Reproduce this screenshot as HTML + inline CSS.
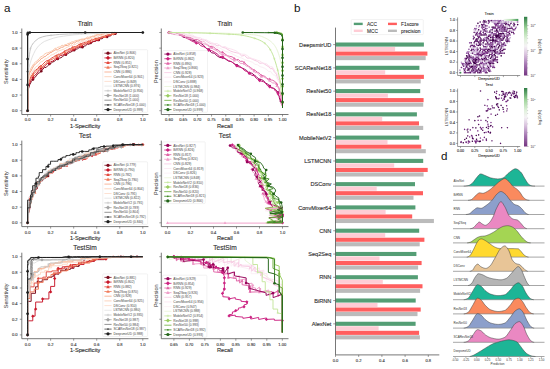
<!DOCTYPE html>
<html><head><meta charset="utf-8"><style>
html,body{margin:0;padding:0;background:#fff;width:550px;height:369px;overflow:hidden}
svg{display:block}
text{font-family:"Liberation Sans",sans-serif}
</style></head><body>
<svg width="550" height="369" viewBox="0 0 550 369">
<rect width="550" height="369" fill="#fff"/>
<defs>
<linearGradient id="cbar" x1="0" y1="1" x2="0" y2="0">
<stop offset="0" stop-color="#743581"/><stop offset="0.18" stop-color="#a273b0"/><stop offset="0.36" stop-color="#d9c3de"/>
<stop offset="0.5" stop-color="#f5f2f5"/><stop offset="0.62" stop-color="#e0f1db"/><stop offset="0.8" stop-color="#9fd49b"/>
<stop offset="1" stop-color="#2f7d45"/></linearGradient>
<linearGradient id="gstrip" x1="0" y1="0" x2="1" y2="0">
<stop offset="0" stop-color="#eef5ec"/><stop offset="0.5" stop-color="#b6dfb0"/><stop offset="1" stop-color="#3e9655"/></linearGradient>
</defs>
<line x1="21.8" y1="28.5" x2="21.8" y2="114.5" stroke="#555555" stroke-width="0.8" />
<line x1="21.8" y1="114.5" x2="148.4" y2="114.5" stroke="#555555" stroke-width="0.8" />
<line x1="19.8" y1="32.5" x2="21.8" y2="32.5" stroke="#555555" stroke-width="0.6" />
<text x="17.6" y="33.95" font-size="4.1" text-anchor="end" fill="#333333" stroke="#333333" stroke-width="0.1" >1.0</text>
<line x1="19.8" y1="48.14" x2="21.8" y2="48.14" stroke="#555555" stroke-width="0.6" />
<text x="17.6" y="49.59" font-size="4.1" text-anchor="end" fill="#333333" stroke="#333333" stroke-width="0.1" >0.8</text>
<line x1="19.8" y1="63.78" x2="21.8" y2="63.78" stroke="#555555" stroke-width="0.6" />
<text x="17.6" y="65.23" font-size="4.1" text-anchor="end" fill="#333333" stroke="#333333" stroke-width="0.1" >0.6</text>
<line x1="19.8" y1="79.42" x2="21.8" y2="79.42" stroke="#555555" stroke-width="0.6" />
<text x="17.6" y="80.87" font-size="4.1" text-anchor="end" fill="#333333" stroke="#333333" stroke-width="0.1" >0.4</text>
<line x1="19.8" y1="95.06" x2="21.8" y2="95.06" stroke="#555555" stroke-width="0.6" />
<text x="17.6" y="96.51" font-size="4.1" text-anchor="end" fill="#333333" stroke="#333333" stroke-width="0.1" >0.2</text>
<line x1="19.8" y1="110.7" x2="21.8" y2="110.7" stroke="#555555" stroke-width="0.6" />
<text x="17.6" y="112.15" font-size="4.1" text-anchor="end" fill="#333333" stroke="#333333" stroke-width="0.1" >0.0</text>
<line x1="27.6" y1="114.5" x2="27.6" y2="116.5" stroke="#555555" stroke-width="0.6" />
<text x="27.6" y="121.4" font-size="4.1" text-anchor="middle" fill="#333333" stroke="#333333" stroke-width="0.1" >0.0</text>
<line x1="50.64" y1="114.5" x2="50.64" y2="116.5" stroke="#555555" stroke-width="0.6" />
<text x="50.64" y="121.4" font-size="4.1" text-anchor="middle" fill="#333333" stroke="#333333" stroke-width="0.1" >0.2</text>
<line x1="73.68" y1="114.5" x2="73.68" y2="116.5" stroke="#555555" stroke-width="0.6" />
<text x="73.68" y="121.4" font-size="4.1" text-anchor="middle" fill="#333333" stroke="#333333" stroke-width="0.1" >0.4</text>
<line x1="96.72" y1="114.5" x2="96.72" y2="116.5" stroke="#555555" stroke-width="0.6" />
<text x="96.72" y="121.4" font-size="4.1" text-anchor="middle" fill="#333333" stroke="#333333" stroke-width="0.1" >0.6</text>
<line x1="119.76" y1="114.5" x2="119.76" y2="116.5" stroke="#555555" stroke-width="0.6" />
<text x="119.76" y="121.4" font-size="4.1" text-anchor="middle" fill="#333333" stroke="#333333" stroke-width="0.1" >0.8</text>
<line x1="142.8" y1="114.5" x2="142.8" y2="116.5" stroke="#555555" stroke-width="0.6" />
<text x="142.8" y="121.4" font-size="4.1" text-anchor="middle" fill="#333333" stroke="#333333" stroke-width="0.1" >1.0</text>
<text x="85.1" y="128" font-size="5.65" text-anchor="middle" fill="#333333" stroke="#333333" stroke-width="0.14" >1-Specificity</text>
<text x="85.1" y="25.9" font-size="6.6" text-anchor="middle" fill="#333" stroke="#333" stroke-width="0.14" >Train</text>
<text x="7.8" y="71.6" font-size="5.5" text-anchor="middle" fill="#333333" transform="rotate(-90 7.8 71.6)">Sensitivity</text>
<line x1="161.3" y1="28.5" x2="161.3" y2="114.5" stroke="#555555" stroke-width="0.8" />
<line x1="161.3" y1="114.5" x2="288.5" y2="114.5" stroke="#555555" stroke-width="0.8" />
<line x1="159.3" y1="32.5" x2="161.3" y2="32.5" stroke="#555555" stroke-width="0.6" />
<line x1="159.3" y1="48.14" x2="161.3" y2="48.14" stroke="#555555" stroke-width="0.6" />
<line x1="159.3" y1="63.78" x2="161.3" y2="63.78" stroke="#555555" stroke-width="0.6" />
<line x1="159.3" y1="79.42" x2="161.3" y2="79.42" stroke="#555555" stroke-width="0.6" />
<line x1="159.3" y1="95.06" x2="161.3" y2="95.06" stroke="#555555" stroke-width="0.6" />
<line x1="159.3" y1="110.7" x2="161.3" y2="110.7" stroke="#555555" stroke-width="0.6" />
<line x1="169" y1="114.5" x2="169" y2="116.5" stroke="#555555" stroke-width="0.6" />
<text x="169" y="121.4" font-size="4.1" text-anchor="middle" fill="#333333" stroke="#333333" stroke-width="0.1" >0.60</text>
<line x1="183.19" y1="114.5" x2="183.19" y2="116.5" stroke="#555555" stroke-width="0.6" />
<text x="183.19" y="121.4" font-size="4.1" text-anchor="middle" fill="#333333" stroke="#333333" stroke-width="0.1" >0.65</text>
<line x1="197.38" y1="114.5" x2="197.38" y2="116.5" stroke="#555555" stroke-width="0.6" />
<text x="197.38" y="121.4" font-size="4.1" text-anchor="middle" fill="#333333" stroke="#333333" stroke-width="0.1" >0.70</text>
<line x1="211.56" y1="114.5" x2="211.56" y2="116.5" stroke="#555555" stroke-width="0.6" />
<text x="211.56" y="121.4" font-size="4.1" text-anchor="middle" fill="#333333" stroke="#333333" stroke-width="0.1" >0.75</text>
<line x1="225.75" y1="114.5" x2="225.75" y2="116.5" stroke="#555555" stroke-width="0.6" />
<text x="225.75" y="121.4" font-size="4.1" text-anchor="middle" fill="#333333" stroke="#333333" stroke-width="0.1" >0.80</text>
<line x1="239.94" y1="114.5" x2="239.94" y2="116.5" stroke="#555555" stroke-width="0.6" />
<text x="239.94" y="121.4" font-size="4.1" text-anchor="middle" fill="#333333" stroke="#333333" stroke-width="0.1" >0.85</text>
<line x1="254.12" y1="114.5" x2="254.12" y2="116.5" stroke="#555555" stroke-width="0.6" />
<text x="254.12" y="121.4" font-size="4.1" text-anchor="middle" fill="#333333" stroke="#333333" stroke-width="0.1" >0.90</text>
<line x1="268.31" y1="114.5" x2="268.31" y2="116.5" stroke="#555555" stroke-width="0.6" />
<text x="268.31" y="121.4" font-size="4.1" text-anchor="middle" fill="#333333" stroke="#333333" stroke-width="0.1" >0.95</text>
<line x1="282.5" y1="114.5" x2="282.5" y2="116.5" stroke="#555555" stroke-width="0.6" />
<text x="282.5" y="121.4" font-size="4.1" text-anchor="middle" fill="#333333" stroke="#333333" stroke-width="0.1" >1.00</text>
<text x="224.9" y="128" font-size="5.65" text-anchor="middle" fill="#333333" stroke="#333333" stroke-width="0.14" >Recall</text>
<text x="224.9" y="25.9" font-size="6.6" text-anchor="middle" fill="#333" stroke="#333" stroke-width="0.14" >Train</text>
<text x="158.4" y="71.6" font-size="5.5" text-anchor="middle" fill="#333333" transform="rotate(-90 158.4 71.6)">Precision</text>
<line x1="21.8" y1="140.6" x2="21.8" y2="226.6" stroke="#555555" stroke-width="0.8" />
<line x1="21.8" y1="226.6" x2="148.4" y2="226.6" stroke="#555555" stroke-width="0.8" />
<line x1="19.8" y1="144.6" x2="21.8" y2="144.6" stroke="#555555" stroke-width="0.6" />
<text x="17.6" y="146.05" font-size="4.1" text-anchor="end" fill="#333333" stroke="#333333" stroke-width="0.1" >1.0</text>
<line x1="19.8" y1="160.24" x2="21.8" y2="160.24" stroke="#555555" stroke-width="0.6" />
<text x="17.6" y="161.69" font-size="4.1" text-anchor="end" fill="#333333" stroke="#333333" stroke-width="0.1" >0.8</text>
<line x1="19.8" y1="175.88" x2="21.8" y2="175.88" stroke="#555555" stroke-width="0.6" />
<text x="17.6" y="177.33" font-size="4.1" text-anchor="end" fill="#333333" stroke="#333333" stroke-width="0.1" >0.6</text>
<line x1="19.8" y1="191.52" x2="21.8" y2="191.52" stroke="#555555" stroke-width="0.6" />
<text x="17.6" y="192.97" font-size="4.1" text-anchor="end" fill="#333333" stroke="#333333" stroke-width="0.1" >0.4</text>
<line x1="19.8" y1="207.16" x2="21.8" y2="207.16" stroke="#555555" stroke-width="0.6" />
<text x="17.6" y="208.61" font-size="4.1" text-anchor="end" fill="#333333" stroke="#333333" stroke-width="0.1" >0.2</text>
<line x1="19.8" y1="222.8" x2="21.8" y2="222.8" stroke="#555555" stroke-width="0.6" />
<text x="17.6" y="224.25" font-size="4.1" text-anchor="end" fill="#333333" stroke="#333333" stroke-width="0.1" >0.0</text>
<line x1="27.6" y1="226.6" x2="27.6" y2="228.6" stroke="#555555" stroke-width="0.6" />
<text x="27.6" y="233.5" font-size="4.1" text-anchor="middle" fill="#333333" stroke="#333333" stroke-width="0.1" >0.0</text>
<line x1="50.64" y1="226.6" x2="50.64" y2="228.6" stroke="#555555" stroke-width="0.6" />
<text x="50.64" y="233.5" font-size="4.1" text-anchor="middle" fill="#333333" stroke="#333333" stroke-width="0.1" >0.2</text>
<line x1="73.68" y1="226.6" x2="73.68" y2="228.6" stroke="#555555" stroke-width="0.6" />
<text x="73.68" y="233.5" font-size="4.1" text-anchor="middle" fill="#333333" stroke="#333333" stroke-width="0.1" >0.4</text>
<line x1="96.72" y1="226.6" x2="96.72" y2="228.6" stroke="#555555" stroke-width="0.6" />
<text x="96.72" y="233.5" font-size="4.1" text-anchor="middle" fill="#333333" stroke="#333333" stroke-width="0.1" >0.6</text>
<line x1="119.76" y1="226.6" x2="119.76" y2="228.6" stroke="#555555" stroke-width="0.6" />
<text x="119.76" y="233.5" font-size="4.1" text-anchor="middle" fill="#333333" stroke="#333333" stroke-width="0.1" >0.8</text>
<line x1="142.8" y1="226.6" x2="142.8" y2="228.6" stroke="#555555" stroke-width="0.6" />
<text x="142.8" y="233.5" font-size="4.1" text-anchor="middle" fill="#333333" stroke="#333333" stroke-width="0.1" >1.0</text>
<text x="85.1" y="240.1" font-size="5.65" text-anchor="middle" fill="#333333" stroke="#333333" stroke-width="0.14" >1-Specificity</text>
<text x="85.1" y="138" font-size="6.6" text-anchor="middle" fill="#333" stroke="#333" stroke-width="0.14" >Test</text>
<text x="7.8" y="183.7" font-size="5.5" text-anchor="middle" fill="#333333" transform="rotate(-90 7.8 183.7)">Sensitivity</text>
<line x1="161.3" y1="140.6" x2="161.3" y2="226.6" stroke="#555555" stroke-width="0.8" />
<line x1="161.3" y1="226.6" x2="288.5" y2="226.6" stroke="#555555" stroke-width="0.8" />
<line x1="159.3" y1="144.6" x2="161.3" y2="144.6" stroke="#555555" stroke-width="0.6" />
<line x1="159.3" y1="160.24" x2="161.3" y2="160.24" stroke="#555555" stroke-width="0.6" />
<line x1="159.3" y1="175.88" x2="161.3" y2="175.88" stroke="#555555" stroke-width="0.6" />
<line x1="159.3" y1="191.52" x2="161.3" y2="191.52" stroke="#555555" stroke-width="0.6" />
<line x1="159.3" y1="207.16" x2="161.3" y2="207.16" stroke="#555555" stroke-width="0.6" />
<line x1="159.3" y1="222.8" x2="161.3" y2="222.8" stroke="#555555" stroke-width="0.6" />
<line x1="167.5" y1="226.6" x2="167.5" y2="228.6" stroke="#555555" stroke-width="0.6" />
<text x="167.5" y="233.5" font-size="4.1" text-anchor="middle" fill="#333333" stroke="#333333" stroke-width="0.1" >0.0</text>
<line x1="190.5" y1="226.6" x2="190.5" y2="228.6" stroke="#555555" stroke-width="0.6" />
<text x="190.5" y="233.5" font-size="4.1" text-anchor="middle" fill="#333333" stroke="#333333" stroke-width="0.1" >0.2</text>
<line x1="213.5" y1="226.6" x2="213.5" y2="228.6" stroke="#555555" stroke-width="0.6" />
<text x="213.5" y="233.5" font-size="4.1" text-anchor="middle" fill="#333333" stroke="#333333" stroke-width="0.1" >0.4</text>
<line x1="236.5" y1="226.6" x2="236.5" y2="228.6" stroke="#555555" stroke-width="0.6" />
<text x="236.5" y="233.5" font-size="4.1" text-anchor="middle" fill="#333333" stroke="#333333" stroke-width="0.1" >0.6</text>
<line x1="259.5" y1="226.6" x2="259.5" y2="228.6" stroke="#555555" stroke-width="0.6" />
<text x="259.5" y="233.5" font-size="4.1" text-anchor="middle" fill="#333333" stroke="#333333" stroke-width="0.1" >0.8</text>
<line x1="282.5" y1="226.6" x2="282.5" y2="228.6" stroke="#555555" stroke-width="0.6" />
<text x="282.5" y="233.5" font-size="4.1" text-anchor="middle" fill="#333333" stroke="#333333" stroke-width="0.1" >1.0</text>
<text x="224.9" y="240.1" font-size="5.65" text-anchor="middle" fill="#333333" stroke="#333333" stroke-width="0.14" >Recall</text>
<text x="224.9" y="138" font-size="6.6" text-anchor="middle" fill="#333" stroke="#333" stroke-width="0.14" >Test</text>
<text x="158.4" y="183.7" font-size="5.5" text-anchor="middle" fill="#333333" transform="rotate(-90 158.4 183.7)">Precision</text>
<line x1="21.8" y1="252.7" x2="21.8" y2="338.7" stroke="#555555" stroke-width="0.8" />
<line x1="21.8" y1="338.7" x2="148.4" y2="338.7" stroke="#555555" stroke-width="0.8" />
<line x1="19.8" y1="256.7" x2="21.8" y2="256.7" stroke="#555555" stroke-width="0.6" />
<text x="17.6" y="258.15" font-size="4.1" text-anchor="end" fill="#333333" stroke="#333333" stroke-width="0.1" >1.0</text>
<line x1="19.8" y1="272.34" x2="21.8" y2="272.34" stroke="#555555" stroke-width="0.6" />
<text x="17.6" y="273.79" font-size="4.1" text-anchor="end" fill="#333333" stroke="#333333" stroke-width="0.1" >0.8</text>
<line x1="19.8" y1="287.98" x2="21.8" y2="287.98" stroke="#555555" stroke-width="0.6" />
<text x="17.6" y="289.43" font-size="4.1" text-anchor="end" fill="#333333" stroke="#333333" stroke-width="0.1" >0.6</text>
<line x1="19.8" y1="303.62" x2="21.8" y2="303.62" stroke="#555555" stroke-width="0.6" />
<text x="17.6" y="305.07" font-size="4.1" text-anchor="end" fill="#333333" stroke="#333333" stroke-width="0.1" >0.4</text>
<line x1="19.8" y1="319.26" x2="21.8" y2="319.26" stroke="#555555" stroke-width="0.6" />
<text x="17.6" y="320.71" font-size="4.1" text-anchor="end" fill="#333333" stroke="#333333" stroke-width="0.1" >0.2</text>
<line x1="19.8" y1="334.9" x2="21.8" y2="334.9" stroke="#555555" stroke-width="0.6" />
<text x="17.6" y="336.35" font-size="4.1" text-anchor="end" fill="#333333" stroke="#333333" stroke-width="0.1" >0.0</text>
<line x1="27.6" y1="338.7" x2="27.6" y2="340.7" stroke="#555555" stroke-width="0.6" />
<text x="27.6" y="345.6" font-size="4.1" text-anchor="middle" fill="#333333" stroke="#333333" stroke-width="0.1" >0.0</text>
<line x1="50.64" y1="338.7" x2="50.64" y2="340.7" stroke="#555555" stroke-width="0.6" />
<text x="50.64" y="345.6" font-size="4.1" text-anchor="middle" fill="#333333" stroke="#333333" stroke-width="0.1" >0.2</text>
<line x1="73.68" y1="338.7" x2="73.68" y2="340.7" stroke="#555555" stroke-width="0.6" />
<text x="73.68" y="345.6" font-size="4.1" text-anchor="middle" fill="#333333" stroke="#333333" stroke-width="0.1" >0.4</text>
<line x1="96.72" y1="338.7" x2="96.72" y2="340.7" stroke="#555555" stroke-width="0.6" />
<text x="96.72" y="345.6" font-size="4.1" text-anchor="middle" fill="#333333" stroke="#333333" stroke-width="0.1" >0.6</text>
<line x1="119.76" y1="338.7" x2="119.76" y2="340.7" stroke="#555555" stroke-width="0.6" />
<text x="119.76" y="345.6" font-size="4.1" text-anchor="middle" fill="#333333" stroke="#333333" stroke-width="0.1" >0.8</text>
<line x1="142.8" y1="338.7" x2="142.8" y2="340.7" stroke="#555555" stroke-width="0.6" />
<text x="142.8" y="345.6" font-size="4.1" text-anchor="middle" fill="#333333" stroke="#333333" stroke-width="0.1" >1.0</text>
<text x="85.1" y="352.2" font-size="5.65" text-anchor="middle" fill="#333333" stroke="#333333" stroke-width="0.14" >1-Specificity</text>
<text x="85.1" y="250.1" font-size="6.6" text-anchor="middle" fill="#333" stroke="#333" stroke-width="0.14" >TestSim</text>
<text x="7.8" y="295.8" font-size="5.5" text-anchor="middle" fill="#333333" transform="rotate(-90 7.8 295.8)">Sensitivity</text>
<line x1="161.3" y1="252.7" x2="161.3" y2="338.7" stroke="#555555" stroke-width="0.8" />
<line x1="161.3" y1="338.7" x2="288.5" y2="338.7" stroke="#555555" stroke-width="0.8" />
<line x1="159.3" y1="256.7" x2="161.3" y2="256.7" stroke="#555555" stroke-width="0.6" />
<line x1="159.3" y1="272.34" x2="161.3" y2="272.34" stroke="#555555" stroke-width="0.6" />
<line x1="159.3" y1="287.98" x2="161.3" y2="287.98" stroke="#555555" stroke-width="0.6" />
<line x1="159.3" y1="303.62" x2="161.3" y2="303.62" stroke="#555555" stroke-width="0.6" />
<line x1="159.3" y1="319.26" x2="161.3" y2="319.26" stroke="#555555" stroke-width="0.6" />
<line x1="159.3" y1="334.9" x2="161.3" y2="334.9" stroke="#555555" stroke-width="0.6" />
<line x1="173.9" y1="338.7" x2="173.9" y2="340.7" stroke="#555555" stroke-width="0.6" />
<text x="173.9" y="345.6" font-size="4.1" text-anchor="middle" fill="#333333" stroke="#333333" stroke-width="0.1" >0.65</text>
<line x1="189.38" y1="338.7" x2="189.38" y2="340.7" stroke="#555555" stroke-width="0.6" />
<text x="189.38" y="345.6" font-size="4.1" text-anchor="middle" fill="#333333" stroke="#333333" stroke-width="0.1" >0.70</text>
<line x1="204.87" y1="338.7" x2="204.87" y2="340.7" stroke="#555555" stroke-width="0.6" />
<text x="204.87" y="345.6" font-size="4.1" text-anchor="middle" fill="#333333" stroke="#333333" stroke-width="0.1" >0.75</text>
<line x1="220.36" y1="338.7" x2="220.36" y2="340.7" stroke="#555555" stroke-width="0.6" />
<text x="220.36" y="345.6" font-size="4.1" text-anchor="middle" fill="#333333" stroke="#333333" stroke-width="0.1" >0.80</text>
<line x1="235.84" y1="338.7" x2="235.84" y2="340.7" stroke="#555555" stroke-width="0.6" />
<text x="235.84" y="345.6" font-size="4.1" text-anchor="middle" fill="#333333" stroke="#333333" stroke-width="0.1" >0.85</text>
<line x1="251.32" y1="338.7" x2="251.32" y2="340.7" stroke="#555555" stroke-width="0.6" />
<text x="251.32" y="345.6" font-size="4.1" text-anchor="middle" fill="#333333" stroke="#333333" stroke-width="0.1" >0.90</text>
<line x1="266.81" y1="338.7" x2="266.81" y2="340.7" stroke="#555555" stroke-width="0.6" />
<text x="266.81" y="345.6" font-size="4.1" text-anchor="middle" fill="#333333" stroke="#333333" stroke-width="0.1" >0.95</text>
<line x1="282.3" y1="338.7" x2="282.3" y2="340.7" stroke="#555555" stroke-width="0.6" />
<text x="282.3" y="345.6" font-size="4.1" text-anchor="middle" fill="#333333" stroke="#333333" stroke-width="0.1" >1.00</text>
<text x="224.9" y="352.2" font-size="5.65" text-anchor="middle" fill="#333333" stroke="#333333" stroke-width="0.14" >Recall</text>
<text x="224.9" y="250.1" font-size="6.6" text-anchor="middle" fill="#333" stroke="#333" stroke-width="0.14" >TestSim</text>
<text x="158.4" y="295.8" font-size="5.5" text-anchor="middle" fill="#333333" transform="rotate(-90 158.4 295.8)">Precision</text>
<text x="4" y="11.7" font-size="11.6" text-anchor="start" fill="#111" >a</text>
<text x="294" y="11.6" font-size="11.6" text-anchor="start" fill="#111" >b</text>
<text x="441" y="11.6" font-size="11.6" text-anchor="start" fill="#111" >c</text>
<text x="441" y="160.4" font-size="11.6" text-anchor="start" fill="#111" >d</text>
<polyline points="118.61,32.5 142.8,32.5" fill="none" stroke="#7a0a1c" stroke-width="1.0" stroke-linejoin="round" />
<polyline points="27.6,110.7 27.6,110.36 28.06,90.19 29.71,84.72 31.35,81.56 33,79.46 34.65,77.71 36.29,75.89 37.94,73.49 39.58,72.65 41.23,71.28 42.88,69.15 44.52,67.5 46.17,67.43 47.82,65.58 49.46,64.05 51.11,63.18 52.76,61.96 54.4,61.45 56.05,59.65 57.69,58.92 59.34,58.17 60.99,57.73 62.63,56.53 64.28,55.25 65.93,54.66 67.57,53.81 69.22,52.74 70.86,52.04 72.51,51.06 74.16,50.32 75.8,49.28 77.45,48.87 79.1,47.62 80.74,47.61 82.39,47.16 84.04,46.17 85.68,45.69 87.33,44.09 88.97,44.37 90.62,42.95 92.27,42.37 93.91,41.36 95.56,41.47 97.21,39.99 98.85,39.97 100.5,38.83 102.14,38.77 103.79,37.4 105.44,37.48 107.08,37.07 108.73,36.17 110.38,35.94 112.02,34.43 113.67,34.68 115.32,33.8 116.96,32.52 118.61,32.5" fill="none" stroke="#7a0a1c" stroke-width="1.0" stroke-linejoin="round" />
<circle cx="27.6" cy="110.7" r="1.3" fill="#7a0a1c"/>
<circle cx="33" cy="79.46" r="1.3" fill="#7a0a1c"/>
<circle cx="41.23" cy="71.28" r="1.3" fill="#7a0a1c"/>
<circle cx="49.46" cy="64.05" r="1.3" fill="#7a0a1c"/>
<circle cx="57.69" cy="58.92" r="1.3" fill="#7a0a1c"/>
<circle cx="65.93" cy="54.66" r="1.3" fill="#7a0a1c"/>
<circle cx="74.16" cy="50.32" r="1.3" fill="#7a0a1c"/>
<circle cx="82.39" cy="47.16" r="1.3" fill="#7a0a1c"/>
<circle cx="90.62" cy="42.95" r="1.3" fill="#7a0a1c"/>
<circle cx="98.85" cy="39.97" r="1.3" fill="#7a0a1c"/>
<circle cx="107.08" cy="37.07" r="1.3" fill="#7a0a1c"/>
<circle cx="115.32" cy="33.8" r="1.3" fill="#7a0a1c"/>
<polyline points="117.46,32.5 142.8,32.5" fill="none" stroke="#c8172a" stroke-width="1.0" stroke-linejoin="round" />
<polyline points="27.6,110.7 27.6,111.1 28.06,88.28 29.69,82.92 31.31,79.57 32.94,77.55 34.56,75.41 36.19,74.17 37.81,71.91 39.44,69.81 41.06,68.49 42.69,67.29 44.31,66.79 45.94,64.59 47.57,63.47 49.19,63.22 50.82,61.56 52.44,61.28 54.07,60.16 55.69,58.93 57.32,58.18 58.94,56.51 60.57,55.53 62.19,55.25 63.82,54.43 65.44,53.85 67.07,53.06 68.69,51.47 70.32,50.83 71.95,50.74 73.57,49.45 75.2,48.8 76.82,47.51 78.45,46.95 80.07,46.39 81.7,45.75 83.32,44.57 84.95,43.84 86.57,43.99 88.2,43.45 89.82,42.1 91.45,42.38 93.08,41.37 94.7,41.11 96.33,40.18 97.95,39.88 99.58,39 101.2,37.78 102.83,37.05 104.45,36.6 106.08,36.31 107.7,35.67 109.33,35.42 110.95,35.1 112.58,34.21 114.21,33.29 115.83,33.59 117.46,32.5" fill="none" stroke="#c8172a" stroke-width="1.0" stroke-linejoin="round" />
<path d="M27.6,109.05L29.25,110.7L27.6,112.35L25.95,110.7Z" fill="#c8172a"/>
<path d="M32.94,75.9L34.59,77.55L32.94,79.2L31.29,77.55Z" fill="#c8172a"/>
<path d="M41.06,66.84L42.71,68.49L41.06,70.14L39.41,68.49Z" fill="#c8172a"/>
<path d="M49.19,61.57L50.84,63.22L49.19,64.87L47.54,63.22Z" fill="#c8172a"/>
<path d="M57.32,56.53L58.97,58.18L57.32,59.83L55.67,58.18Z" fill="#c8172a"/>
<path d="M65.44,52.2L67.09,53.85L65.44,55.5L63.79,53.85Z" fill="#c8172a"/>
<path d="M73.57,47.8L75.22,49.45L73.57,51.1L71.92,49.45Z" fill="#c8172a"/>
<path d="M81.7,44.1L83.35,45.75L81.7,47.4L80.05,45.75Z" fill="#c8172a"/>
<path d="M89.82,40.45L91.47,42.1L89.82,43.75L88.17,42.1Z" fill="#c8172a"/>
<path d="M97.95,38.23L99.6,39.88L97.95,41.53L96.3,39.88Z" fill="#c8172a"/>
<path d="M106.08,34.66L107.73,36.31L106.08,37.96L104.43,36.31Z" fill="#c8172a"/>
<path d="M114.21,31.64L115.86,33.29L114.21,34.94L112.56,33.29Z" fill="#c8172a"/>
<polyline points="115.15,32.5 142.8,32.5" fill="none" stroke="#e2483c" stroke-width="1.0" stroke-linejoin="round" />
<polyline points="27.6,110.7 27.6,111.13 28.06,83.72 29.64,79.47 31.23,76.15 32.81,74.46 34.39,71.34 35.98,69.61 37.56,69.12 39.15,66.51 40.73,66.18 42.31,64.73 43.9,63.12 45.48,61.56 47.06,60.59 48.65,60.62 50.23,58.97 51.81,57.97 53.4,57.12 54.98,55.86 56.56,55.75 58.15,54.15 59.73,54.25 61.31,53.31 62.9,52.55 64.48,51.54 66.06,50.34 67.65,49.86 69.23,48.71 70.81,48.66 72.4,47.42 73.98,46.78 75.57,46.59 77.15,45.92 78.73,44.48 80.32,44.29 81.9,43.26 83.48,42.88 85.07,42.2 86.65,42.13 88.23,41.49 89.82,40.98 91.4,39.66 92.98,40.12 94.57,38.59 96.15,38.72 97.73,38.17 99.32,37.59 100.9,37.17 102.48,36.53 104.07,36.55 105.65,35.98 107.23,34.66 108.82,34.28 110.4,34.55 111.99,33.72 113.57,33.33 115.15,32.5" fill="none" stroke="#e2483c" stroke-width="1.0" stroke-linejoin="round" />
<path d="M27.6,109.25L29.05,111.79L26.15,111.79Z" fill="#e2483c"/>
<path d="M32.81,73.01L34.26,75.55L31.36,75.55Z" fill="#e2483c"/>
<path d="M40.73,64.73L42.18,67.27L39.28,67.27Z" fill="#e2483c"/>
<path d="M48.65,59.17L50.1,61.7L47.2,61.7Z" fill="#e2483c"/>
<path d="M56.56,54.3L58.01,56.84L55.11,56.84Z" fill="#e2483c"/>
<path d="M64.48,50.09L65.93,52.63L63.03,52.63Z" fill="#e2483c"/>
<path d="M72.4,45.97L73.85,48.51L70.95,48.51Z" fill="#e2483c"/>
<path d="M80.32,42.84L81.77,45.38L78.87,45.38Z" fill="#e2483c"/>
<path d="M88.23,40.04L89.68,42.58L86.78,42.58Z" fill="#e2483c"/>
<path d="M96.15,37.27L97.6,39.8L94.7,39.8Z" fill="#e2483c"/>
<path d="M104.07,35.1L105.52,37.64L102.62,37.64Z" fill="#e2483c"/>
<path d="M111.99,32.27L113.44,34.8L110.54,34.8Z" fill="#e2483c"/>
<polyline points="116.3,32.5 142.8,32.5" fill="none" stroke="#f07a5a" stroke-width="1.0" stroke-linejoin="round" />
<polyline points="27.6,110.7 27.6,110.35 28.06,86.06 29.67,80.44 31.27,77.24 32.87,74.85 34.48,73.47 36.08,71.48 37.69,69.64 39.29,68.31 40.9,66.82 42.5,66.37 44.11,64.8 45.71,63.93 47.31,61.81 48.92,61.34 50.52,59.92 52.13,59.45 53.73,58.37 55.34,57.86 56.94,56.52 58.54,54.9 60.15,54.96 61.75,53.99 63.36,52.43 64.96,52.74 66.57,51.92 68.17,50.45 69.78,49.4 71.38,49.75 72.98,48.11 74.59,47.32 76.19,47.55 77.8,46.14 79.4,45.66 81.01,45.03 82.61,43.79 84.22,44.35 85.82,43.41 87.42,42.2 89.03,42.08 90.63,41.53 92.24,40.41 93.84,39.54 95.45,39.81 97.05,38.97 98.66,38.65 100.26,37.94 101.86,37.1 103.47,36.34 105.07,36.68 106.68,35.37 108.28,35.01 109.89,35 111.49,34.53 113.1,33.83 114.7,33.44 116.3,32.5" fill="none" stroke="#f07a5a" stroke-width="1.0" stroke-linejoin="round" />
<path d="M27.6,109.25L29.05,111.79L26.15,111.79Z" fill="#f07a5a"/>
<path d="M32.87,73.4L34.32,75.93L31.42,75.93Z" fill="#f07a5a"/>
<path d="M40.9,65.37L42.35,67.91L39.45,67.91Z" fill="#f07a5a"/>
<path d="M48.92,59.89L50.37,62.43L47.47,62.43Z" fill="#f07a5a"/>
<path d="M56.94,55.07L58.39,57.61L55.49,57.61Z" fill="#f07a5a"/>
<path d="M64.96,51.29L66.41,53.83L63.51,53.83Z" fill="#f07a5a"/>
<path d="M72.98,46.66L74.43,49.2L71.53,49.2Z" fill="#f07a5a"/>
<path d="M81.01,43.58L82.46,46.12L79.56,46.12Z" fill="#f07a5a"/>
<path d="M89.03,40.63L90.48,43.16L87.58,43.16Z" fill="#f07a5a"/>
<path d="M97.05,37.52L98.5,40.05L95.6,40.05Z" fill="#f07a5a"/>
<path d="M105.07,35.23L106.52,37.77L103.62,37.77Z" fill="#f07a5a"/>
<path d="M113.1,32.38L114.55,34.92L111.65,34.92Z" fill="#f07a5a"/>
<polyline points="108.24,32.5 142.8,32.5" fill="none" stroke="#f7a583" stroke-width="1.0" stroke-linejoin="round" />
<polyline points="27.6,110.7 27.6,110.68 28.06,78.8 29.52,73.05 30.98,70.94 32.43,68.15 33.89,65.36 35.35,64.21 36.81,62.94 38.27,61.29 39.72,60.44 41.18,58.54 42.64,58.03 44.1,56.76 45.55,56.46 47.01,54.7 48.47,54.41 49.93,52.66 51.39,52.55 52.84,51.31 54.3,50.54 55.76,49.69 57.22,49.94 58.67,49.02 60.13,48.15 61.59,47.26 63.05,47.16 64.51,46 65.96,45.46 67.42,45.48 68.88,44.74 70.34,43.48 71.79,43.94 73.25,42.58 74.71,42.92 76.17,41.57 77.63,41.06 79.08,40.99 80.54,39.78 82,39.98 83.46,39.84 84.92,39.18 86.37,38.28 87.83,38.28 89.29,38.23 90.75,37.47 92.2,36.19 93.66,36.66 95.12,36.03 96.58,35.28 98.04,34.62 99.49,35.18 100.95,34.75 102.41,34.46 103.87,33.98 105.32,32.62 106.78,33.19 108.24,32.5" fill="none" stroke="#f7a583" stroke-width="1.0" stroke-linejoin="round" />
<polyline points="105.94,32.5 142.8,32.5" fill="none" stroke="#fbc9ad" stroke-width="1.0" stroke-linejoin="round" />
<polyline points="27.6,110.7 27.6,110.26 28.06,77.27 29.48,71.83 30.89,68.31 32.31,66.08 33.72,63.85 35.14,62.48 36.56,61.03 37.97,59.96 39.39,58.58 40.8,56.64 42.22,56.42 43.64,54.88 45.05,53.78 46.47,52.98 47.88,52.9 49.3,52.16 50.72,51.55 52.13,50.83 53.55,49.93 54.96,48.25 56.38,48.38 57.79,47.26 59.21,47 60.63,46.36 62.04,45.23 63.46,45.71 64.87,44.72 66.29,44.58 67.71,43.56 69.12,43.35 70.54,42.54 71.95,41.89 73.37,41.79 74.79,40.99 76.2,40.5 77.62,40.33 79.03,39.9 80.45,39.48 81.87,39.03 83.28,39.01 84.7,38.63 86.11,38.19 87.53,37.01 88.95,37.45 90.36,36.47 91.78,36.54 93.19,36.29 94.61,35.15 96.02,35.03 97.44,34 98.86,34.45 100.27,34.26 101.69,33.3 103.1,33.37 104.52,32.5 105.94,32.5" fill="none" stroke="#fbc9ad" stroke-width="1.0" stroke-linejoin="round" />
<polyline points="111.7,32.5 142.8,32.5" fill="none" stroke="#fcd9c6" stroke-width="1.0" stroke-linejoin="round" />
<polyline points="27.6,110.7 27.6,111.05 28.06,82.44 29.58,76.78 31.1,74.15 32.62,71.27 34.14,69.38 35.66,67 37.18,66.06 38.71,64.72 40.23,62.3 41.75,61.52 43.27,60.97 44.79,59.06 46.31,58.72 47.83,57.61 49.35,56.61 50.87,55.19 52.39,54.61 53.91,54.08 55.43,52.97 56.95,52.59 58.47,50.83 59.99,50.53 61.51,49.92 63.04,49.42 64.56,49.07 66.08,47.52 67.6,47.13 69.12,46.21 70.64,45.55 72.16,45.84 73.68,44.51 75.2,44.68 76.72,43.32 78.24,43.05 79.76,42.47 81.28,41.68 82.8,41.11 84.32,41.11 85.85,40.91 87.37,39.45 88.89,38.89 90.41,39.24 91.93,38.2 93.45,38.02 94.97,37.68 96.49,37.25 98.01,36.7 99.53,35.36 101.05,35.86 102.57,35.24 104.09,35.23 105.61,34.04 107.13,34.1 108.65,33.03 110.18,32.81 111.7,32.5" fill="none" stroke="#fcd9c6" stroke-width="1.0" stroke-linejoin="round" />
<polyline points="27.6,110.7 27.6,107.11 27.6,103.51 27.6,99.92 27.6,96.33 27.6,92.73 27.6,89.14 27.6,85.55 27.6,81.95 27.6,78.36 27.75,74.77 28.44,71.21 29.14,67.65 29.84,64.08 30.99,60.58 32.18,57.08 33.71,53.64 35.4,50.23 37.66,46.99 40.56,44.04 44.3,41.49 48.88,39.74 53.62,38.14 58.54,36.9 63.73,36.2 68.92,35.49 74.12,34.82 79.39,34.46 84.66,34.1 89.92,33.74 95.19,33.39 100.47,33.15 105.76,32.98 111.05,32.8 116.34,32.62 121.62,32.5 126.92,32.5 132.21,32.5 137.51,32.5 142.8,32.5" fill="none" stroke="#e2e2e2" stroke-width="1.0" stroke-linejoin="round" />
<polyline points="27.6,110.7 27.6,107.73 27.6,104.76 27.6,101.78 27.6,98.81 27.6,95.84 27.6,92.87 27.6,89.9 27.6,86.93 27.6,83.95 27.6,80.98 27.6,78.01 27.6,75.04 27.6,72.07 27.85,69.1 28.14,66.14 28.43,63.17 28.72,60.2 29.11,57.25 29.52,54.29 29.92,51.33 30.47,48.39 31.67,45.53 33.44,42.84 35.96,40.42 38.8,38.19 42.67,36.81 46.74,35.81 51.06,35.32 55.38,34.83 59.71,34.41 64.07,34.19 68.44,33.98 72.81,33.77 77.17,33.56 81.54,33.35 85.91,33.19 90.28,33.05 94.66,32.92 99.03,32.78 103.4,32.65 107.78,32.51 112.15,32.5 116.53,32.5 120.91,32.5 125.29,32.5 129.67,32.5 134.04,32.5 138.42,32.5 142.8,32.5" fill="none" stroke="#c4c4c4" stroke-width="1.0" stroke-linejoin="round" />
<path d="M26.5,110.7H28.7M27.6,109.6V111.8" stroke="#c4c4c4" stroke-width="0.5"/>
<path d="M26.5,89.9H28.7M27.6,88.8V91" stroke="#c4c4c4" stroke-width="0.5"/>
<path d="M26.75,69.1H28.95M27.85,68V70.2" stroke="#c4c4c4" stroke-width="0.5"/>
<path d="M29.37,48.39H31.57M30.47,47.29V49.49" stroke="#c4c4c4" stroke-width="0.5"/>
<path d="M49.96,35.32H52.16M51.06,34.22V36.42" stroke="#c4c4c4" stroke-width="0.5"/>
<path d="M80.44,33.35H82.64M81.54,32.25V34.45" stroke="#c4c4c4" stroke-width="0.5"/>
<path d="M111.05,32.5H113.25M112.15,31.4V33.6" stroke="#c4c4c4" stroke-width="0.5"/>
<path d="M141.7,32.5H143.9M142.8,31.4V33.6" stroke="#c4c4c4" stroke-width="0.5"/>
<polyline points="27.6,110.7 27.6,71.6 27.6,32.89 27.95,32.5 142.8,32.5" fill="none" stroke="#a4a4a4" stroke-width="1.0" stroke-linejoin="round" />
<path d="M27.6,109.05L29.25,110.7L27.6,112.35L25.95,110.7Z" fill="#a4a4a4"/>
<path d="M27.6,69.95L29.25,71.6L27.6,73.25L25.95,71.6Z" fill="#a4a4a4"/>
<path d="M27.6,31.24L29.25,32.89L27.6,34.54L25.95,32.89Z" fill="#a4a4a4"/>
<path d="M27.95,30.85L29.6,32.5L27.95,34.15L26.3,32.5Z" fill="#a4a4a4"/>
<path d="M142.8,30.85L144.45,32.5L142.8,34.15L141.15,32.5Z" fill="#a4a4a4"/>
<polyline points="27.6,110.7 27.6,71.6 27.6,32.89 27.95,32.5 142.8,32.5" fill="none" stroke="#7a7a7a" stroke-width="1.0" stroke-linejoin="round" />
<polyline points="27.6,110.7 27.6,71.6 27.6,32.89 27.95,32.5 142.8,32.5" fill="none" stroke="#464646" stroke-width="1.0" stroke-linejoin="round" />
<circle cx="27.6" cy="110.7" r="0.7" fill="#464646"/>
<circle cx="27.6" cy="71.6" r="0.7" fill="#464646"/>
<circle cx="27.6" cy="32.89" r="0.7" fill="#464646"/>
<circle cx="27.95" cy="32.5" r="0.7" fill="#464646"/>
<circle cx="142.8" cy="32.5" r="0.7" fill="#464646"/>
<polyline points="27.6,110.7 27.6,84.89 27.6,59.09 27.6,34.45 28.06,33.28 29.9,32.5 85.2,32.5 142.8,32.5" fill="none" stroke="#1e1e1e" stroke-width="1.0" stroke-linejoin="round" />
<circle cx="27.6" cy="110.7" r="1.3" fill="#1e1e1e"/>
<circle cx="27.6" cy="84.89" r="1.3" fill="#1e1e1e"/>
<circle cx="27.6" cy="59.09" r="1.3" fill="#1e1e1e"/>
<circle cx="27.6" cy="34.45" r="1.3" fill="#1e1e1e"/>
<circle cx="28.06" cy="33.28" r="1.3" fill="#1e1e1e"/>
<circle cx="29.9" cy="32.5" r="1.3" fill="#1e1e1e"/>
<circle cx="85.2" cy="32.5" r="1.3" fill="#1e1e1e"/>
<circle cx="142.8" cy="32.5" r="1.3" fill="#1e1e1e"/>
<polyline points="27.6,222.8 27.6,210.93 29.42,210.93 29.42,207.32 30.26,207.32 30.26,196.74 33.13,196.74 33.13,192.24 34.62,192.24 34.62,187.91 36.56,187.91 36.56,185.96 38.09,185.96 38.09,182.64 40.23,182.64 40.23,180.79 42.65,180.79 42.65,178 45.49,178 45.49,175.98 48.08,175.98 48.08,171.61 51.48,171.61 51.48,169.99 53.83,169.99 53.83,169.99 56.77,169.99 56.77,167 59.42,167 59.42,167 60.19,167 60.19,166.54 63.38,166.54 63.38,166.31 65.32,166.31 65.32,166.05 66.34,166.05 66.34,163.95 69.34,163.95 69.34,163.02 70.59,163.02 70.59,162.57 71.76,162.57 71.76,162.57 73.7,162.57 73.7,161.02 76.24,161.02 76.24,159.01 79.58,159.01 79.58,159.01 82.57,159.01 82.57,156.64 84.67,156.64 84.67,156.64 87.1,156.64 87.1,154.69 90.1,154.69 90.1,154.69 92.03,154.69 92.03,154.14 94.83,154.14 94.83,151.87 97.28,151.87 97.28,151.87 98.97,151.87 98.97,150.96 99.7,150.96 99.7,150.96 101.89,150.96 101.89,150.96 103.47,150.96 103.47,150.96 104.56,150.96 104.56,150.96 106.77,150.96 106.77,150.17 107.98,150.17 107.98,149.1 109.77,149.1 109.77,148.56 111.12,148.56 111.12,148.56 111.92,148.56 111.92,147.55 114.18,147.55 114.18,146.05 117.42,146.05 117.42,146.05 118.61,146.05 118.61,146.05 121.24,146.05 121.24,145.94 123.93,145.94 123.93,145.05 124.7,145.05 124.7,145.05 127.01,145.05 127.01,145.05 129.63,145.05 129.63,144.6 132.83,144.6 132.83,144.6 136.2,144.6 136.2,144.6 139.2,144.6 139.2,144.6 142.52,144.6 142.52,144.6 142.8,144.6" fill="none" stroke="#7a0a1c" stroke-width="0.9" stroke-linejoin="round" />
<circle cx="27.6" cy="222.8" r="1.3" fill="#7a0a1c"/>
<circle cx="36.56" cy="187.91" r="1.3" fill="#7a0a1c"/>
<circle cx="48.08" cy="175.98" r="1.3" fill="#7a0a1c"/>
<circle cx="60.19" cy="167" r="1.3" fill="#7a0a1c"/>
<circle cx="70.59" cy="163.02" r="1.3" fill="#7a0a1c"/>
<circle cx="82.57" cy="159.01" r="1.3" fill="#7a0a1c"/>
<circle cx="94.83" cy="154.14" r="1.3" fill="#7a0a1c"/>
<circle cx="103.47" cy="150.96" r="1.3" fill="#7a0a1c"/>
<circle cx="111.12" cy="148.56" r="1.3" fill="#7a0a1c"/>
<circle cx="121.24" cy="146.05" r="1.3" fill="#7a0a1c"/>
<circle cx="132.83" cy="144.6" r="1.3" fill="#7a0a1c"/>
<polyline points="27.6,222.8 27.6,211.44 28.98,211.44 28.98,209.42 29.8,209.42 29.8,196.89 32.37,196.89 32.37,196.01 33.18,196.01 33.18,192.26 34.19,192.26 34.19,189.3 36.55,189.3 36.55,184.74 37.77,184.74 37.77,181.52 40.31,181.52 40.31,178.87 43.54,178.87 43.54,177.2 45.39,177.2 45.39,176.4 47,176.4 47,174.17 48.47,174.17 48.47,172.04 49.68,172.04 49.68,171.91 51.24,171.91 51.24,170.83 53.27,170.83 53.27,169.25 54.15,169.25 54.15,168.56 56.79,168.56 56.79,168.56 58.35,168.56 58.35,168.24 61.1,168.24 61.1,165.45 62.89,165.45 62.89,164.42 65.27,164.42 65.27,164.42 67.97,164.42 67.97,163.09 69.83,163.09 69.83,162.62 71.61,162.62 71.61,161.46 72.94,161.46 72.94,160.37 74.86,160.37 74.86,160.37 76.58,160.37 76.58,159.37 78.88,159.37 78.88,159.37 79.85,159.37 79.85,159.02 82.59,159.02 82.59,156.38 83.51,156.38 83.51,156.38 84.55,156.38 84.55,155.55 86.14,155.55 86.14,155.55 88.61,155.55 88.61,155.55 92.06,155.55 92.06,155.03 93.53,155.03 93.53,153.58 95.83,153.58 95.83,152.1 98.93,152.1 98.93,151.29 101.81,151.29 101.81,150.61 103.1,150.61 103.1,149.57 104.75,149.57 104.75,148.46 107.44,148.46 107.44,148.46 109.11,148.46 109.11,148.46 111.07,148.46 111.07,148.46 112.44,148.46 112.44,148.46 113.91,148.46 113.91,146.55 116.89,146.55 116.89,146.52 120,146.52 120,146.52 121.08,146.52 121.08,145.59 122.55,145.59 122.55,145.59 124.69,145.59 124.69,144.6 127.87,144.6 127.87,144.6 130.23,144.6 130.23,144.6 132.83,144.6 132.83,144.6 134.31,144.6 134.31,144.6 135.76,144.6 135.76,144.6 136.88,144.6 136.88,144.6 139.41,144.6 139.41,144.6 142.71,144.6 142.71,144.6 142.8,144.6" fill="none" stroke="#c8172a" stroke-width="0.9" stroke-linejoin="round" />
<path d="M27.6,221.15L29.25,222.8L27.6,224.45L25.95,222.8Z" fill="#c8172a"/>
<path d="M34.19,190.61L35.84,192.26L34.19,193.91L32.54,192.26Z" fill="#c8172a"/>
<path d="M45.39,175.55L47.04,177.2L45.39,178.85L43.74,177.2Z" fill="#c8172a"/>
<path d="M53.27,169.18L54.92,170.83L53.27,172.48L51.62,170.83Z" fill="#c8172a"/>
<path d="M62.89,163.8L64.54,165.45L62.89,167.1L61.24,165.45Z" fill="#c8172a"/>
<path d="M72.94,159.81L74.59,161.46L72.94,163.11L71.29,161.46Z" fill="#c8172a"/>
<path d="M82.59,157.37L84.24,159.02L82.59,160.67L80.94,159.02Z" fill="#c8172a"/>
<path d="M92.06,153.9L93.71,155.55L92.06,157.2L90.41,155.55Z" fill="#c8172a"/>
<path d="M103.1,148.96L104.75,150.61L103.1,152.26L101.45,150.61Z" fill="#c8172a"/>
<path d="M112.44,146.81L114.09,148.46L112.44,150.11L110.79,148.46Z" fill="#c8172a"/>
<path d="M122.55,143.94L124.2,145.59L122.55,147.24L120.9,145.59Z" fill="#c8172a"/>
<path d="M134.31,142.95L135.96,144.6L134.31,146.25L132.66,144.6Z" fill="#c8172a"/>
<path d="M142.8,142.95L144.45,144.6L142.8,146.25L141.15,144.6Z" fill="#c8172a"/>
<polyline points="27.6,222.8 27.6,212.13 29.33,212.13 29.33,197.49 32.65,197.49 32.65,190.06 35.36,190.06 35.36,186.64 37.71,186.64 37.71,184.26 38.83,184.26 38.83,183.47 39.95,183.47 39.95,181.43 40.8,181.43 40.8,179.34 43.89,179.34 43.89,177.38 46.24,177.38 46.24,173.2 48.89,173.2 48.89,173.2 49.64,173.2 49.64,173.06 53.01,173.06 53.01,168.91 56.01,168.91 56.01,168.91 57.28,168.91 57.28,168.52 58.48,168.52 58.48,168.52 59.68,168.52 59.68,168.52 61.21,168.52 61.21,165.6 63.35,165.6 63.35,165.6 65.24,165.6 65.24,165.6 66.73,165.6 66.73,163.35 69.12,163.35 69.12,162.86 70.19,162.86 70.19,162.06 71.69,162.06 71.69,162.06 73.4,162.06 73.4,160.61 75.35,160.61 75.35,160.61 78.21,160.61 78.21,160.61 79.45,160.61 79.45,159.33 81.57,159.33 81.57,159.01 83.9,159.01 83.9,158.96 84.72,158.96 84.72,158.86 87.09,158.86 87.09,157.15 88.25,157.15 88.25,155.58 89.12,155.58 89.12,155.58 92.43,155.58 92.43,154.36 95.8,154.36 95.8,154.05 98.72,154.05 98.72,153.51 100.25,153.51 100.25,150.95 101.22,150.95 101.22,150.95 103.8,150.95 103.8,150.95 105.71,150.95 105.71,149.96 106.74,149.96 106.74,149.96 108.8,149.96 108.8,149.96 109.58,149.96 109.58,149.48 112.79,149.48 112.79,148.43 114.19,148.43 114.19,148.06 116.72,148.06 116.72,148.03 118.27,148.03 118.27,145.85 120.4,145.85 120.4,145.7 122.6,145.7 122.6,145.07 123.8,145.07 123.8,145.07 127.18,145.07 127.18,145.07 130.01,145.07 130.01,144.6 133.3,144.6 133.3,144.6 136.46,144.6 136.46,144.6 138.81,144.6 138.81,144.6 142.05,144.6 142.05,144.6 142.8,144.6" fill="none" stroke="#e2483c" stroke-width="0.9" stroke-linejoin="round" />
<path d="M27.6,221.35L29.05,223.89L26.15,223.89Z" fill="#e2483c"/>
<path d="M38.83,182.81L40.28,185.35L37.38,185.35Z" fill="#e2483c"/>
<path d="M48.89,171.75L50.34,174.29L47.44,174.29Z" fill="#e2483c"/>
<path d="M58.48,167.07L59.93,169.61L57.03,169.61Z" fill="#e2483c"/>
<path d="M66.73,164.15L68.18,166.69L65.28,166.69Z" fill="#e2483c"/>
<path d="M75.35,159.16L76.8,161.7L73.9,161.7Z" fill="#e2483c"/>
<path d="M84.72,157.51L86.17,160.05L83.27,160.05Z" fill="#e2483c"/>
<path d="M95.8,152.91L97.25,155.45L94.35,155.45Z" fill="#e2483c"/>
<path d="M105.71,149.5L107.16,152.03L104.26,152.03Z" fill="#e2483c"/>
<path d="M114.19,146.98L115.64,149.52L112.74,149.52Z" fill="#e2483c"/>
<path d="M123.8,143.62L125.25,146.16L122.35,146.16Z" fill="#e2483c"/>
<path d="M138.81,143.15L140.26,145.69L137.36,145.69Z" fill="#e2483c"/>
<polyline points="27.6,222.8 27.6,214.45 28.61,214.45 28.61,203.3 30.98,203.3 30.98,200 32.04,200 32.04,195.4 33.4,195.4 33.4,192.61 35,192.61 35,185.47 38.06,185.47 38.06,182.12 40.6,182.12 40.6,178.84 42.78,178.84 42.78,178.17 43.55,178.17 43.55,176.77 46.27,176.77 46.27,175.64 48.06,175.64 48.06,172.15 50.97,172.15 50.97,170.43 52.36,170.43 52.36,170.27 53.21,170.27 53.21,168.26 56.3,168.26 56.3,168.26 57.6,168.26 57.6,167.55 59.41,167.55 59.41,167.55 60.98,167.55 60.98,165.48 61.88,165.48 61.88,164.96 64.9,164.96 64.9,162.58 67.94,162.58 67.94,161.26 71.32,161.26 71.32,161.18 73.07,161.18 73.07,159.31 76.4,159.31 76.4,159.31 78.33,159.31 78.33,157.83 80.87,157.83 80.87,157.83 81.79,157.83 81.79,155.95 84.96,155.95 84.96,155.95 86.48,155.95 86.48,155.38 87.89,155.38 87.89,154.49 88.6,154.49 88.6,154.49 90.79,154.49 90.79,154.49 92.8,154.49 92.8,153.36 95.25,153.36 95.25,152.64 98.64,152.64 98.64,150.95 101.85,150.95 101.85,150.84 105.05,150.84 105.05,150.45 107.2,150.45 107.2,148.9 108.18,148.9 108.18,148.9 109.37,148.9 109.37,148.41 112.69,148.41 112.69,147.53 114.52,147.53 114.52,147.53 117.61,147.53 117.61,146.65 120.16,146.65 120.16,146.65 122.59,146.65 122.59,145.48 124.04,145.48 124.04,144.6 127.21,144.6 127.21,144.6 128.47,144.6 128.47,144.6 130.28,144.6 130.28,144.6 133.72,144.6 133.72,144.6 136.45,144.6 136.45,144.6 138.37,144.6 138.37,144.6 140.61,144.6 140.61,144.6 142.44,144.6 142.44,144.6 142.8,144.6" fill="none" stroke="#f07a5a" stroke-width="0.9" stroke-linejoin="round" />
<path d="M27.6,221.35L29.05,223.89L26.15,223.89Z" fill="#f07a5a"/>
<path d="M35,191.16L36.45,193.7L33.55,193.7Z" fill="#f07a5a"/>
<path d="M46.27,175.32L47.72,177.86L44.82,177.86Z" fill="#f07a5a"/>
<path d="M56.3,166.81L57.75,169.34L54.85,169.34Z" fill="#f07a5a"/>
<path d="M64.9,163.51L66.35,166.05L63.45,166.05Z" fill="#f07a5a"/>
<path d="M78.33,157.86L79.78,160.4L76.88,160.4Z" fill="#f07a5a"/>
<path d="M87.89,153.93L89.34,156.47L86.44,156.47Z" fill="#f07a5a"/>
<path d="M98.64,151.19L100.09,153.73L97.19,153.73Z" fill="#f07a5a"/>
<path d="M109.37,147.45L110.82,149.98L107.92,149.98Z" fill="#f07a5a"/>
<path d="M122.59,145.2L124.04,147.73L121.14,147.73Z" fill="#f07a5a"/>
<path d="M133.72,143.15L135.17,145.69L132.27,145.69Z" fill="#f07a5a"/>
<path d="M142.8,143.15L144.25,145.69L141.35,145.69Z" fill="#f07a5a"/>
<polyline points="27.6,222.8 27.6,205.07 30.6,205.07 30.6,199.94 31.58,199.94 31.58,192.81 34.33,192.81 34.33,189.13 36.02,189.13 36.02,185.93 37.7,185.93 37.7,182.49 40.08,182.49 40.08,179.94 41.86,179.94 41.86,178.41 43.68,178.41 43.68,175.92 45.78,175.92 45.78,173.99 48.44,173.99 48.44,170.34 51.78,170.34 51.78,169.84 53.74,169.84 53.74,168.79 55.61,168.79 55.61,168.79 56.62,168.79 56.62,168.79 57.91,168.79 57.91,167 61.25,167 61.25,165.98 64.55,165.98 64.55,162.84 67.68,162.84 67.68,162.84 70.15,162.84 70.15,161.84 71.44,161.84 71.44,160.27 73.89,160.27 73.89,160.27 74.96,160.27 74.96,160.27 76.92,160.27 76.92,158.57 80.03,158.57 80.03,158.48 81.44,158.48 81.44,156.99 83.97,156.99 83.97,154.58 87.04,154.58 87.04,154.58 88.15,154.58 88.15,154.11 90.39,154.11 90.39,154.11 91.52,154.11 91.52,154.11 92.69,154.11 92.69,154.11 93.67,154.11 93.67,151.66 94.92,151.66 94.92,151.57 96.87,151.57 96.87,151.36 99.76,151.36 99.76,151.36 103.19,151.36 103.19,149.86 106.11,149.86 106.11,149.58 107.84,149.58 107.84,148.75 109.96,148.75 109.96,148.63 110.82,148.63 110.82,147.49 113.47,147.49 113.47,147.26 114.36,147.26 114.36,146.37 117.5,146.37 117.5,146.37 120.19,146.37 120.19,146.37 123.19,146.37 123.19,146.06 125.84,146.06 125.84,144.6 128.46,144.6 128.46,144.6 131.73,144.6 131.73,144.6 134.86,144.6 134.86,144.6 135.81,144.6 135.81,144.6 137.76,144.6 137.76,144.6 139.82,144.6 139.82,144.6 140.81,144.6 140.81,144.6 141.93,144.6 141.93,144.6 142.8,144.6" fill="none" stroke="#f7a583" stroke-width="0.9" stroke-linejoin="round" />
<polyline points="27.6,222.8 27.6,203.4 31.03,203.4 31.03,196.85 33.24,196.85 33.24,192.52 34.71,192.52 34.71,190.61 35.61,190.61 35.61,186.29 37.53,186.29 37.53,183.39 39.53,183.39 39.53,180.52 40.35,180.52 40.35,178.48 41.5,178.48 41.5,178.3 42.51,178.3 42.51,176.9 44.93,176.9 44.93,174.17 47.99,174.17 47.99,171.16 50.48,171.16 50.48,170.07 53.91,170.07 53.91,167.82 55.9,167.82 55.9,166.77 58.3,166.77 58.3,165.44 59.78,165.44 59.78,163.55 63.17,163.55 63.17,163.55 65.72,163.55 65.72,163.26 67.63,163.26 67.63,160.24 69.12,160.24 69.12,160.24 71.22,160.24 71.22,160.24 72.22,160.24 72.22,158.76 73.54,158.76 73.54,158.76 75.56,158.76 75.56,158.39 76.92,158.39 76.92,158.39 78.68,158.39 78.68,156.34 81.64,156.34 81.64,156.24 82.53,156.24 82.53,155.82 85.78,155.82 85.78,153.09 87.09,153.09 87.09,153.06 89.74,153.06 89.74,152.8 90.73,152.8 90.73,152.21 93.08,152.21 93.08,152.21 94.9,152.21 94.9,151.79 97.91,151.79 97.91,150.63 99.29,150.63 99.29,150.63 101.24,150.63 101.24,149.05 103.48,149.05 103.48,148.04 104.86,148.04 104.86,148.04 105.86,148.04 105.86,146.9 108.56,146.9 108.56,146.9 110.11,146.9 110.11,146.9 113.08,146.9 113.08,146.9 115.02,146.9 115.02,146.81 115.98,146.81 115.98,146.81 119.12,146.81 119.12,144.6 121.86,144.6 121.86,144.6 122.89,144.6 122.89,144.6 125.95,144.6 125.95,144.6 126.82,144.6 126.82,144.6 128.02,144.6 128.02,144.6 129.19,144.6 129.19,144.6 132.43,144.6 132.43,144.6 134.97,144.6 134.97,144.6 136.36,144.6 136.36,144.6 137.75,144.6 137.75,144.6 141.16,144.6 141.16,144.6 142.8,144.6" fill="none" stroke="#fbc9ad" stroke-width="0.9" stroke-linejoin="round" />
<polyline points="27.6,222.8 27.6,206.44 30.46,206.44 30.46,197.69 32.9,197.69 32.9,193.73 34.28,193.73 34.28,186.54 37.07,186.54 37.07,185.43 38.63,185.43 38.63,180.4 41.91,180.4 41.91,178.28 42.72,178.28 42.72,177.23 44.63,177.23 44.63,174.62 47.85,174.62 47.85,173.1 49.79,173.1 49.79,172.59 51.89,172.59 51.89,170.05 52.82,170.05 52.82,170.05 54.69,170.05 54.69,170.03 57.44,170.03 57.44,166.7 60.53,166.7 60.53,165.28 62.11,165.28 62.11,165.28 63.09,165.28 63.09,164.58 66,164.58 66,163.44 67.78,163.44 67.78,162.44 70.21,162.44 70.21,162.44 71,162.44 71,162.44 72.52,162.44 72.52,162.44 73.35,162.44 73.35,159.86 75.07,159.86 75.07,159.86 76.48,159.86 76.48,159.42 79.91,159.42 79.91,159.42 81.7,159.42 81.7,158.9 83.24,158.9 83.24,158.46 84.54,158.46 84.54,157.7 86.6,157.7 86.6,157.57 87.45,157.57 87.45,154.91 88.94,154.91 88.94,154.91 90.28,154.91 90.28,154.03 93.64,154.03 93.64,151.8 96.03,151.8 96.03,151.8 99.11,151.8 99.11,151.8 100.05,151.8 100.05,151.8 101.15,151.8 101.15,151.15 103.7,151.15 103.7,150.61 107.1,150.61 107.1,150.59 107.85,150.59 107.85,148.96 111.05,148.96 111.05,147.25 111.91,147.25 111.91,147.25 114.69,147.25 114.69,146.26 115.56,146.26 115.56,146.26 116.95,146.26 116.95,146.26 118.11,146.26 118.11,146.26 119.34,146.26 119.34,145.06 120.33,145.06 120.33,145.06 122.46,145.06 122.46,145.06 123.17,145.06 123.17,144.6 126.05,144.6 126.05,144.6 127.12,144.6 127.12,144.6 128.11,144.6 128.11,144.6 129.99,144.6 129.99,144.6 131.28,144.6 131.28,144.6 134.29,144.6 134.29,144.6 134.99,144.6 134.99,144.6 136.1,144.6 136.1,144.6 138.72,144.6 138.72,144.6 139.82,144.6 139.82,144.6 142.8,144.6" fill="none" stroke="#fcd9c6" stroke-width="0.9" stroke-linejoin="round" />
<polyline points="27.6,222.8 27.6,214.41 28.6,214.41 28.6,197.43 31.99,197.43 31.99,191.17 34.7,191.17 34.7,188.02 36.36,188.02 36.36,184.14 39.01,184.14 39.01,178.7 41.91,178.7 41.91,176.88 44.38,176.88 44.38,173.15 46.22,173.15 46.22,171.29 48.87,171.29 48.87,171.29 50.24,171.29 50.24,168.57 51.64,168.57 51.64,168.57 52.4,168.57 52.4,168.57 53.36,168.57 53.36,168.19 54.88,168.19 54.88,167.19 57.34,167.19 57.34,165.86 58.93,165.86 58.93,165.47 60.13,165.47 60.13,164.48 63.36,164.48 63.36,162.66 64.8,162.66 64.8,161.95 66.25,161.95 66.25,161.4 69.58,161.4 69.58,158.34 70.62,158.34 70.62,158.34 73.38,158.34 73.38,158.13 74.08,158.13 74.08,157.76 77.14,157.76 77.14,156.52 79.76,156.52 79.76,154.98 81.98,154.98 81.98,153.36 85.25,153.36 85.25,151.94 87.36,151.94 87.36,151.94 88.54,151.94 88.54,151.94 90.72,151.94 90.72,151.94 92.22,151.94 92.22,150.44 92.94,150.44 92.94,150.44 96.08,150.44 96.08,149.34 98.58,149.34 98.58,147.32 101.88,147.32 101.88,147.32 104.63,147.32 104.63,147.19 106.06,147.19 106.06,146.86 107.75,146.86 107.75,146.86 109.9,146.86 109.9,145.41 112.1,145.41 112.1,145.41 113.51,145.41 113.51,145.41 114.68,145.41 114.68,145.41 116.37,145.41 116.37,145.41 117.45,145.41 117.45,145.41 119.22,145.41 119.22,145.41 121.21,145.41 121.21,144.6 124.58,144.6 124.58,144.6 125.68,144.6 125.68,144.6 127.79,144.6 127.79,144.6 129.94,144.6 129.94,144.6 131.47,144.6 131.47,144.6 132.61,144.6 132.61,144.6 134.95,144.6 134.95,144.6 135.93,144.6 135.93,144.6 138.19,144.6 138.19,144.6 139.95,144.6 139.95,144.6 140.87,144.6 140.87,144.6 142.8,144.6" fill="none" stroke="#e2e2e2" stroke-width="0.9" stroke-linejoin="round" />
<polyline points="27.6,222.8 27.6,217.47 28.34,217.47 28.34,201.9 31.5,201.9 31.5,196.26 32.97,196.26 32.97,193.94 34.49,193.94 34.49,186.25 37.37,186.25 37.37,184.61 38.96,184.61 38.96,178.72 42.04,178.72 42.04,178.72 43.97,178.72 43.97,175.52 46.18,175.52 46.18,173.44 47.86,173.44 47.86,172.84 48.86,172.84 48.86,172.04 49.94,172.04 49.94,170.11 51.86,170.11 51.86,170.01 54.58,170.01 54.58,169.13 56.54,169.13 56.54,166.73 58.87,166.73 58.87,166.44 60.49,166.44 60.49,166.01 62.44,166.01 62.44,166.01 63.65,166.01 63.65,165.82 65.47,165.82 65.47,165.78 66.53,165.78 66.53,164.87 67.32,164.87 67.32,163.62 68.24,163.62 68.24,162.59 69.52,162.59 69.52,162.59 71.72,162.59 71.72,162.4 74.22,162.4 74.22,158.99 76.54,158.99 76.54,158.7 78.82,158.7 78.82,158.7 80.44,158.7 80.44,158.7 82.18,158.7 82.18,156.79 83.98,156.79 83.98,156.48 86.55,156.48 86.55,155.29 87.65,155.29 87.65,154.48 90.52,154.48 90.52,154.48 91.32,154.48 91.32,153.87 93.7,153.87 93.7,153.01 94.82,153.01 94.82,151.92 97.64,151.92 97.64,151.92 99.06,151.92 99.06,149.66 101.88,149.66 101.88,149.66 103.37,149.66 103.37,149.66 105.86,149.66 105.86,149.66 109.18,149.66 109.18,148.85 112.41,148.85 112.41,148.85 113.56,148.85 113.56,146.68 115.19,146.68 115.19,146.68 116.13,146.68 116.13,146.68 118.73,146.68 118.73,145.62 121.3,145.62 121.3,144.6 124.51,144.6 124.51,144.6 126.05,144.6 126.05,144.6 127.24,144.6 127.24,144.6 128.03,144.6 128.03,144.6 129.74,144.6 129.74,144.6 133.1,144.6 133.1,144.6 135.39,144.6 135.39,144.6 138.54,144.6 138.54,144.6 140.66,144.6 140.66,144.6 142.8,144.6" fill="none" stroke="#c4c4c4" stroke-width="0.9" stroke-linejoin="round" />
<path d="M26.5,222.8H28.7M27.6,221.7V223.9" stroke="#c4c4c4" stroke-width="0.5"/>
<path d="M36.27,186.25H38.47M37.37,185.15V187.35" stroke="#c4c4c4" stroke-width="0.5"/>
<path d="M46.76,173.44H48.96M47.86,172.34V174.54" stroke="#c4c4c4" stroke-width="0.5"/>
<path d="M55.44,169.13H57.64M56.54,168.03V170.23" stroke="#c4c4c4" stroke-width="0.5"/>
<path d="M64.37,165.82H66.57M65.47,164.72V166.92" stroke="#c4c4c4" stroke-width="0.5"/>
<path d="M70.62,162.59H72.82M71.72,161.49V163.69" stroke="#c4c4c4" stroke-width="0.5"/>
<path d="M81.08,158.7H83.28M82.18,157.6V159.8" stroke="#c4c4c4" stroke-width="0.5"/>
<path d="M90.22,154.48H92.42M91.32,153.38V155.58" stroke="#c4c4c4" stroke-width="0.5"/>
<path d="M100.78,149.66H102.98M101.88,148.56V150.76" stroke="#c4c4c4" stroke-width="0.5"/>
<path d="M112.46,148.85H114.66M113.56,147.75V149.95" stroke="#c4c4c4" stroke-width="0.5"/>
<path d="M123.41,144.6H125.61M124.51,143.5V145.7" stroke="#c4c4c4" stroke-width="0.5"/>
<path d="M132,144.6H134.2M133.1,143.5V145.7" stroke="#c4c4c4" stroke-width="0.5"/>
<polyline points="27.6,222.8 27.6,212.3 29.12,212.3 29.12,204.45 30.5,204.45 30.5,195.12 33.75,195.12 33.75,186.6 36.91,186.6 36.91,183.16 39.49,183.16 39.49,180.69 41.75,180.69 41.75,179.27 43.95,179.27 43.95,178.33 45.22,178.33 45.22,174.24 48.04,174.24 48.04,171.51 51.21,171.51 51.21,170.07 53.9,170.07 53.9,168.92 55.97,168.92 55.97,168.92 57.88,168.92 57.88,167.91 60.79,167.91 60.79,165.33 63.82,165.33 63.82,165.33 65.14,165.33 65.14,164.04 68.49,164.04 68.49,164.04 69.35,164.04 69.35,163.42 70.84,163.42 70.84,162.46 72.39,162.46 72.39,161.24 75.03,161.24 75.03,160.89 77.67,160.89 77.67,159.66 80.97,159.66 80.97,157.61 83.34,157.61 83.34,157.61 85.01,157.61 85.01,156.32 86.87,156.32 86.87,155.82 90.07,155.82 90.07,155.43 91.45,155.43 91.45,155 92.98,155 92.98,154.16 93.88,154.16 93.88,152.3 95.27,152.3 95.27,152.3 98.48,152.3 98.48,150.95 101.5,150.95 101.5,150.95 103.96,150.95 103.96,150.95 107.38,150.95 107.38,148.46 110.67,148.46 110.67,148.46 113.73,148.46 113.73,147.46 116.97,147.46 116.97,147.11 119.5,147.11 119.5,147.11 121.28,147.11 121.28,146.04 123.58,146.04 123.58,144.76 125.31,144.76 125.31,144.76 127.33,144.76 127.33,144.76 129.02,144.76 129.02,144.76 130.18,144.76 130.18,144.76 133.34,144.76 133.34,144.76 135.53,144.76 135.53,144.76 138.5,144.76 138.5,144.76 140.76,144.76 140.76,144.76 141.47,144.76 141.47,144.6 142.8,144.6" fill="none" stroke="#a4a4a4" stroke-width="0.9" stroke-linejoin="round" />
<path d="M27.6,221.15L29.25,222.8L27.6,224.45L25.95,222.8Z" fill="#a4a4a4"/>
<path d="M39.49,181.51L41.14,183.16L39.49,184.81L37.84,183.16Z" fill="#a4a4a4"/>
<path d="M51.21,169.86L52.86,171.51L51.21,173.16L49.56,171.51Z" fill="#a4a4a4"/>
<path d="M63.82,163.68L65.47,165.33L63.82,166.98L62.17,165.33Z" fill="#a4a4a4"/>
<path d="M72.39,160.81L74.04,162.46L72.39,164.11L70.74,162.46Z" fill="#a4a4a4"/>
<path d="M85.01,155.96L86.66,157.61L85.01,159.26L83.36,157.61Z" fill="#a4a4a4"/>
<path d="M93.88,152.51L95.53,154.16L93.88,155.81L92.23,154.16Z" fill="#a4a4a4"/>
<path d="M107.38,149.3L109.03,150.95L107.38,152.6L105.73,150.95Z" fill="#a4a4a4"/>
<path d="M121.28,145.46L122.93,147.11L121.28,148.76L119.63,147.11Z" fill="#a4a4a4"/>
<path d="M130.18,143.11L131.83,144.76L130.18,146.41L128.53,144.76Z" fill="#a4a4a4"/>
<path d="M141.47,143.11L143.12,144.76L141.47,146.41L139.82,144.76Z" fill="#a4a4a4"/>
<polyline points="27.6,222.8 27.6,207.93 29.66,207.93 29.66,201.85 30.98,201.85 30.98,197.52 32.38,197.52 32.38,192.26 34.16,192.26 34.16,189.69 35.9,189.69 35.9,184 39.35,184 39.35,179.04 41.17,179.04 41.17,177.56 43.99,177.56 43.99,174.94 46.78,174.94 46.78,173.69 48.33,173.69 48.33,172.5 49.98,172.5 49.98,171.44 51.65,171.44 51.65,169.95 52.74,169.95 52.74,169 56.12,169 56.12,168.11 59.33,168.11 59.33,165.09 61.56,165.09 61.56,165.09 63.12,165.09 63.12,164.36 66.27,164.36 66.27,161.67 68.83,161.67 68.83,161.67 70.6,161.67 70.6,161.23 72.69,161.23 72.69,158.63 74.83,158.63 74.83,157.22 78.09,157.22 78.09,156.36 80.36,156.36 80.36,156.36 82.9,156.36 82.9,156.36 83.73,156.36 83.73,155.04 85.33,155.04 85.33,155.04 86.18,155.04 86.18,155.04 87.37,155.04 87.37,154.39 90.62,154.39 90.62,152.81 93.9,152.81 93.9,151.74 96.57,151.74 96.57,149.47 99.28,149.47 99.28,149.03 101.25,149.03 101.25,148.69 104.52,148.69 104.52,148.69 106.33,148.69 106.33,148.69 108.91,148.69 108.91,148.69 111.4,148.69 111.4,148.08 113.75,148.08 113.75,147.5 115.05,147.5 115.05,145.2 117.63,145.2 117.63,145.2 120.75,145.2 120.75,145.2 123.64,145.2 123.64,145.2 125.53,145.2 125.53,144.6 128.76,144.6 128.76,144.6 131.61,144.6 131.61,144.6 134.31,144.6 134.31,144.6 135.34,144.6 135.34,144.6 138.57,144.6 138.57,144.6 140.33,144.6 140.33,144.6 141.84,144.6 141.84,144.6 142.8,144.6" fill="none" stroke="#7a7a7a" stroke-width="0.9" stroke-linejoin="round" />
<polyline points="27.6,222.8 27.6,207.75 30.16,207.75 30.16,203.37 30.97,203.37 30.97,196.42 32.61,196.42 32.61,192.27 35.09,192.27 35.09,186.7 36.56,186.7 36.56,181.76 39.88,181.76 39.88,180.15 41.01,180.15 41.01,177.57 42.77,177.57 42.77,176.03 45.09,176.03 45.09,176.02 47.13,176.02 47.13,174.77 48.31,174.77 48.31,172.56 49.6,172.56 49.6,172.46 52.08,172.46 52.08,170.38 53.46,170.38 53.46,170.38 55.29,170.38 55.29,168.24 56.11,168.24 56.11,168.24 57.7,168.24 57.7,166.58 59.19,166.58 59.19,166.09 61.12,166.09 61.12,166.09 61.98,166.09 61.98,165.94 64.75,165.94 64.75,164.41 67.46,164.41 67.46,162.85 69.71,162.85 69.71,162.55 72.38,162.55 72.38,160.06 74.68,160.06 74.68,158.93 77.14,158.93 77.14,158.93 80.03,158.93 80.03,158.3 83.12,158.3 83.12,157.66 84.78,157.66 84.78,156.28 86.32,156.28 86.32,156.28 88.68,156.28 88.68,155.9 90.4,155.9 90.4,152.81 93.48,152.81 93.48,152.81 96.14,152.81 96.14,151.24 98,151.24 98,151.24 101.12,151.24 101.12,151.24 101.86,151.24 101.86,151.24 103.82,151.24 103.82,151.24 104.98,151.24 104.98,149.55 108,149.55 108,148.59 109.03,148.59 109.03,147.78 111.78,147.78 111.78,147.78 114.81,147.78 114.81,146.88 115.99,146.88 115.99,145.78 117.43,145.78 117.43,145.78 120.67,145.78 120.67,145.78 123.16,145.78 123.16,145.46 124.72,145.46 124.72,144.6 126.56,144.6 126.56,144.6 127.71,144.6 127.71,144.6 128.94,144.6 128.94,144.6 130.18,144.6 130.18,144.6 133.23,144.6 133.23,144.6 135.82,144.6 135.82,144.6 136.8,144.6 136.8,144.6 138.39,144.6 138.39,144.6 140.69,144.6 140.69,144.6 141.41,144.6 141.41,144.6 142.7,144.6 142.7,144.6 142.8,144.6" fill="none" stroke="#464646" stroke-width="0.9" stroke-linejoin="round" />
<circle cx="27.6" cy="222.8" r="0.7" fill="#464646"/>
<circle cx="36.56" cy="186.7" r="0.7" fill="#464646"/>
<circle cx="47.13" cy="176.02" r="0.7" fill="#464646"/>
<circle cx="55.29" cy="170.38" r="0.7" fill="#464646"/>
<circle cx="61.98" cy="166.09" r="0.7" fill="#464646"/>
<circle cx="74.68" cy="160.06" r="0.7" fill="#464646"/>
<circle cx="86.32" cy="156.28" r="0.7" fill="#464646"/>
<circle cx="98" cy="151.24" r="0.7" fill="#464646"/>
<circle cx="108" cy="149.55" r="0.7" fill="#464646"/>
<circle cx="117.43" cy="145.78" r="0.7" fill="#464646"/>
<circle cx="127.71" cy="144.6" r="0.7" fill="#464646"/>
<circle cx="136.8" cy="144.6" r="0.7" fill="#464646"/>
<circle cx="142.8" cy="144.6" r="0.7" fill="#464646"/>
<polyline points="27.6,222.8 27.6,200.05 30.57,200.05 30.57,194.97 31.33,194.97 31.33,190.55 32.6,190.55 32.6,185.72 35.01,185.72 35.01,183.47 35.97,183.47 35.97,178.2 38.37,178.2 38.37,176.27 39.21,176.27 39.21,172.59 42.56,172.59 42.56,169.67 45.96,169.67 45.96,166.43 48.1,166.43 48.1,164.3 50.55,164.3 50.55,161.23 53.35,161.23 53.35,161.23 56.16,161.23 56.16,161.19 58,161.19 58,159.53 60.82,159.53 60.82,158.11 62.68,158.11 62.68,157.07 65.93,157.07 65.93,155.58 68.51,155.58 68.51,155.43 70.22,155.43 70.22,154.38 73.29,154.38 73.29,154.38 75.03,154.38 75.03,154.38 75.98,154.38 75.98,152.67 77.57,152.67 77.57,152.67 79.41,152.67 79.41,151.43 82.16,151.43 82.16,151.43 84.67,151.43 84.67,151.43 85.91,151.43 85.91,151.43 88.84,151.43 88.84,149.89 91.71,149.89 91.71,148.77 93.49,148.77 93.49,148.07 95.59,148.07 95.59,148.07 98.48,148.07 98.48,147.43 100.41,147.43 100.41,146.5 103.15,146.5 103.15,146.5 104.06,146.5 104.06,146.5 106.1,146.5 106.1,146.12 107.99,146.12 107.99,146.12 109.36,146.12 109.36,146.12 112.44,146.12 112.44,145.84 113.18,145.84 113.18,145.14 115.12,145.14 115.12,145.14 115.94,145.14 115.94,145.14 118.01,145.14 118.01,145.14 121.08,145.14 121.08,144.64 122.69,144.64 122.69,144.6 125.88,144.6 125.88,144.6 126.91,144.6 126.91,144.6 128.03,144.6 128.03,144.6 130.9,144.6 130.9,144.6 133.43,144.6 133.43,144.6 136.12,144.6 136.12,144.6 138.3,144.6 138.3,144.6 140.29,144.6 140.29,144.6 142.8,144.6" fill="none" stroke="#1e1e1e" stroke-width="0.9" stroke-linejoin="round" />
<circle cx="27.6" cy="222.8" r="1.3" fill="#1e1e1e"/>
<circle cx="35.97" cy="183.47" r="1.3" fill="#1e1e1e"/>
<circle cx="48.1" cy="166.43" r="1.3" fill="#1e1e1e"/>
<circle cx="60.82" cy="159.53" r="1.3" fill="#1e1e1e"/>
<circle cx="73.29" cy="154.38" r="1.3" fill="#1e1e1e"/>
<circle cx="82.16" cy="151.43" r="1.3" fill="#1e1e1e"/>
<circle cx="93.49" cy="148.77" r="1.3" fill="#1e1e1e"/>
<circle cx="104.06" cy="146.5" r="1.3" fill="#1e1e1e"/>
<circle cx="113.18" cy="145.84" r="1.3" fill="#1e1e1e"/>
<circle cx="122.69" cy="144.64" r="1.3" fill="#1e1e1e"/>
<circle cx="133.43" cy="144.6" r="1.3" fill="#1e1e1e"/>
<polyline points="27.6,334.9 27.6,307.53 27.6,301.37 31.16,301.37 31.16,293.33 35.53,293.33 35.53,286.84 37.93,286.84 37.93,281.82 42.19,281.82 42.19,279.71 47.52,279.71 47.52,277.27 51.83,277.27 51.83,276.2 53.96,276.2 53.96,274.16 56.57,274.16 56.57,274.16 58.96,274.16 58.96,272.53 60.67,272.53 60.67,270.36 66.41,270.36 66.41,269.62 67.93,269.62 67.93,269.4 70.4,269.4 70.4,268.27 74.02,268.27 74.02,266.41 79.06,266.41 79.06,264.45 81.14,264.45 81.14,261.77 86.03,261.77 86.03,261.77 88.9,261.77 88.9,260.62 93.79,260.62 93.79,260.15 94.99,260.15 94.99,259.65 99.22,259.65 99.22,259.65 101.71,259.65 101.71,259.65 104.35,259.65 104.35,257.47 107.43,257.47 107.43,256.94 110.82,256.94 110.82,256.94 116.32,256.94 116.32,256.7 120.85,256.7 120.85,256.7 126.49,256.7 126.49,256.7 130.31,256.7 130.31,256.7 133.84,256.7 133.84,256.7 137.04,256.7 137.04,256.7 142.18,256.7 142.18,256.7 142.8,256.7" fill="none" stroke="#7a0a1c" stroke-width="0.95" stroke-linejoin="round" />
<circle cx="27.6" cy="334.9" r="1.3" fill="#7a0a1c"/>
<circle cx="37.93" cy="281.82" r="1.3" fill="#7a0a1c"/>
<circle cx="53.96" cy="274.16" r="1.3" fill="#7a0a1c"/>
<circle cx="66.41" cy="269.62" r="1.3" fill="#7a0a1c"/>
<circle cx="79.06" cy="264.45" r="1.3" fill="#7a0a1c"/>
<circle cx="93.79" cy="260.15" r="1.3" fill="#7a0a1c"/>
<circle cx="104.35" cy="257.47" r="1.3" fill="#7a0a1c"/>
<circle cx="120.85" cy="256.7" r="1.3" fill="#7a0a1c"/>
<circle cx="137.04" cy="256.7" r="1.3" fill="#7a0a1c"/>
<polyline points="27.6,334.9 27.6,320.82 32.78,320.82 32.78,316.13 35.09,316.13 35.09,309.09 35.66,309.09 35.66,302.06 42.58,302.06 42.58,298.93 48.91,298.93 48.91,291.89 50.64,291.89 50.64,286.42 54.67,286.42 54.67,278.6 54.67,273.12 58.13,273.12 58.13,268.43 62.16,268.43 62.16,266.87 72.53,266.87 72.53,264.52 84.05,264.52 84.05,261.39 94.42,261.39 94.42,259.05 105.94,259.05 105.94,256.7 142.8,256.7" fill="none" stroke="#c8172a" stroke-width="0.95" stroke-linejoin="round" />
<path d="M27.6,333.25L29.25,334.9L27.6,336.55L25.95,334.9Z" fill="#c8172a"/>
<path d="M32.78,314.48L34.43,316.13L32.78,317.78L31.13,316.13Z" fill="#c8172a"/>
<path d="M35.66,307.44L37.31,309.09L35.66,310.74L34.01,309.09Z" fill="#c8172a"/>
<path d="M42.58,297.28L44.23,298.93L42.58,300.58L40.93,298.93Z" fill="#c8172a"/>
<path d="M50.64,290.24L52.29,291.89L50.64,293.54L48.99,291.89Z" fill="#c8172a"/>
<path d="M54.67,276.95L56.32,278.6L54.67,280.25L53.02,278.6Z" fill="#c8172a"/>
<path d="M58.13,266.78L59.78,268.43L58.13,270.08L56.48,268.43Z" fill="#c8172a"/>
<path d="M72.53,265.22L74.18,266.87L72.53,268.52L70.88,266.87Z" fill="#c8172a"/>
<path d="M84.05,259.74L85.7,261.39L84.05,263.04L82.4,261.39Z" fill="#c8172a"/>
<path d="M105.94,257.4L107.59,259.05L105.94,260.7L104.29,259.05Z" fill="#c8172a"/>
<polyline points="27.6,334.9 27.6,299.71 27.6,293.03 30.02,293.03 30.02,286.83 34.12,286.83 34.12,283.02 38.14,283.02 38.14,278.25 42.88,278.25 42.88,277.17 46.24,277.17 46.24,271.84 51.81,271.84 51.81,270.92 57.56,270.92 57.56,269.15 62.55,269.15 62.55,268.72 64.64,268.72 64.64,266.69 66.41,266.69 66.41,266.3 70.39,266.3 70.39,264.86 74.28,264.86 74.28,264.86 78.4,264.86 78.4,262.2 84.11,262.2 84.11,262.2 86.8,262.2 86.8,261.86 91.68,261.86 91.68,260.35 95.93,260.35 95.93,258.38 99.56,258.38 99.56,257.93 101.03,257.93 101.03,257.93 102.59,257.93 102.59,256.94 107.76,256.94 107.76,256.7 111.62,256.7 111.62,256.7 113.13,256.7 113.13,256.7 115.87,256.7 115.87,256.7 118.71,256.7 118.71,256.7 119.91,256.7 119.91,256.7 123.1,256.7 123.1,256.7 124.5,256.7 124.5,256.7 128.75,256.7 128.75,256.7 130.05,256.7 130.05,256.7 132.98,256.7 132.98,256.7 137.93,256.7 137.93,256.7 142.8,256.7" fill="none" stroke="#e2483c" stroke-width="0.95" stroke-linejoin="round" />
<path d="M27.6,333.45L29.05,335.99L26.15,335.99Z" fill="#e2483c"/>
<path d="M38.14,276.8L39.59,279.34L36.69,279.34Z" fill="#e2483c"/>
<path d="M57.56,267.7L59.01,270.24L56.11,270.24Z" fill="#e2483c"/>
<path d="M70.39,263.41L71.84,265.94L68.94,265.94Z" fill="#e2483c"/>
<path d="M86.8,260.41L88.25,262.94L85.35,262.94Z" fill="#e2483c"/>
<path d="M101.03,256.48L102.48,259.02L99.58,259.02Z" fill="#e2483c"/>
<path d="M113.13,255.25L114.58,257.79L111.68,257.79Z" fill="#e2483c"/>
<path d="M123.1,255.25L124.55,257.79L121.65,257.79Z" fill="#e2483c"/>
<path d="M132.98,255.25L134.43,257.79L131.53,257.79Z" fill="#e2483c"/>
<polyline points="27.6,334.9 27.6,303.62 27.6,298.53 29.94,298.53 29.94,291.9 34.24,291.9 34.24,289.19 38.45,289.19 38.45,282.4 43.18,282.4 43.18,278.68 48.15,278.68 48.15,276.92 50.94,276.92 50.94,274.53 53.88,274.53 53.88,273.23 58.45,273.23 58.45,272.79 60.91,272.79 60.91,271 63.42,271 63.42,270.88 67.21,270.88 67.21,269.7 68.58,269.7 68.58,267.03 71.52,267.03 71.52,266.14 76.51,266.14 76.51,264.43 80.07,264.43 80.07,263.27 81.81,263.27 81.81,263.27 84.87,263.27 84.87,263.06 89.81,263.06 89.81,260.58 92.55,260.58 92.55,259.35 97.92,259.35 97.92,258.24 99.93,258.24 99.93,258.24 101.21,258.24 101.21,258.24 103.46,258.24 103.46,258.24 107.93,258.24 107.93,257.04 110.32,257.04 110.32,256.7 114.08,256.7 114.08,256.7 118.13,256.7 118.13,256.7 120.27,256.7 120.27,256.7 124.82,256.7 124.82,256.7 127.57,256.7 127.57,256.7 130.22,256.7 130.22,256.7 132.83,256.7 132.83,256.7 138.46,256.7 138.46,256.7 140.14,256.7 140.14,256.7 142.8,256.7" fill="none" stroke="#f07a5a" stroke-width="0.95" stroke-linejoin="round" />
<path d="M27.6,333.45L29.05,335.99L26.15,335.99Z" fill="#f07a5a"/>
<path d="M38.45,280.95L39.9,283.49L37,283.49Z" fill="#f07a5a"/>
<path d="M53.88,271.78L55.33,274.32L52.43,274.32Z" fill="#f07a5a"/>
<path d="M67.21,268.25L68.66,270.78L65.76,270.78Z" fill="#f07a5a"/>
<path d="M80.07,261.82L81.52,264.36L78.62,264.36Z" fill="#f07a5a"/>
<path d="M92.55,257.9L94,260.44L91.1,260.44Z" fill="#f07a5a"/>
<path d="M103.46,256.79L104.91,259.32L102.01,259.32Z" fill="#f07a5a"/>
<path d="M118.13,255.25L119.58,257.79L116.68,257.79Z" fill="#f07a5a"/>
<path d="M130.22,255.25L131.67,257.79L128.77,257.79Z" fill="#f07a5a"/>
<polyline points="27.6,334.9 27.6,291.89 27.6,287.19 28.96,287.19 28.96,280.14 31.82,280.14 31.82,276.19 34.09,276.19 34.09,271.81 38.14,271.81 38.14,268.4 43.85,268.4 43.85,267.79 45.61,267.79 45.61,266.88 47.56,266.88 47.56,266.88 49.9,266.88 49.9,263.96 52.98,263.96 52.98,263.96 54.74,263.96 54.74,262.95 57.23,262.95 57.23,262.95 60.66,262.95 60.66,261.88 66.27,261.88 66.27,261.88 68.79,261.88 68.79,261.88 72.95,261.88 72.95,260.15 76.57,260.15 76.57,260.15 81.81,260.15 81.81,258.11 86.94,258.11 86.94,258.11 92.43,258.11 92.43,258.11 94.07,258.11 94.07,257.55 98.05,257.55 98.05,257.55 100.02,257.55 100.02,257.55 101.52,257.55 101.52,257.15 107.26,257.15 107.26,257.15 110.05,257.15 110.05,257.15 115.07,257.15 115.07,257.15 119.16,257.15 119.16,256.7 121.28,256.7 121.28,256.7 126.94,256.7 126.94,256.7 128.73,256.7 128.73,256.7 132.43,256.7 132.43,256.7 134.81,256.7 134.81,256.7 137.4,256.7 137.4,256.7 140.08,256.7 140.08,256.7 141.9,256.7 141.9,256.7 142.8,256.7" fill="none" stroke="#f7a583" stroke-width="0.95" stroke-linejoin="round" />
<polyline points="27.6,334.9 27.6,295.8 27.6,283.23 31.61,283.23 31.61,277.65 35.11,277.65 35.11,272.14 37.63,272.14 37.63,269.84 41.8,269.84 41.8,268.78 44.21,268.78 44.21,266.29 47.77,266.29 47.77,265.77 50.65,265.77 50.65,265.56 53.5,265.56 53.5,263.42 58.04,263.42 58.04,261.99 62.18,261.99 62.18,261.99 67.6,261.99 67.6,260.66 69.79,260.66 69.79,260.66 72.82,260.66 72.82,260.66 78.04,260.66 78.04,260.66 80.15,260.66 80.15,258.75 82.29,258.75 82.29,258.75 84.75,258.75 84.75,258.75 87.99,258.75 87.99,258.05 90.7,258.05 90.7,258.05 91.9,258.05 91.9,258.05 94.88,258.05 94.88,257.99 99.21,257.99 99.21,257.99 104.21,257.99 104.21,257.99 106.82,257.99 106.82,257.89 111.29,257.89 111.29,256.7 114.76,256.7 114.76,256.7 117.61,256.7 117.61,256.7 119.6,256.7 119.6,256.7 123.23,256.7 123.23,256.7 124.53,256.7 124.53,256.7 128.44,256.7 128.44,256.7 133.17,256.7 133.17,256.7 135.35,256.7 135.35,256.7 139.39,256.7 139.39,256.7 142.44,256.7 142.44,256.7 142.8,256.7" fill="none" stroke="#fbc9ad" stroke-width="0.95" stroke-linejoin="round" />
<polyline points="27.6,334.9 27.6,299.71 27.6,293.52 29.69,293.52 29.69,285.5 31.79,285.5 31.79,282.77 33.65,282.77 33.65,275.92 38.28,275.92 38.28,274.4 40.48,274.4 40.48,272.16 44.69,272.16 44.69,270.55 48.56,270.55 48.56,267.82 51.65,267.82 51.65,265.78 56.75,265.78 56.75,265.78 60.14,265.78 60.14,265.26 62.45,265.26 62.45,264.23 67.48,264.23 67.48,262.45 72.32,262.45 72.32,262.33 77.03,262.33 77.03,261.66 81.96,261.66 81.96,261.66 83.38,261.66 83.38,261.66 85.94,261.66 85.94,260.56 87.92,260.56 87.92,259.06 90.9,259.06 90.9,258.01 96.15,258.01 96.15,258.01 98.63,258.01 98.63,256.96 102.91,256.96 102.91,256.96 108.01,256.96 108.01,256.89 110.44,256.89 110.44,256.7 113.98,256.7 113.98,256.7 117.8,256.7 117.8,256.7 119.69,256.7 119.69,256.7 124.24,256.7 124.24,256.7 128.17,256.7 128.17,256.7 129.55,256.7 129.55,256.7 132.3,256.7 132.3,256.7 136.54,256.7 136.54,256.7 138.63,256.7 138.63,256.7 140.42,256.7 140.42,256.7 142.8,256.7" fill="none" stroke="#fcd9c6" stroke-width="0.95" stroke-linejoin="round" />
<polyline points="27.6,334.9 27.6,332.25 27.6,329.6 27.6,326.95 27.6,324.3 27.6,321.65 27.6,318.99 27.6,316.34 27.6,313.69 27.6,311.04 27.6,308.39 27.6,305.74 27.6,303.09 27.6,300.44 27.6,297.79 27.6,295.14 27.6,292.49 27.6,289.84 28.75,287.97 28.75,285.32 28.75,282.67 28.75,280.01 28.75,277.36 28.75,274.71 28.75,272.06 28.75,269.41 31.06,268.32 31.06,265.67 31.06,263.02 34.86,262.96 36.82,261.63 39.22,260.61 43.12,260.61 47.03,260.61 50.64,260.41 52.53,259.05 56.44,259.05 60.34,259.05 64.25,259.05 68.15,259.05 72.06,259.05 73.68,257.5 77.57,257.48 81.47,257.48 85.38,257.48 89.28,257.48 93.19,257.48 96.72,257.23 99.84,256.7 103.75,256.7 107.65,256.7 111.56,256.7 115.46,256.7 119.37,256.7 123.27,256.7 127.18,256.7 131.08,256.7 134.99,256.7 138.89,256.7 142.8,256.7" fill="none" stroke="#e2e2e2" stroke-width="0.95" stroke-linejoin="round" />
<polyline points="27.6,334.9 27.6,332.25 27.6,329.6 27.6,326.95 27.6,324.3 27.6,321.65 27.6,318.99 27.6,316.34 27.6,313.69 27.6,311.04 27.6,308.39 27.6,305.74 27.6,303.09 27.6,300.44 27.6,297.79 27.6,295.14 27.6,292.49 29.9,291.4 29.9,288.75 29.9,286.1 29.9,283.45 29.9,280.8 32.87,280.16 33.36,277.84 33.36,275.19 33.36,272.54 36.97,272.34 39.12,271.15 39.12,268.5 40.62,266.87 44.53,266.87 48.34,266.8 48.34,264.15 50.48,262.96 54.39,262.96 58.29,262.96 62.16,262.93 62.16,260.28 65.4,259.83 69.31,259.83 73.21,259.83 77.12,259.83 81.02,259.83 84.93,259.83 85.38,257.48 89.28,257.48 93.19,257.48 97.09,257.48 101,257.48 104.9,257.48 108.24,257.1 111.56,256.7 115.46,256.7 119.37,256.7 123.27,256.7 127.18,256.7 131.08,256.7 134.99,256.7 138.89,256.7 142.8,256.7" fill="none" stroke="#c4c4c4" stroke-width="0.95" stroke-linejoin="round" />
<path d="M26.5,334.9H28.7M27.6,333.8V336" stroke="#c4c4c4" stroke-width="0.5"/>
<path d="M26.5,313.69H28.7M27.6,312.59V314.79" stroke="#c4c4c4" stroke-width="0.5"/>
<path d="M26.5,292.49H28.7M27.6,291.39V293.59" stroke="#c4c4c4" stroke-width="0.5"/>
<path d="M32.26,275.19H34.46M33.36,274.09V276.29" stroke="#c4c4c4" stroke-width="0.5"/>
<path d="M47.24,264.15H49.44M48.34,263.05V265.25" stroke="#c4c4c4" stroke-width="0.5"/>
<path d="M72.11,259.83H74.31M73.21,258.73V260.93" stroke="#c4c4c4" stroke-width="0.5"/>
<path d="M99.9,257.48H102.1M101,256.38V258.58" stroke="#c4c4c4" stroke-width="0.5"/>
<path d="M129.98,256.7H132.18M131.08,255.6V257.8" stroke="#c4c4c4" stroke-width="0.5"/>
<polyline points="27.6,334.9 27.6,332.25 27.6,329.6 27.6,326.95 27.6,324.3 27.6,321.65 27.6,318.99 27.6,316.34 27.6,313.69 27.6,311.04 27.6,308.39 27.6,305.74 27.6,303.09 27.6,300.44 27.6,297.79 27.6,295.14 27.6,292.49 27.6,289.84 27.6,287.18 27.6,284.53 27.6,281.88 27.81,279.38 31.72,279.38 32.44,277.21 32.44,274.56 32.44,271.91 32.44,269.26 32.44,266.61 32.44,263.96 32.44,261.31 34.16,259.83 38.07,259.83 41.97,259.83 45.88,259.83 49.78,259.83 53.69,259.83 57.59,259.83 61.5,259.83 65.4,259.83 67.92,258.89 69.76,257.48 73.66,257.48 77.57,257.48 81.47,257.48 85.38,257.48 89.28,257.48 93.19,257.48 96.72,257.23 99.84,256.7 103.75,256.7 107.65,256.7 111.56,256.7 115.46,256.7 119.37,256.7 123.27,256.7 127.18,256.7 131.08,256.7 134.99,256.7 138.89,256.7 142.8,256.7" fill="none" stroke="#a4a4a4" stroke-width="0.95" stroke-linejoin="round" />
<path d="M27.6,333.25L29.25,334.9L27.6,336.55L25.95,334.9Z" fill="#a4a4a4"/>
<path d="M27.6,312.04L29.25,313.69L27.6,315.34L25.95,313.69Z" fill="#a4a4a4"/>
<path d="M27.6,290.84L29.25,292.49L27.6,294.14L25.95,292.49Z" fill="#a4a4a4"/>
<path d="M32.44,272.91L34.09,274.56L32.44,276.21L30.79,274.56Z" fill="#a4a4a4"/>
<path d="M41.97,258.18L43.62,259.83L41.97,261.48L40.32,259.83Z" fill="#a4a4a4"/>
<path d="M69.76,255.83L71.41,257.48L69.76,259.13L68.11,257.48Z" fill="#a4a4a4"/>
<path d="M99.84,255.05L101.49,256.7L99.84,258.35L98.19,256.7Z" fill="#a4a4a4"/>
<path d="M131.08,255.05L132.73,256.7L131.08,258.35L129.43,256.7Z" fill="#a4a4a4"/>
<polyline points="27.6,334.9 27.6,332.25 27.6,329.6 27.6,326.95 27.6,324.3 27.6,321.65 27.6,318.99 27.6,316.34 27.6,313.69 27.6,311.04 27.6,308.39 27.6,305.74 27.6,303.09 27.6,300.44 27.6,297.79 27.6,295.14 27.6,292.49 27.6,289.84 27.6,287.18 27.6,284.53 27.6,281.88 27.6,279.23 27.6,276.58 27.6,273.93 27.6,271.28 27.6,268.63 27.6,265.98 28.75,264.11 28.75,261.46 29.1,259.05 33.01,259.05 36.82,258.98 38.51,257.48 42.42,257.48 46.32,257.48 50.23,257.48 54.14,257.48 58.04,257.48 61.95,257.48 65.85,257.48 69.76,257.48 73.66,257.48 76.41,256.7 80.32,256.7 84.22,256.7 88.13,256.7 92.03,256.7 95.94,256.7 99.84,256.7 103.75,256.7 107.65,256.7 111.56,256.7 115.46,256.7 119.37,256.7 123.27,256.7 127.18,256.7 131.08,256.7 134.99,256.7 138.89,256.7 142.8,256.7" fill="none" stroke="#7a7a7a" stroke-width="0.95" stroke-linejoin="round" />
<polyline points="27.6,334.9 27.6,332.25 27.6,329.6 27.6,326.95 27.6,324.3 27.6,321.65 27.6,318.99 27.6,316.34 27.6,313.69 27.6,311.04 27.6,308.39 27.6,305.74 27.6,303.09 27.6,300.44 27.6,297.79 27.6,295.14 27.6,292.49 27.6,289.84 27.6,287.18 27.6,284.53 27.6,281.88 27.6,279.23 30.57,278.6 31.06,276.28 31.06,273.63 31.06,270.97 31.06,268.32 31.06,265.67 31.06,263.02 31.06,260.37 33.36,259.28 34.61,257.48 38.51,257.48 42.42,257.48 46.32,257.48 50.23,257.48 54.14,257.48 58.04,257.48 61.95,257.48 65.85,257.48 69.76,257.48 73.66,257.48 77.57,257.48 81.47,257.48 85.38,257.48 89.28,257.48 92.03,256.7 95.94,256.7 99.84,256.7 103.75,256.7 107.65,256.7 111.56,256.7 115.46,256.7 119.37,256.7 123.27,256.7 127.18,256.7 131.08,256.7 134.99,256.7 138.89,256.7 142.8,256.7" fill="none" stroke="#464646" stroke-width="0.95" stroke-linejoin="round" />
<circle cx="27.6" cy="334.9" r="0.7" fill="#464646"/>
<circle cx="27.6" cy="313.69" r="0.7" fill="#464646"/>
<circle cx="27.6" cy="292.49" r="0.7" fill="#464646"/>
<circle cx="31.06" cy="273.63" r="0.7" fill="#464646"/>
<circle cx="38.51" cy="257.48" r="0.7" fill="#464646"/>
<circle cx="69.76" cy="257.48" r="0.7" fill="#464646"/>
<circle cx="99.84" cy="256.7" r="0.7" fill="#464646"/>
<circle cx="131.08" cy="256.7" r="0.7" fill="#464646"/>
<polyline points="27.6,334.9 27.6,332.25 27.6,329.6 27.6,326.95 27.6,324.3 27.6,321.65 27.6,318.99 27.6,316.34 27.6,313.69 27.6,311.04 27.6,308.39 27.6,305.74 27.6,303.09 27.6,300.44 27.6,297.79 27.6,295.14 27.6,292.49 27.6,289.84 27.6,287.18 27.6,284.53 27.6,281.88 27.6,279.23 27.6,276.58 27.6,273.93 27.6,271.28 27.6,268.63 27.6,265.98 27.6,263.33 27.6,260.68 29.9,259.59 30.7,257.48 34.61,257.48 38.51,257.48 42.42,257.48 46.32,257.48 50.23,257.48 54.14,257.48 58.04,257.48 61.95,257.48 64.7,256.7 68.6,256.7 72.51,256.7 76.41,256.7 80.32,256.7 84.22,256.7 88.13,256.7 92.03,256.7 95.94,256.7 99.84,256.7 103.75,256.7 107.65,256.7 111.56,256.7 115.46,256.7 119.37,256.7 123.27,256.7 127.18,256.7 131.08,256.7 134.99,256.7 138.89,256.7 142.8,256.7" fill="none" stroke="#1e1e1e" stroke-width="0.95" stroke-linejoin="round" />
<circle cx="27.6" cy="334.9" r="1.3" fill="#1e1e1e"/>
<circle cx="27.6" cy="313.69" r="1.3" fill="#1e1e1e"/>
<circle cx="27.6" cy="292.49" r="1.3" fill="#1e1e1e"/>
<circle cx="27.6" cy="271.28" r="1.3" fill="#1e1e1e"/>
<circle cx="38.51" cy="257.48" r="1.3" fill="#1e1e1e"/>
<circle cx="68.6" cy="256.7" r="1.3" fill="#1e1e1e"/>
<circle cx="99.84" cy="256.7" r="1.3" fill="#1e1e1e"/>
<circle cx="131.08" cy="256.7" r="1.3" fill="#1e1e1e"/>
<polyline points="169,32.5 171.06,31.98 173.08,33.6 175.18,33.28 177.51,34.2 180.14,34.5 182.97,37.1 185.92,37.72 188.86,37.99 191.83,40.1 194.86,40.39 197.87,41.99 200.78,43.32 203.55,45.26 206.22,48.46 208.87,49.5 211.56,52.76 214.3,53.21 217.04,55.79 219.82,57.59 222.63,57.47 225.54,59.12 228.52,61.06 231.46,61.73 234.26,63.63 236.87,65.22 239.33,66.13 241.75,67.98 244.19,68.99 246.74,70.6 249.32,73.17 251.82,73.16 254.12,75.02 256.13,76.44 257.92,78.23 259.66,79.9 261.5,79.63 263.53,80.63 265.63,83.3 267.73,84.01 269.73,86.12 271.68,87.58 273.62,88.42 275.38,89.31 276.82,91.12 277.83,92.33 278.51,95.68 279.05,96.23 279.66,99.34 280.37,101.01 281.08,101.31 281.79,102.41 282.5,104.44" fill="none" stroke="#96045a" stroke-width="1.0" stroke-linejoin="round" />
<circle cx="169" cy="32.5" r="1.3" fill="#96045a"/>
<circle cx="180.14" cy="34.5" r="1.3" fill="#96045a"/>
<circle cx="194.86" cy="40.39" r="1.3" fill="#96045a"/>
<circle cx="208.87" cy="49.5" r="1.3" fill="#96045a"/>
<circle cx="222.63" cy="57.47" r="1.3" fill="#96045a"/>
<circle cx="236.87" cy="65.22" r="1.3" fill="#96045a"/>
<circle cx="249.32" cy="73.17" r="1.3" fill="#96045a"/>
<circle cx="259.66" cy="79.9" r="1.3" fill="#96045a"/>
<circle cx="269.73" cy="86.12" r="1.3" fill="#96045a"/>
<circle cx="277.83" cy="92.33" r="1.3" fill="#96045a"/>
<circle cx="281.08" cy="101.31" r="1.3" fill="#96045a"/>
<polyline points="169,32.5 171.84,33.74 174.68,33.01 177.51,33.83 180.35,34.26 183.24,35.61 186.17,38.11 189.02,39.37 191.7,40.98 194.09,42.02 196.28,43.11 198.44,43.39 200.78,45.67 203.35,46.57 206.05,47.67 208.81,50.42 211.56,50.55 214.3,52.14 217.04,53.75 219.82,56.38 222.63,56.99 225.54,58.71 228.52,60.66 231.46,61.58 234.26,63.96 236.87,65.96 239.33,67.16 241.75,67.54 244.19,70.34 246.74,71.63 249.32,73.19 251.82,75.31 254.12,75.71 256.13,78.13 257.92,79.47 259.66,80.55 261.5,81.27 263.53,81.76 265.63,83.33 267.73,85.94 269.73,86.85 271.65,88.1 273.53,88.04 275.28,90.92 276.82,91.06 278.16,93.73 279.31,96.28 280.28,98.46 281.08,101.66 281.64,103.19 281.97,103.12 282.21,105.71 282.5,106.01" fill="none" stroke="#cc2382" stroke-width="1.0" stroke-linejoin="round" />
<path d="M169,30.85L170.65,32.5L169,34.15L167.35,32.5Z" fill="#cc2382"/>
<path d="M183.24,33.96L184.89,35.61L183.24,37.26L181.59,35.61Z" fill="#cc2382"/>
<path d="M196.28,41.46L197.93,43.11L196.28,44.76L194.63,43.11Z" fill="#cc2382"/>
<path d="M208.81,48.77L210.46,50.42L208.81,52.07L207.16,50.42Z" fill="#cc2382"/>
<path d="M222.63,55.34L224.28,56.99L222.63,58.64L220.98,56.99Z" fill="#cc2382"/>
<path d="M236.87,64.31L238.52,65.96L236.87,67.61L235.22,65.96Z" fill="#cc2382"/>
<path d="M249.32,71.54L250.97,73.19L249.32,74.84L247.67,73.19Z" fill="#cc2382"/>
<path d="M259.66,78.9L261.31,80.55L259.66,82.2L258.01,80.55Z" fill="#cc2382"/>
<path d="M269.73,85.2L271.38,86.85L269.73,88.5L268.08,86.85Z" fill="#cc2382"/>
<path d="M278.16,92.08L279.81,93.73L278.16,95.38L276.51,93.73Z" fill="#cc2382"/>
<path d="M281.97,101.47L283.62,103.12L281.97,104.77L280.32,103.12Z" fill="#cc2382"/>
<polyline points="169,32.5 171.78,33.61 174.51,34.08 177.27,33.31 180.13,33.93 183.19,34.7 186.6,36.44 190.31,37.46 194.07,39.52 197.64,39.39 200.78,41.61 203.37,41.26 205.57,43.16 207.56,44.45 209.5,46.21 211.56,46.69 213.75,47.09 215.94,49.23 218.15,49.89 220.37,52.15 222.63,52.14 224.95,53.89 227.32,55.69 229.7,56.34 232.04,56.8 234.26,58.37 236.36,59.68 238.36,59.45 240.3,61.34 242.23,61.19 244.19,62.42 246.22,64.37 248.29,66.05 250.34,67.34 252.3,68.91 254.12,70.12 255.75,70.74 257.22,72.29 258.61,72.58 260.01,73.87 261.5,75.53 263.11,75.72 264.79,76.37 266.48,77.84 268.14,79.05 269.73,78.87 271.27,79.95 272.79,80.27 274.25,81.16 275.61,82.01 276.82,84.02 277.9,86.48 278.87,87.43 279.72,91.14 280.46,93.37 281.08,95.48 281.55,95.91 281.85,98.3 282.07,99.87 282.26,100.75 282.5,101.32" fill="none" stroke="#e064a6" stroke-width="1.0" stroke-linejoin="round" />
<path d="M169,31.05L170.45,33.59L167.55,33.59Z" fill="#e064a6"/>
<path d="M183.19,33.25L184.64,35.79L181.74,35.79Z" fill="#e064a6"/>
<path d="M200.78,40.16L202.23,42.69L199.33,42.69Z" fill="#e064a6"/>
<path d="M211.56,45.24L213.01,47.78L210.11,47.78Z" fill="#e064a6"/>
<path d="M222.63,50.69L224.08,53.22L221.18,53.22Z" fill="#e064a6"/>
<path d="M234.26,56.92L235.71,59.46L232.81,59.46Z" fill="#e064a6"/>
<path d="M244.19,60.97L245.64,63.51L242.74,63.51Z" fill="#e064a6"/>
<path d="M254.12,68.67L255.57,71.21L252.68,71.21Z" fill="#e064a6"/>
<path d="M261.5,74.08L262.95,76.61L260.05,76.61Z" fill="#e064a6"/>
<path d="M269.73,77.42L271.18,79.96L268.28,79.96Z" fill="#e064a6"/>
<path d="M276.82,82.57L278.27,85.1L275.38,85.1Z" fill="#e064a6"/>
<path d="M281.08,94.03L282.53,96.56L279.63,96.56Z" fill="#e064a6"/>
<path d="M282.5,99.87L283.95,102.4L281.05,102.4Z" fill="#e064a6"/>
<polyline points="169,32.5 171.78,32.59 174.51,34.54 177.27,34.77 180.13,35.24 183.19,35.53 186.6,38.07 190.31,38.6 194.07,39.34 197.64,41.9 200.78,42.15 203.37,43.54 205.57,44.33 207.56,45.22 209.5,47.26 211.56,47.96 213.75,49.34 215.94,50.39 218.15,51.62 220.37,54.1 222.63,54.35 224.95,55.19 227.32,55.9 229.7,57.84 232.04,59.3 234.26,60.53 236.36,59.95 238.36,61.01 240.3,63.4 242.23,63.44 244.19,63.73 246.22,66.06 248.29,66.39 250.34,68.84 252.3,69.7 254.12,71.22 255.75,72.78 257.22,72.36 258.61,74.29 260.01,76.08 261.5,76.59 263.11,76.53 264.79,77.49 266.48,78.4 268.14,80.18 269.73,80.61 271.27,81.99 272.79,83.09 274.25,82.93 275.61,83.43 276.82,85.97 277.9,87.38 278.87,89.29 279.72,92.89 280.46,93.96 281.08,96.53 281.55,98.3 281.85,100.26 282.07,99.72 282.26,101.92 282.5,102.88" fill="none" stroke="#ee9ec9" stroke-width="1.0" stroke-linejoin="round" />
<path d="M169,31.05L170.45,33.59L167.55,33.59Z" fill="#ee9ec9"/>
<path d="M183.19,34.08L184.64,36.62L181.74,36.62Z" fill="#ee9ec9"/>
<path d="M200.78,40.7L202.23,43.24L199.33,43.24Z" fill="#ee9ec9"/>
<path d="M211.56,46.51L213.01,49.05L210.11,49.05Z" fill="#ee9ec9"/>
<path d="M222.63,52.9L224.08,55.44L221.18,55.44Z" fill="#ee9ec9"/>
<path d="M234.26,59.08L235.71,61.62L232.81,61.62Z" fill="#ee9ec9"/>
<path d="M244.19,62.28L245.64,64.82L242.74,64.82Z" fill="#ee9ec9"/>
<path d="M254.12,69.77L255.57,72.3L252.68,72.3Z" fill="#ee9ec9"/>
<path d="M261.5,75.14L262.95,77.68L260.05,77.68Z" fill="#ee9ec9"/>
<path d="M269.73,79.16L271.18,81.7L268.28,81.7Z" fill="#ee9ec9"/>
<path d="M276.82,84.52L278.27,87.06L275.38,87.06Z" fill="#ee9ec9"/>
<path d="M281.08,95.08L282.53,97.62L279.63,97.62Z" fill="#ee9ec9"/>
<path d="M282.5,101.43L283.95,103.97L281.05,103.97Z" fill="#ee9ec9"/>
<polyline points="169,32.5 171.62,32.05 174.24,33.4 176.85,33.17 179.46,32.85 182.08,33.39 184.71,34.03 187.35,35.24 190,35.42 192.66,36.8 195.34,37.2 198.03,38.56 200.73,39.56 203.43,39.34 206.14,40.88 208.85,42.82 211.56,43.82 214.28,44 217.01,45.79 219.75,45.49 222.49,47.41 225.23,47.9 227.96,49.6 230.69,51.16 233.41,52.05 236.15,52.69 238.92,53.25 241.71,56.04 244.48,55.4 247.21,58.1 249.89,58.05 252.49,59.29 254.98,60.44 257.42,61.33 259.86,63.34 262.25,62.93 264.57,64.12 266.77,65.57 268.82,66.84 270.67,68.86 272.28,68.36 273.64,70.57 274.74,72.47 275.65,73.04 276.4,74.18 277.05,76.49 277.63,77.14 278.2,79.3 278.81,79.48 279.41,81.46 279.93,82.66 280.4,83.63 280.83,84.84 281.24,86.4 281.64,89.1 282.06,90.52 282.5,91.15" fill="none" stroke="#f7c8e2" stroke-width="1.0" stroke-linejoin="round" />
<polyline points="169,32.5 171.62,31.95 174.24,32.98 176.85,32.43 179.46,33.02 182.08,33.11 184.71,34.41 187.35,35.14 190,34.98 192.66,35.16 195.34,36.93 198.03,37.54 200.73,37.87 203.43,39.93 206.14,39.62 208.85,41.33 211.56,42.59 214.28,43.61 217.01,43.57 219.75,45.41 222.49,46.96 225.23,46.57 227.96,48.3 230.69,48.92 233.41,49.77 236.15,50.92 238.92,53.02 241.71,54.23 244.48,54.28 247.21,55.57 249.89,57.71 252.49,58.64 254.98,59.33 257.41,60.27 259.84,60.92 262.22,62.8 264.52,63.41 266.71,63.96 268.76,65.74 270.63,66.87 272.28,66.85 273.71,68.99 274.93,71.31 275.98,72.89 276.88,73.22 277.66,74.2 278.37,76.36 279.03,78.63 279.66,79.77 280.23,79.91 280.69,82 281.06,83.07 281.37,84.73 281.64,84.72 281.9,87.06 282.18,88.35 282.5,88.8" fill="none" stroke="#fbe3f0" stroke-width="1.0" stroke-linejoin="round" />
<polyline points="169,32.5 171.62,33.09 174.24,33.4 176.85,34.61 179.46,34.01 182.08,33.88 184.71,34.87 187.35,36.31 190,36.09 192.66,37.35 195.34,38.67 198.03,38.44 200.73,40.43 203.43,41.84 206.14,43.2 208.85,44.78 211.56,45.58 214.28,45.67 217.01,47.68 219.75,48.11 222.49,49.53 225.23,51.29 227.96,52.08 230.69,52.89 233.41,54.5 236.15,56.02 238.92,57.13 241.71,58 244.48,59.57 247.21,60.53 249.89,61.4 252.49,62.28 254.98,64.37 257.41,64.76 259.84,66.55 262.22,67.3 264.52,68.16 266.71,69.64 268.76,71.59 270.63,71.42 272.28,73.82 273.71,74.99 274.93,75 275.98,76.67 276.88,78.66 277.66,79.89 278.37,81.4 279.03,81.65 279.66,83 280.23,83.96 280.69,86.74 281.06,86.81 281.37,89.61 281.64,91.25 281.9,92.18 282.18,93.53 282.5,95.06" fill="none" stroke="#fbeef4" stroke-width="1.0" stroke-linejoin="round" />
<polyline points="169,32.5 173.31,32.54 177.69,32.57 182.13,32.59 186.57,32.62 190.99,32.65 195.35,32.68 199.63,32.72 203.78,32.76 207.77,32.82 211.56,32.89 215.2,32.97 218.73,33.06 222.15,33.15 225.46,33.25 228.66,33.36 231.73,33.47 234.69,33.6 237.51,33.74 240.21,33.9 242.78,34.06 245.18,34.22 247.41,34.35 249.49,34.47 251.44,34.6 253.27,34.75 255.02,34.94 256.69,35.18 258.32,35.5 259.92,35.9 261.5,36.41 263.07,37 264.58,37.65 266.04,38.35 267.45,39.12 268.79,39.95 270.08,40.87 271.3,41.86 272.45,42.95 273.54,44.13 274.56,45.4 275.49,46.82 276.36,48.39 277.15,50.09 277.88,51.88 278.55,53.74 279.15,55.63 279.7,57.53 280.21,59.42 280.66,61.25 281.08,63 281.43,64.69 281.69,66.36 281.88,68.01 282.02,69.65 282.11,71.28 282.18,72.91 282.24,74.53 282.3,76.15 282.38,77.78 282.5,79.42" fill="none" stroke="#e8f4d6" stroke-width="1.0" stroke-linejoin="round" />
<polyline points="169,32.5 173.05,32.55 177.11,32.59 181.16,32.63 185.21,32.67 189.27,32.72 193.32,32.79 197.38,32.89 201.52,33.01 205.77,33.16 210.06,33.32 214.28,33.49 218.37,33.68 222.22,33.87 225.75,34.06 228.92,34.23 231.78,34.37 234.41,34.5 236.89,34.66 239.3,34.88 241.71,35.2 244.19,35.63 246.8,36.18 249.47,36.82 252.14,37.54 254.74,38.33 257.21,39.2 259.49,40.12 261.5,41.1 263.24,42.13 264.74,43.19 266.05,44.32 267.21,45.52 268.28,46.81 269.3,48.2 270.3,49.7 271.26,51.32 272.12,53.05 272.91,54.87 273.64,56.78 274.33,58.78 275.01,60.85 275.69,63 276.38,65.27 277.06,67.7 277.73,70.22 278.36,72.79 278.95,75.34 279.48,77.83 279.95,80.2 280.32,82.45 280.62,84.62 280.85,86.73 281.05,88.82 281.24,90.88 281.43,92.96 281.65,95.06" fill="none" stroke="#c4e69c" stroke-width="1.0" stroke-linejoin="round" />
<path d="M167.9,32.5H170.1M169,31.4V33.6" stroke="#c4e69c" stroke-width="0.5"/>
<path d="M188.17,32.72H190.37M189.27,31.62V33.82" stroke="#c4e69c" stroke-width="0.5"/>
<path d="M208.96,33.32H211.16M210.06,32.22V34.42" stroke="#c4e69c" stroke-width="0.5"/>
<path d="M227.82,34.23H230.02M228.92,33.13V35.33" stroke="#c4e69c" stroke-width="0.5"/>
<path d="M240.61,35.2H242.81M241.71,34.1V36.3" stroke="#c4e69c" stroke-width="0.5"/>
<path d="M253.64,38.33H255.84M254.74,37.23V39.43" stroke="#c4e69c" stroke-width="0.5"/>
<path d="M263.64,43.19H265.84M264.74,42.09V44.29" stroke="#c4e69c" stroke-width="0.5"/>
<path d="M269.2,49.7H271.4M270.3,48.6V50.8" stroke="#c4e69c" stroke-width="0.5"/>
<path d="M273.23,58.78H275.43M274.33,57.68V59.88" stroke="#c4e69c" stroke-width="0.5"/>
<path d="M276.63,70.22H278.83M277.73,69.12V71.32" stroke="#c4e69c" stroke-width="0.5"/>
<path d="M279.22,82.45H281.42M280.32,81.35V83.55" stroke="#c4e69c" stroke-width="0.5"/>
<path d="M280.33,92.96H282.53M281.43,91.86V94.06" stroke="#c4e69c" stroke-width="0.5"/>
<polyline points="276.82,32.5 282.36,33.91 282.5,36.54 282.5,39.17 282.5,41.8 282.5,44.43 282.5,47.06 282.5,49.69 282.5,52.33 282.5,54.96 282.5,57.59 282.5,60.22 282.5,62.85 282.5,65.48 282.5,68.11 282.5,70.74 282.5,73.37 282.5,76 282.5,78.63 282.5,81.26 282.5,83.89 282.5,86.53 282.5,89.16 282.5,91.79 282.5,94.42 282.5,97.05 282.5,99.68 282.5,102.31 282.5,104.94 282.5,107.57" fill="none" stroke="#9acd61" stroke-width="1.0" stroke-linejoin="round" />
<path d="M276.82,30.85L278.47,32.5L276.82,34.15L275.18,32.5Z" fill="#9acd61"/>
<path d="M282.5,37.52L284.15,39.17L282.5,40.82L280.85,39.17Z" fill="#9acd61"/>
<path d="M282.5,45.41L284.15,47.06L282.5,48.71L280.85,47.06Z" fill="#9acd61"/>
<path d="M282.5,53.31L284.15,54.96L282.5,56.61L280.85,54.96Z" fill="#9acd61"/>
<path d="M282.5,61.2L284.15,62.85L282.5,64.5L280.85,62.85Z" fill="#9acd61"/>
<path d="M282.5,69.09L284.15,70.74L282.5,72.39L280.85,70.74Z" fill="#9acd61"/>
<path d="M282.5,76.98L284.15,78.63L282.5,80.28L280.85,78.63Z" fill="#9acd61"/>
<path d="M282.5,84.88L284.15,86.53L282.5,88.18L280.85,86.53Z" fill="#9acd61"/>
<path d="M282.5,92.77L284.15,94.42L282.5,96.07L280.85,94.42Z" fill="#9acd61"/>
<path d="M282.5,100.66L284.15,102.31L282.5,103.96L280.85,102.31Z" fill="#9acd61"/>
<polyline points="273.99,32.5 281.7,33.18 282.5,35.81 282.5,38.47 282.5,41.13 282.5,43.79 282.5,46.44 282.5,49.1 282.5,51.76 282.5,54.42 282.5,57.07 282.5,59.73 282.5,62.39 282.5,65.05 282.5,67.71 282.5,70.36 282.5,73.02 282.5,75.68 282.5,78.34 282.5,80.99 282.5,83.65 282.5,86.31 282.5,88.97 282.5,91.63 282.5,94.28 282.5,96.94 282.5,99.6 282.5,102.26 282.5,104.91 282.5,107.57" fill="none" stroke="#6aad38" stroke-width="1.0" stroke-linejoin="round" />
<polyline points="268.31,32.5 278.16,32.5 282.5,34.65 282.5,37.37 282.5,40.08 282.5,42.8 282.5,45.51 282.5,48.23 282.5,50.94 282.5,53.66 282.5,56.37 282.5,59.09 282.5,61.8 282.5,64.52 282.5,67.23 282.5,69.95 282.5,72.67 282.5,75.38 282.5,78.1 282.5,80.81 282.5,83.53 282.5,86.24 282.5,88.96 282.5,91.67 282.5,94.39 282.5,97.1 282.5,99.82 282.5,102.53 282.5,105.25 282.5,107.96" fill="none" stroke="#3f8a24" stroke-width="1.0" stroke-linejoin="round" />
<circle cx="268.31" cy="32.5" r="0.7" fill="#3f8a24"/>
<circle cx="282.5" cy="37.37" r="0.7" fill="#3f8a24"/>
<circle cx="282.5" cy="45.51" r="0.7" fill="#3f8a24"/>
<circle cx="282.5" cy="53.66" r="0.7" fill="#3f8a24"/>
<circle cx="282.5" cy="61.8" r="0.7" fill="#3f8a24"/>
<circle cx="282.5" cy="69.95" r="0.7" fill="#3f8a24"/>
<circle cx="282.5" cy="78.1" r="0.7" fill="#3f8a24"/>
<circle cx="282.5" cy="86.24" r="0.7" fill="#3f8a24"/>
<circle cx="282.5" cy="94.39" r="0.7" fill="#3f8a24"/>
<circle cx="282.5" cy="102.53" r="0.7" fill="#3f8a24"/>
<polyline points="242.78,32.5 253.46,32.58 264.15,32.68 274.83,32.82 281.08,34.46 282.5,37.24 282.5,40.19 282.5,43.13 282.5,46.08 282.5,49.03 282.5,51.97 282.5,54.92 282.5,57.87 282.5,60.81 282.5,63.76 282.5,66.71 282.5,69.66 282.5,72.6 282.5,75.55 282.5,78.5 282.5,81.44 282.5,84.39 282.5,87.34 282.5,90.28 282.5,93.23 282.5,96.18 282.5,99.12 282.5,102.07 282.5,105.02 282.5,107.96" fill="none" stroke="#226318" stroke-width="1.0" stroke-linejoin="round" />
<circle cx="242.78" cy="32.5" r="1.3" fill="#226318"/>
<circle cx="274.83" cy="32.82" r="1.3" fill="#226318"/>
<circle cx="282.5" cy="40.19" r="1.3" fill="#226318"/>
<circle cx="282.5" cy="49.03" r="1.3" fill="#226318"/>
<circle cx="282.5" cy="57.87" r="1.3" fill="#226318"/>
<circle cx="282.5" cy="66.71" r="1.3" fill="#226318"/>
<circle cx="282.5" cy="75.55" r="1.3" fill="#226318"/>
<circle cx="282.5" cy="84.39" r="1.3" fill="#226318"/>
<circle cx="282.5" cy="93.23" r="1.3" fill="#226318"/>
<circle cx="282.5" cy="102.07" r="1.3" fill="#226318"/>
<polyline points="167.5,223.1 282.5,223.1" fill="none" stroke="#f4b5d6" stroke-width="1.1" stroke-linejoin="round" />
<path d="M225,221.35L226.45,223.89L223.55,223.89Z" fill="#f0a6cc"/>
<path d="M167.5,221.35L168.95,223.89L166.05,223.89Z" fill="#f0a6cc"/>
<polyline points="234.52,144.81 234.28,146.92 237.56,148.02 239.13,150.32 241.24,152.81 245.02,155.9 247.64,157.91 249.09,158.96 248.24,160.31 249.59,163.17 254.88,166.09 253.08,167.96 258.01,168.97 257.74,171.12 258,173.9 258.26,175.49 260.86,177.71 260.38,178.73 263.02,181.34 264.16,183.33 263.62,185.39 261.76,187.26 267.2,190.5 267.91,191 264.95,193.09 267.57,195.55 266.62,197.76 268.87,199.45 270.17,202.2 271.19,204 282.5,208.36 271.52,209.92 282.5,213.03 274.39,214.6 281.04,219.5 269.18,221.06 275.18,221.24 269.24,222.8 282.5,222.8 282.5,222.02" fill="none" stroke="#fbe3f0" stroke-width="0.9" stroke-linejoin="round" />
<polyline points="235.01,145.38 234.55,146.38 238.56,148.19 238.43,150.3 243.03,152.36 243.16,155.02 246.54,156.54 246.05,159.66 248.18,161.8 249.24,164.12 251.4,165.33 256.18,167.18 258.84,170.15 259.01,170.59 258.84,173.24 258.32,175.28 259.1,177.07 257.42,179.49 258.26,181.46 264.04,184.5 262.43,186.34 261.65,187.69 262.1,189.75 267.07,191.36 267.99,193.69 268.97,196.57 270.63,198.19 267.17,200.54 268.21,201.31 268.44,204.39 272.79,209.25 265.25,210.81 282.5,213.71 268.86,215.27 282.5,215.27 282.5,222.02" fill="none" stroke="#fbeef4" stroke-width="0.9" stroke-linejoin="round" />
<polyline points="233.71,145.28 238.62,146.59 235.92,149.19 240.78,150.44 244.65,153.7 249.08,154.8 247.52,158.1 253.16,159.16 251.28,160.55 254.22,163.13 257.72,165.65 257.64,167.47 257.56,170.24 260.04,171.61 260.85,172.64 260.12,175.26 262.68,177.89 264.62,179.6 264.22,181.2 265.43,184 265.7,184.92 267.6,188.1 265.68,190.43 267.19,190.92 269.77,193.79 270.71,196.83 270.5,197.93 269.8,199.76 274.26,201.71 274.14,204.91 282.5,209.12 276.65,210.69 281.37,216.33 268.98,217.89 275.67,221.17 267.37,222.74 282.5,222.74 282.5,222.02" fill="none" stroke="#e8f4d6" stroke-width="0.9" stroke-linejoin="round" />
<polyline points="230.52,145.68 235.73,147.55 235.81,150.38 237.86,152.2 241.65,153.52 241.36,156.57 245.77,157.51 245.92,160.73 247.05,161.39 251.01,164.64 253.86,166.74 253.94,166.94 251.66,169.03 252.72,172.06 256.05,174.26 257.69,175.9 255.92,178.71 257.94,180.19 257.54,182.3 261.26,183.12 263.24,185.03 263.31,187.62 264.4,189.16 265.24,192.41 266.08,193.24 263,195.21 264.09,197.61 264.36,199.63 265.89,201.44 266.91,203.75 282.5,207.25 270.43,208.82 282.5,213.81 269.58,215.38 282.5,215.38 282.5,222.02" fill="none" stroke="#ee9ec9" stroke-width="0.9" stroke-linejoin="round" />
<path d="M230.52,144.23L231.97,146.77L229.07,146.77Z" fill="#ee9ec9"/>
<path d="M241.65,152.07L243.1,154.6L240.2,154.6Z" fill="#ee9ec9"/>
<path d="M247.05,159.94L248.5,162.48L245.6,162.48Z" fill="#ee9ec9"/>
<path d="M251.66,167.58L253.11,170.12L250.21,170.12Z" fill="#ee9ec9"/>
<path d="M255.92,177.26L257.37,179.8L254.47,179.8Z" fill="#ee9ec9"/>
<path d="M263.24,183.58L264.69,186.12L261.79,186.12Z" fill="#ee9ec9"/>
<path d="M266.08,191.79L267.53,194.32L264.63,194.32Z" fill="#ee9ec9"/>
<path d="M265.89,199.99L267.34,202.53L264.44,202.53Z" fill="#ee9ec9"/>
<path d="M282.5,212.36L283.95,214.9L281.05,214.9Z" fill="#ee9ec9"/>
<polyline points="234.5,145.89 236.2,147.67 237.31,149.54 237.45,152.29 240.67,153.77 241.74,155.18 248.36,158.16 246.04,160.09 250.36,162.08 249.75,163.74 253.02,164.91 256.87,168.12 255.96,170.22 257.36,172.35 256.22,174.31 259.47,175.05 257.53,178.18 261.93,180.63 258.56,182.02 261.3,183.54 259.72,186.24 261.23,187.3 262.15,189.39 265.09,192 262.82,193.43 265.18,195.86 267.04,198.91 267.83,199.59 268.13,202.6 268.59,204.15 282.5,207.88 273.92,209.45 279.02,214.31 274.13,215.87 279.07,220.25 273.94,221.81 276.56,221.24 266.15,222.8 282.5,222.8 282.5,222.02" fill="none" stroke="#e064a6" stroke-width="0.9" stroke-linejoin="round" />
<path d="M234.5,144.44L235.95,146.98L233.05,146.98Z" fill="#e064a6"/>
<path d="M240.67,152.32L242.12,154.86L239.22,154.86Z" fill="#e064a6"/>
<path d="M250.36,160.63L251.81,163.17L248.91,163.17Z" fill="#e064a6"/>
<path d="M255.96,168.77L257.41,171.3L254.51,171.3Z" fill="#e064a6"/>
<path d="M257.53,176.73L258.98,179.26L256.08,179.26Z" fill="#e064a6"/>
<path d="M259.72,184.79L261.17,187.33L258.27,187.33Z" fill="#e064a6"/>
<path d="M262.82,191.98L264.27,194.52L261.37,194.52Z" fill="#e064a6"/>
<path d="M268.13,201.15L269.58,203.69L266.68,203.69Z" fill="#e064a6"/>
<path d="M279.02,212.86L280.47,215.4L277.57,215.4Z" fill="#e064a6"/>
<path d="M276.56,219.79L278.01,222.32L275.11,222.32Z" fill="#e064a6"/>
<polyline points="232.32,144.8 234.15,146.75 235.9,148.45 241.15,150.75 242.44,153.49 244.81,155.86 242.88,157 246.17,158.81 246.74,160.86 253.94,162.65 255.7,165.37 253.77,167.08 256.97,169.16 257.51,172.02 258.55,174.34 256.47,176.43 259.52,178.48 258.88,179.74 260.17,180.93 262.01,183.15 261.86,185.69 261.63,188.3 263.23,189.01 264.94,191.13 266.76,194.53 265.99,195.89 268.34,197.1 267.91,199.93 269.04,202.39 269.76,203.83 272.98,206.96 265.25,208.52 282.5,214.51 277.24,216.07 281.77,221.24 273.98,222.8 282.5,222.8 282.5,222.02" fill="none" stroke="#cc2382" stroke-width="0.9" stroke-linejoin="round" />
<path d="M232.32,143.15L233.97,144.8L232.32,146.45L230.67,144.8Z" fill="#cc2382"/>
<path d="M242.44,151.84L244.09,153.49L242.44,155.14L240.79,153.49Z" fill="#cc2382"/>
<path d="M246.74,159.21L248.39,160.86L246.74,162.51L245.09,160.86Z" fill="#cc2382"/>
<path d="M256.97,167.51L258.62,169.16L256.97,170.81L255.32,169.16Z" fill="#cc2382"/>
<path d="M259.52,176.83L261.17,178.48L259.52,180.13L257.87,178.48Z" fill="#cc2382"/>
<path d="M261.86,184.04L263.51,185.69L261.86,187.34L260.21,185.69Z" fill="#cc2382"/>
<path d="M266.76,192.88L268.41,194.53L266.76,196.18L265.11,194.53Z" fill="#cc2382"/>
<path d="M269.04,200.74L270.69,202.39L269.04,204.04L267.39,202.39Z" fill="#cc2382"/>
<path d="M282.5,212.86L284.15,214.51L282.5,216.16L280.85,214.51Z" fill="#cc2382"/>
<path d="M282.5,221.15L284.15,222.8L282.5,224.45L280.85,222.8Z" fill="#cc2382"/>
<polyline points="230.02,145.55 232.61,147.82 237.63,148.77 237.94,152.27 241.65,153.16 244.26,154.76 245.96,157.07 247.46,159.13 247.1,162.1 252.07,163.78 252.12,165.74 254.88,167.74 252.85,169.59 255.65,171.92 255.18,174.17 254.52,175.23 256.82,176.81 257.98,179.75 261.05,181.75 258.29,183.19 260.55,186.29 263.92,188.33 261.58,189.98 265.74,191.61 265.93,193.52 267.11,196.22 267.36,197.76 268.39,199.21 270.36,201.16 270.58,204.04 282.5,208.83 273.21,210.4 282.5,216.08 269.09,217.64 282.5,217.64 282.5,222.02" fill="none" stroke="#96045a" stroke-width="0.9" stroke-linejoin="round" />
<circle cx="230.02" cy="145.55" r="1.3" fill="#96045a"/>
<circle cx="241.65" cy="153.16" r="1.3" fill="#96045a"/>
<circle cx="247.1" cy="162.1" r="1.3" fill="#96045a"/>
<circle cx="252.85" cy="169.59" r="1.3" fill="#96045a"/>
<circle cx="256.82" cy="176.81" r="1.3" fill="#96045a"/>
<circle cx="260.55" cy="186.29" r="1.3" fill="#96045a"/>
<circle cx="265.93" cy="193.52" r="1.3" fill="#96045a"/>
<circle cx="270.36" cy="201.16" r="1.3" fill="#96045a"/>
<circle cx="282.5" cy="216.08" r="1.3" fill="#96045a"/>
<polyline points="236.06,146.72 237.7,148.56 237.07,149.74 240.48,151.57 244.57,154.16 246.82,156.56 251.01,158.17 250.84,159.58 252.43,162.27 253.67,163.56 253.28,165.72 257.97,168.62 259.95,170.43 257.95,171.66 262.43,174.22 258.3,176.77 258.85,178.85 263.98,180.28 262.42,182.16 261.45,184.55 266.46,186.11 264.67,188.78 266.76,190.09 268.19,191.55 269.57,193.82 267.02,195.92 272.74,197.45 269.2,200.12 273.35,201.56 272.12,204.86 278.71,209.02 272.14,210.58 282.5,213.45 270.59,215.02 282.5,220.09 268.77,221.65 271.66,221.24 265.75,222.8 282.5,222.8 282.5,222.02" fill="none" stroke="#c4e69c" stroke-width="0.9" stroke-linejoin="round" />
<path d="M234.96,146.72H237.16M236.06,145.62V147.82" stroke="#c4e69c" stroke-width="0.5"/>
<path d="M243.47,154.16H245.67M244.57,153.06V155.26" stroke="#c4e69c" stroke-width="0.5"/>
<path d="M251.33,162.27H253.53M252.43,161.17V163.37" stroke="#c4e69c" stroke-width="0.5"/>
<path d="M258.85,170.43H261.05M259.95,169.33V171.53" stroke="#c4e69c" stroke-width="0.5"/>
<path d="M257.75,178.85H259.95M258.85,177.75V179.95" stroke="#c4e69c" stroke-width="0.5"/>
<path d="M265.36,186.11H267.56M266.46,185.01V187.21" stroke="#c4e69c" stroke-width="0.5"/>
<path d="M268.47,193.82H270.67M269.57,192.72V194.92" stroke="#c4e69c" stroke-width="0.5"/>
<path d="M272.25,201.56H274.45M273.35,200.46V202.66" stroke="#c4e69c" stroke-width="0.5"/>
<path d="M281.4,213.45H283.6M282.5,212.35V214.55" stroke="#c4e69c" stroke-width="0.5"/>
<path d="M270.56,221.24H272.76M271.66,220.14V222.34" stroke="#c4e69c" stroke-width="0.5"/>
<polyline points="239.22,145.26 239.61,148.21 242.97,150.28 242.76,152.33 244.45,153.41 250.53,156.43 250.99,158.75 253.72,158.97 257.44,161.24 259.2,163.53 259.42,165.57 258.48,168.17 258.53,169.58 260.53,172.47 265.7,173.28 266.24,176.36 262.2,177.88 266.97,179.22 265.11,181.28 268.98,183.46 267.07,185.05 267.17,188.32 269.4,190.6 269.99,192.37 270.05,193.33 271.33,195.9 275.18,197.19 273.86,199.75 277.82,202.67 274.59,203.12 278.03,206.72 265.25,208.28 282.5,211.79 274.65,213.35 282.5,213.35 282.5,222.02" fill="none" stroke="#9acd61" stroke-width="0.9" stroke-linejoin="round" />
<path d="M239.22,143.61L240.87,145.26L239.22,146.91L237.57,145.26Z" fill="#9acd61"/>
<path d="M244.45,151.76L246.1,153.41L244.45,155.06L242.8,153.41Z" fill="#9acd61"/>
<path d="M257.44,159.59L259.09,161.24L257.44,162.89L255.79,161.24Z" fill="#9acd61"/>
<path d="M258.53,167.93L260.18,169.58L258.53,171.23L256.88,169.58Z" fill="#9acd61"/>
<path d="M262.2,176.23L263.85,177.88L262.2,179.53L260.55,177.88Z" fill="#9acd61"/>
<path d="M267.07,183.4L268.72,185.05L267.07,186.7L265.42,185.05Z" fill="#9acd61"/>
<path d="M270.05,191.68L271.7,193.33L270.05,194.98L268.4,193.33Z" fill="#9acd61"/>
<path d="M277.82,201.02L279.47,202.67L277.82,204.32L276.17,202.67Z" fill="#9acd61"/>
<path d="M282.5,210.14L284.15,211.79L282.5,213.44L280.85,211.79Z" fill="#9acd61"/>
<polyline points="237.4,144.99 239.3,147.35 239.92,150.72 244.47,151.34 248.45,153.83 245.77,155.78 249.44,158.63 255.47,159.68 255.69,161.47 253.87,163.04 257.33,165.54 259.69,167.04 258.38,170.71 262.1,171.87 262.39,174.84 261.88,176.21 260.6,177.57 265.48,180.51 264.44,182.73 268.26,183.15 266.57,185.35 267.72,187.56 266.49,189.49 271.56,191.99 270.11,193.5 273.61,196.13 272.34,198.59 273.16,200.3 274.21,202.21 274.19,203.62 282.5,209.4 277.63,210.96 282.5,216.43 268.7,217.99 273.36,220.61 266.91,222.17 282.5,222.17 282.5,222.02" fill="none" stroke="#6aad38" stroke-width="0.9" stroke-linejoin="round" />
<polyline points="237.53,144.87 239.97,147.92 243.14,149.75 244.68,150.79 245.98,153.33 251,156.08 250.47,156.84 252.38,159.92 254.53,161.58 256.54,163.44 258.64,164.8 258.73,168.02 260.47,169.27 261.27,171.35 264.04,174.08 266.14,174.98 264.92,177.84 269.14,178.98 265.26,182.41 269.34,184.56 267.33,185.64 273.22,188.61 268.92,189.81 272.07,191.72 272.7,193.35 272.89,196.17 273.35,198.59 279.03,199.38 279.06,201.46 279.69,204.5 282.5,210.46 269.46,212.03 282.5,217.39 277.72,218.96 281.53,221.24 272.79,222.8 275.09,221.24 267.5,222.8 282.5,222.8 282.5,222.02" fill="none" stroke="#3f8a24" stroke-width="0.9" stroke-linejoin="round" />
<circle cx="237.53" cy="144.87" r="0.7" fill="#3f8a24"/>
<circle cx="245.98" cy="153.33" r="0.7" fill="#3f8a24"/>
<circle cx="254.53" cy="161.58" r="0.7" fill="#3f8a24"/>
<circle cx="260.47" cy="169.27" r="0.7" fill="#3f8a24"/>
<circle cx="264.92" cy="177.84" r="0.7" fill="#3f8a24"/>
<circle cx="267.33" cy="185.64" r="0.7" fill="#3f8a24"/>
<circle cx="272.7" cy="193.35" r="0.7" fill="#3f8a24"/>
<circle cx="279.06" cy="201.46" r="0.7" fill="#3f8a24"/>
<circle cx="282.5" cy="217.39" r="0.7" fill="#3f8a24"/>
<circle cx="275.09" cy="221.24" r="0.7" fill="#3f8a24"/>
<polyline points="238.03,145.1 238.93,146.29 243.84,149.13 246.81,151.88 250.85,153.81 251.9,155.34 255.37,157.53 255.93,159.98 255.07,161.02 260.51,162.58 263.11,166.09 263.64,168.13 266.19,169.93 265.44,171.83 265.8,173.69 263.59,174.92 264.52,178.41 265.57,179.78 267.31,182.54 271.4,183.96 268.44,185.72 273.46,187.36 275.46,189.89 275.64,191.05 273.7,193.92 275.71,196 278.92,198.06 278.54,200.27 281.17,202.5 281.71,204.41 282.5,207.93 277.38,209.49 281.83,212.11 269.8,213.67 282.5,213.67 282.5,222.02" fill="none" stroke="#226318" stroke-width="0.9" stroke-linejoin="round" />
<circle cx="238.03" cy="145.1" r="1.3" fill="#226318"/>
<circle cx="250.85" cy="153.81" r="1.3" fill="#226318"/>
<circle cx="255.07" cy="161.02" r="1.3" fill="#226318"/>
<circle cx="266.19" cy="169.93" r="1.3" fill="#226318"/>
<circle cx="264.52" cy="178.41" r="1.3" fill="#226318"/>
<circle cx="268.44" cy="185.72" r="1.3" fill="#226318"/>
<circle cx="273.7" cy="193.92" r="1.3" fill="#226318"/>
<circle cx="281.17" cy="202.5" r="1.3" fill="#226318"/>
<circle cx="281.83" cy="212.11" r="1.3" fill="#226318"/>
<polyline points="167.71,256.7 169.45,256.7 169.45,259.48 184.66,256.7 184.66,262.06 194.67,256.7 194.67,261.69 198.69,256.7 198.69,261.91 205.41,256.7 205.41,258.53 210.8,256.7 210.8,260.59 220.38,256.7 220.38,258.89 231.12,256.7 231.12,262.05 244.99,256.7 244.99,260.22 281.02,287.47 281.02,292.81 282.3,295.8 282.3,332.55" fill="none" stroke="#e8f4d6" stroke-width="0.95" stroke-linejoin="round" />
<polyline points="177,256.7 177.66,256.74 177.66,258.58 178.15,256.7 178.15,259.42 179.8,256.7 179.8,258.78 182.63,256.7 182.63,259.79 183.55,256.7 183.55,259.78 189.16,256.7 189.16,260.84 193.92,257.02 193.92,260.72 202.71,258.27 202.71,261.18 224.53,260.73 224.53,265.87 231.09,261.09 231.09,266.24 235.64,261.81 235.64,266.96 236.33,262.35 236.33,266.1 249.01,268.81 249.01,270.28 251.15,268.03 251.15,273.75 261.74,273.65 261.74,277.75 266.28,277.86 266.28,281.18 280.89,285.78 280.89,288.12 281.33,287.11 281.33,288.42 282.3,287.98 282.3,332.55" fill="none" stroke="#fbeef4" stroke-width="0.95" stroke-linejoin="round" />
<polyline points="180.09,256.7 181.2,256.7 181.2,260.78 186.69,256.85 186.69,258.67 188.53,256.7 188.53,259.21 194.25,256.7 194.25,259.59 197.92,256.7 197.92,260.87 200.3,256.7 200.3,261.8 202.89,257.71 202.89,260.53 209.99,256.7 209.99,260.43 214.81,257.48 214.81,261.89 218.71,258.18 218.71,262.95 227.43,257.65 227.43,263.79 238.7,259.13 238.7,264.54 238.91,259.9 238.91,265.05 253.88,265.22 253.88,271.23 259.25,267.82 259.25,271.14 263.84,270.17 263.84,273.88 267.03,273.63 267.03,278.08 278.16,280.86 278.16,283.31 282.3,284.85 282.3,332.55" fill="none" stroke="#fbe3f0" stroke-width="0.95" stroke-linejoin="round" />
<polyline points="177,256.7 177.32,256.7 177.32,258.28 189,256.7 189,260.38 195.09,256.7 195.09,261.89 195.65,256.7 195.65,261.8 198.57,257.3 198.57,261.55 209.41,256.7 209.41,262.02 212.47,257.89 212.47,262.74 223.28,258.43 223.28,262.6 231.74,261.02 231.74,263.1 234.08,260.99 234.08,266.29 238.29,262.31 238.29,267.22 241.02,264.05 241.02,265.92 249.63,266.5 249.63,269.08 251.75,265.28 251.75,271.19 255.02,266.98 255.02,271.69 260.71,271.34 260.71,276 262.42,271.69 262.42,276.86 273.39,281.93 273.39,284.64 282.3,287.98 282.3,332.55" fill="none" stroke="#f7c8e2" stroke-width="0.95" stroke-linejoin="round" />
<polyline points="173.9,256.7 176.16,256.7 176.16,260.29 176.73,256.7 176.73,258.95 177.07,256.7 177.07,259.44 192.74,258.73 192.74,264.34 193.46,259.42 193.46,264.01 203.71,263.39 203.71,268.05 217.52,267.82 217.52,271.97 224.16,270.64 224.16,274.56 233.36,271.97 233.36,278.27 239.31,275.74 239.31,280.08 245.28,279.02 245.28,284.19 251.98,283.22 251.98,289.18 252.84,284.89 252.84,287.53 255.52,287.99 255.52,290.26 259.41,287.06 259.41,292.08 260.57,288.07 260.57,292.01 268.82,290.06 268.82,295.46 278.56,291.21 278.56,296.38 282.3,292.67 282.3,332.55" fill="none" stroke="#ee9ec9" stroke-width="0.95" stroke-linejoin="round" />
<path d="M173.9,255.25L175.35,257.79L172.45,257.79Z" fill="#ee9ec9"/>
<path d="M177.07,255.25L178.52,257.79L175.62,257.79Z" fill="#ee9ec9"/>
<path d="M193.46,262.56L194.91,265.09L192.01,265.09Z" fill="#ee9ec9"/>
<path d="M224.16,269.19L225.61,271.73L222.71,271.73Z" fill="#ee9ec9"/>
<path d="M239.31,278.63L240.76,281.16L237.86,281.16Z" fill="#ee9ec9"/>
<path d="M252.84,283.44L254.29,285.98L251.39,285.98Z" fill="#ee9ec9"/>
<path d="M259.41,290.63L260.86,293.17L257.96,293.17Z" fill="#ee9ec9"/>
<path d="M278.56,289.76L280.01,292.29L277.11,292.29Z" fill="#ee9ec9"/>
<polyline points="173.9,256.7 174.22,256.7 174.22,258.19 176.52,256.7 176.52,260.67 181.1,256.7 181.1,261.57 181.27,256.7 181.27,259.83 183.55,258.09 183.55,261.11 185.27,257.43 185.27,259.73 200.39,260.94 200.39,264.26 213.7,268.4 213.7,271.88 228.13,273.38 228.13,278.45 228.57,274.46 228.57,277.32 236.45,278.63 236.45,281.05 239.66,280.57 239.66,282.93 242.11,280.73 242.11,284.68 248.73,285.84 248.73,289.8 249.93,285.22 249.93,291.69 250.32,286.32 250.32,292.07 272.05,291.59 272.05,294.03 277.84,290.77 277.84,296.25 282.3,293.45 282.3,332.55" fill="none" stroke="#e064a6" stroke-width="0.95" stroke-linejoin="round" />
<path d="M173.9,255.25L175.35,257.79L172.45,257.79Z" fill="#e064a6"/>
<path d="M181.1,255.25L182.55,257.79L179.65,257.79Z" fill="#e064a6"/>
<path d="M183.55,259.66L185,262.2L182.1,262.2Z" fill="#e064a6"/>
<path d="M213.7,266.95L215.15,269.49L212.25,269.49Z" fill="#e064a6"/>
<path d="M228.57,275.87L230.02,278.41L227.12,278.41Z" fill="#e064a6"/>
<path d="M242.11,279.28L243.56,281.82L240.66,281.82Z" fill="#e064a6"/>
<path d="M249.93,290.24L251.38,292.77L248.48,292.77Z" fill="#e064a6"/>
<path d="M277.84,289.32L279.29,291.85L276.39,291.85Z" fill="#e064a6"/>
<polyline points="173.9,256.7 180.59,256.7 180.59,260.17 183.13,256.7 183.13,261.38 203.57,259.62 203.57,264.98 208.2,261.75 208.2,267.75 209.9,262.57 209.9,267.21 211.01,264.42 211.01,268.01 213.11,262.91 213.11,267.81 213.53,264.78 213.53,268.02 216.44,266.07 216.44,267.88 222.51,268.57 222.51,270.55 222.76,267.15 222.76,271.92 223.76,267.54 223.76,273.45 227.78,267.78 227.78,274.15 234.52,271.91 234.52,275.85 246.16,277.89 246.16,282.93 249.09,283.55 249.09,288.25 266.1,292.89 266.1,295.38 273.11,293.04 273.11,297.64 282.3,294.24 282.3,332.55" fill="none" stroke="#96045a" stroke-width="0.95" stroke-linejoin="round" />
<circle cx="173.9" cy="256.7" r="1.3" fill="#96045a"/>
<circle cx="203.57" cy="259.62" r="1.3" fill="#96045a"/>
<circle cx="209.9" cy="267.21" r="1.3" fill="#96045a"/>
<circle cx="213.53" cy="264.78" r="1.3" fill="#96045a"/>
<circle cx="222.51" cy="270.55" r="1.3" fill="#96045a"/>
<circle cx="227.78" cy="267.78" r="1.3" fill="#96045a"/>
<circle cx="246.16" cy="282.93" r="1.3" fill="#96045a"/>
<circle cx="273.11" cy="293.04" r="1.3" fill="#96045a"/>
<polyline points="167.71,256.7 251.32,257.48 252.87,257.48 252.87,264.52 257.52,264.52 257.52,272.34 262.16,272.34 262.16,281.72 265.26,281.72 265.26,291.89 269.91,291.89 269.91,299.71 273,299.71 273,309.09 277.65,309.09 277.65,313 282.3,313.79 282.3,332.55" fill="none" stroke="#c4e69c" stroke-width="0.95" stroke-linejoin="round" />
<path d="M166.61,256.7H168.81M167.71,255.6V257.8" stroke="#c4e69c" stroke-width="0.5"/>
<path d="M256.42,272.34H258.62M257.52,271.24V273.44" stroke="#c4e69c" stroke-width="0.5"/>
<path d="M268.81,291.89H271.01M269.91,290.79V292.99" stroke="#c4e69c" stroke-width="0.5"/>
<path d="M276.55,313H278.75M277.65,311.9V314.1" stroke="#c4e69c" stroke-width="0.5"/>
<polyline points="173.9,256.38 173.9,258.37 181.62,256.83 181.62,259.69 189.34,258.35 189.34,259.67 195.23,259.37 195.23,260.7 201.11,261.35 201.11,263.1 206.38,262.41 206.38,263.63 211.58,264.6 211.58,265.3 215.71,266.2 215.71,267.64 218.8,267.49 218.8,269.85 221.02,271 221.02,271.36 222.35,272.51 222.35,273.35 223.69,273.89 223.69,275.39 224.38,275.79 224.38,277.78 224.38,278.59 224.38,280.13 224.38,280.66 224.38,281.5 224.38,283.1 224.38,284.91 224.38,285 224.38,286.94 224.38,287.29 224.38,289 223.79,288.64 223.79,290.74 223.13,291.64 223.13,293.45 222.46,293.43 222.46,294.56 222.89,295.49 222.89,296.72 229.2,297.26 229.2,298.84 235.28,297.6 235.28,299.09 241.05,299.97 241.05,301.32 246.82,301.8 246.82,303.32 247.25,302.2 247.25,303.98 244.04,304.9 244.04,306.79 241.05,307.36 241.05,307.78 238.42,308.05 238.42,309.84 235.78,310.59 235.78,311.48 232.41,311.96 232.41,314.19 229.05,314.77 229.05,315.93 235.3,315.17 235.3,316.46 242.9,317.07 242.9,318.33 250.78,317.13 250.78,319.06 258.66,317.41 258.66,319.46 266.44,317.96 266.44,319.38 274.33,319.04 274.33,320.3 282.3,320.17 282.3,321.27 282.3,320.59 282.3,332.55" fill="none" stroke="#cc2382" stroke-width="0.95" stroke-linejoin="round" />
<path d="M173.9,254.73L175.55,256.38L173.9,258.03L172.25,256.38Z" fill="#cc2382"/>
<path d="M189.34,258.02L190.99,259.67L189.34,261.32L187.69,259.67Z" fill="#cc2382"/>
<path d="M206.38,260.76L208.03,262.41L206.38,264.06L204.73,262.41Z" fill="#cc2382"/>
<path d="M215.71,265.99L217.36,267.64L215.71,269.29L214.06,267.64Z" fill="#cc2382"/>
<path d="M222.35,270.86L224,272.51L222.35,274.16L220.7,272.51Z" fill="#cc2382"/>
<path d="M224.38,276.13L226.03,277.78L224.38,279.43L222.73,277.78Z" fill="#cc2382"/>
<path d="M224.38,281.45L226.03,283.1L224.38,284.75L222.73,283.1Z" fill="#cc2382"/>
<path d="M224.38,287.35L226.03,289L224.38,290.65L222.73,289Z" fill="#cc2382"/>
<path d="M222.46,291.78L224.11,293.43L222.46,295.08L220.81,293.43Z" fill="#cc2382"/>
<path d="M229.2,297.19L230.85,298.84L229.2,300.49L227.55,298.84Z" fill="#cc2382"/>
<path d="M246.82,300.15L248.47,301.8L246.82,303.45L245.17,301.8Z" fill="#cc2382"/>
<path d="M244.04,305.14L245.69,306.79L244.04,308.44L242.39,306.79Z" fill="#cc2382"/>
<path d="M235.78,308.94L237.43,310.59L235.78,312.24L234.13,310.59Z" fill="#cc2382"/>
<path d="M229.05,314.28L230.7,315.93L229.05,317.58L227.4,315.93Z" fill="#cc2382"/>
<path d="M250.78,315.48L252.43,317.13L250.78,318.78L249.13,317.13Z" fill="#cc2382"/>
<path d="M266.44,317.73L268.09,319.38L266.44,321.03L264.79,319.38Z" fill="#cc2382"/>
<path d="M282.3,318.94L283.94,320.59L282.3,322.24L280.65,320.59Z" fill="#cc2382"/>
<polyline points="167.71,256.7 266.81,257.09 274.55,258.26 274.55,264.52 279.2,266.08 279.2,273.9 282.3,280.16 282.3,332.55" fill="none" stroke="#9acd61" stroke-width="0.95" stroke-linejoin="round" />
<path d="M167.71,255.05L169.36,256.7L167.71,258.35L166.06,256.7Z" fill="#9acd61"/>
<path d="M279.2,272.25L280.85,273.9L279.2,275.55L277.55,273.9Z" fill="#9acd61"/>
<polyline points="167.71,256.7 269.91,257.48 273,258.65 273,268.43 279.2,270.78 279.2,286.42 282.3,287.98 282.3,332.55" fill="none" stroke="#6aad38" stroke-width="0.95" stroke-linejoin="round" />
<polyline points="167.71,256.7 269.91,257.87 274.55,259.05 274.55,273.9 279.2,276.25 279.2,291.89 282.3,295.8 282.3,332.55" fill="none" stroke="#3f8a24" stroke-width="0.95" stroke-linejoin="round" />
<circle cx="167.71" cy="256.7" r="0.7" fill="#3f8a24"/>
<circle cx="279.2" cy="291.89" r="0.7" fill="#3f8a24"/>
<polyline points="167.71,257.09 266.81,257.48 268.36,259.05 268.36,272.34 274.55,273.9 274.55,283.29 279.2,284.85 279.2,291.11 282.3,295.8 282.3,332.55" fill="none" stroke="#226318" stroke-width="0.95" stroke-linejoin="round" />
<circle cx="167.71" cy="257.09" r="1.3" fill="#226318"/>
<circle cx="274.55" cy="283.29" r="1.3" fill="#226318"/>
<rect x="102.8" y="49.7" width="44.8" height="62.6" rx="0.8" fill="#ffffff" fill-opacity="0.85" stroke="#dddddd" stroke-width="0.4"/>
<line x1="104.4" y1="53.2" x2="111.6" y2="53.2" stroke="#7a0a1c" stroke-width="0.8" />
<circle cx="108" cy="53.2" r="1.62" fill="#7a0a1c"/>
<text x="113.4" y="54.35" font-size="3.25" text-anchor="start" fill="#444444" >AlexNet (0.806)</text>
<line x1="104.4" y1="57.9" x2="111.6" y2="57.9" stroke="#c8172a" stroke-width="0.8" />
<path d="M108,55.84L110.06,57.9L108,59.96L105.94,57.9Z" fill="#c8172a"/>
<text x="113.4" y="59.05" font-size="3.25" text-anchor="start" fill="#444444" >BiRNN (0.820)</text>
<line x1="104.4" y1="62.6" x2="111.6" y2="62.6" stroke="#e2483c" stroke-width="0.8" />
<path d="M108,60.79L109.81,63.96L106.19,63.96Z" fill="#e2483c"/>
<text x="113.4" y="63.75" font-size="3.25" text-anchor="start" fill="#444444" >RNN (0.851)</text>
<line x1="104.4" y1="67.3" x2="111.6" y2="67.3" stroke="#f07a5a" stroke-width="0.8" />
<path d="M108,65.49L109.81,68.66L106.19,68.66Z" fill="#f07a5a"/>
<text x="113.4" y="68.45" font-size="3.25" text-anchor="start" fill="#444444" >Seq2Seq (0.821)</text>
<line x1="104.4" y1="72" x2="111.6" y2="72" stroke="#f7a583" stroke-width="0.8" />
<text x="113.4" y="73.15" font-size="3.25" text-anchor="start" fill="#444444" >CNN (0.886)</text>
<line x1="104.4" y1="76.7" x2="111.6" y2="76.7" stroke="#fbc9ad" stroke-width="0.8" />
<text x="113.4" y="77.85" font-size="3.25" text-anchor="start" fill="#444444" >ConvMixer64 (0.901)</text>
<line x1="104.4" y1="81.4" x2="111.6" y2="81.4" stroke="#fcd9c6" stroke-width="0.8" />
<text x="113.4" y="82.55" font-size="3.25" text-anchor="start" fill="#444444" >DSConv (0.849)</text>
<line x1="104.4" y1="86.1" x2="111.6" y2="86.1" stroke="#e2e2e2" stroke-width="0.8" />
<text x="113.4" y="87.25" font-size="3.25" text-anchor="start" fill="#444444" >LSTMCNN (0.976)</text>
<line x1="104.4" y1="90.8" x2="111.6" y2="90.8" stroke="#c4c4c4" stroke-width="0.8" />
<path d="M106.62,90.8H109.38M108,89.42V92.17" stroke="#c4c4c4" stroke-width="0.5"/>
<text x="113.4" y="91.95" font-size="3.25" text-anchor="start" fill="#444444" >MobileNetV2 (0.956)</text>
<line x1="104.4" y1="95.5" x2="111.6" y2="95.5" stroke="#a4a4a4" stroke-width="0.8" />
<path d="M108,93.44L110.06,95.5L108,97.56L105.94,95.5Z" fill="#a4a4a4"/>
<text x="113.4" y="96.65" font-size="3.25" text-anchor="start" fill="#444444" >ResNet18 (1.000)</text>
<line x1="104.4" y1="100.2" x2="111.6" y2="100.2" stroke="#7a7a7a" stroke-width="0.8" />
<text x="113.4" y="101.35" font-size="3.25" text-anchor="start" fill="#444444" >ResNet50 (1.000)</text>
<line x1="104.4" y1="104.9" x2="111.6" y2="104.9" stroke="#464646" stroke-width="0.8" />
<circle cx="108" cy="104.9" r="0.88" fill="#464646"/>
<text x="113.4" y="106.05" font-size="3.25" text-anchor="start" fill="#444444" >SCAResNet18 (1.000)</text>
<line x1="104.4" y1="109.6" x2="111.6" y2="109.6" stroke="#1e1e1e" stroke-width="0.8" />
<circle cx="108" cy="109.6" r="1.62" fill="#1e1e1e"/>
<text x="113.4" y="110.75" font-size="3.25" text-anchor="start" fill="#444444" >DeepsmirUD (0.999)</text>
<rect x="102.8" y="161.8" width="44.8" height="62.6" rx="0.8" fill="#ffffff" fill-opacity="0.85" stroke="#dddddd" stroke-width="0.4"/>
<line x1="104.4" y1="165.3" x2="111.6" y2="165.3" stroke="#7a0a1c" stroke-width="0.8" />
<circle cx="108" cy="165.3" r="1.62" fill="#7a0a1c"/>
<text x="113.4" y="166.45" font-size="3.25" text-anchor="start" fill="#444444" >AlexNet (0.779)</text>
<line x1="104.4" y1="170" x2="111.6" y2="170" stroke="#c8172a" stroke-width="0.8" />
<path d="M108,167.94L110.06,170L108,172.06L105.94,170Z" fill="#c8172a"/>
<text x="113.4" y="171.15" font-size="3.25" text-anchor="start" fill="#444444" >BiRNN (0.790)</text>
<line x1="104.4" y1="174.7" x2="111.6" y2="174.7" stroke="#e2483c" stroke-width="0.8" />
<path d="M108,172.89L109.81,176.06L106.19,176.06Z" fill="#e2483c"/>
<text x="113.4" y="175.85" font-size="3.25" text-anchor="start" fill="#444444" >RNN (0.782)</text>
<line x1="104.4" y1="179.4" x2="111.6" y2="179.4" stroke="#f07a5a" stroke-width="0.8" />
<path d="M108,177.59L109.81,180.76L106.19,180.76Z" fill="#f07a5a"/>
<text x="113.4" y="180.55" font-size="3.25" text-anchor="start" fill="#444444" >Seq2Seq (0.790)</text>
<line x1="104.4" y1="184.1" x2="111.6" y2="184.1" stroke="#f7a583" stroke-width="0.8" />
<text x="113.4" y="185.25" font-size="3.25" text-anchor="start" fill="#444444" >CNN (0.796)</text>
<line x1="104.4" y1="188.8" x2="111.6" y2="188.8" stroke="#fbc9ad" stroke-width="0.8" />
<text x="113.4" y="189.95" font-size="3.25" text-anchor="start" fill="#444444" >ConvMixer64 (0.804)</text>
<line x1="104.4" y1="193.5" x2="111.6" y2="193.5" stroke="#fcd9c6" stroke-width="0.8" />
<text x="113.4" y="194.65" font-size="3.25" text-anchor="start" fill="#444444" >DSConv (0.791)</text>
<line x1="104.4" y1="198.2" x2="111.6" y2="198.2" stroke="#e2e2e2" stroke-width="0.8" />
<text x="113.4" y="199.35" font-size="3.25" text-anchor="start" fill="#444444" >LSTMCNN (0.822)</text>
<line x1="104.4" y1="202.9" x2="111.6" y2="202.9" stroke="#c4c4c4" stroke-width="0.8" />
<path d="M106.62,202.9H109.38M108,201.53V204.28" stroke="#c4c4c4" stroke-width="0.5"/>
<text x="113.4" y="204.05" font-size="3.25" text-anchor="start" fill="#444444" >MobileNetV2 (0.791)</text>
<line x1="104.4" y1="207.6" x2="111.6" y2="207.6" stroke="#a4a4a4" stroke-width="0.8" />
<path d="M108,205.54L110.06,207.6L108,209.66L105.94,207.6Z" fill="#a4a4a4"/>
<text x="113.4" y="208.75" font-size="3.25" text-anchor="start" fill="#444444" >ResNet18 (0.789)</text>
<line x1="104.4" y1="212.3" x2="111.6" y2="212.3" stroke="#7a7a7a" stroke-width="0.8" />
<text x="113.4" y="213.45" font-size="3.25" text-anchor="start" fill="#444444" >ResNet50 (0.804)</text>
<line x1="104.4" y1="217" x2="111.6" y2="217" stroke="#464646" stroke-width="0.8" />
<circle cx="108" cy="217" r="0.88" fill="#464646"/>
<text x="113.4" y="218.15" font-size="3.25" text-anchor="start" fill="#444444" >SCAResNet18 (0.792)</text>
<line x1="104.4" y1="221.7" x2="111.6" y2="221.7" stroke="#1e1e1e" stroke-width="0.8" />
<circle cx="108" cy="221.7" r="1.62" fill="#1e1e1e"/>
<text x="113.4" y="222.85" font-size="3.25" text-anchor="start" fill="#444444" >DeepsmirUD (0.840)</text>
<rect x="102.8" y="273.9" width="44.8" height="62.6" rx="0.8" fill="#ffffff" fill-opacity="0.85" stroke="#dddddd" stroke-width="0.4"/>
<line x1="104.4" y1="277.4" x2="111.6" y2="277.4" stroke="#7a0a1c" stroke-width="0.8" />
<circle cx="108" cy="277.4" r="1.62" fill="#7a0a1c"/>
<text x="113.4" y="278.55" font-size="3.25" text-anchor="start" fill="#444444" >AlexNet (0.881)</text>
<line x1="104.4" y1="282.1" x2="111.6" y2="282.1" stroke="#c8172a" stroke-width="0.8" />
<path d="M108,280.04L110.06,282.1L108,284.16L105.94,282.1Z" fill="#c8172a"/>
<text x="113.4" y="283.25" font-size="3.25" text-anchor="start" fill="#444444" >BiRNN (0.802)</text>
<line x1="104.4" y1="286.8" x2="111.6" y2="286.8" stroke="#e2483c" stroke-width="0.8" />
<path d="M108,284.99L109.81,288.16L106.19,288.16Z" fill="#e2483c"/>
<text x="113.4" y="287.95" font-size="3.25" text-anchor="start" fill="#444444" >RNN (0.882)</text>
<line x1="104.4" y1="291.5" x2="111.6" y2="291.5" stroke="#f07a5a" stroke-width="0.8" />
<path d="M108,289.69L109.81,292.86L106.19,292.86Z" fill="#f07a5a"/>
<text x="113.4" y="292.65" font-size="3.25" text-anchor="start" fill="#444444" >Seq2Seq (0.870)</text>
<line x1="104.4" y1="296.2" x2="111.6" y2="296.2" stroke="#f7a583" stroke-width="0.8" />
<text x="113.4" y="297.35" font-size="3.25" text-anchor="start" fill="#444444" >CNN (0.928)</text>
<line x1="104.4" y1="300.9" x2="111.6" y2="300.9" stroke="#fbc9ad" stroke-width="0.8" />
<text x="113.4" y="302.05" font-size="3.25" text-anchor="start" fill="#444444" >ConvMixer64 (0.925)</text>
<line x1="104.4" y1="305.6" x2="111.6" y2="305.6" stroke="#fcd9c6" stroke-width="0.8" />
<text x="113.4" y="306.75" font-size="3.25" text-anchor="start" fill="#444444" >DSConv (0.910)</text>
<line x1="104.4" y1="310.3" x2="111.6" y2="310.3" stroke="#e2e2e2" stroke-width="0.8" />
<text x="113.4" y="311.45" font-size="3.25" text-anchor="start" fill="#444444" >LSTMCNN (0.980)</text>
<line x1="104.4" y1="315" x2="111.6" y2="315" stroke="#c4c4c4" stroke-width="0.8" />
<path d="M106.62,315H109.38M108,313.62V316.38" stroke="#c4c4c4" stroke-width="0.5"/>
<text x="113.4" y="316.15" font-size="3.25" text-anchor="start" fill="#444444" >MobileNetV2 (0.935)</text>
<line x1="104.4" y1="319.7" x2="111.6" y2="319.7" stroke="#a4a4a4" stroke-width="0.8" />
<path d="M108,317.64L110.06,319.7L108,321.76L105.94,319.7Z" fill="#a4a4a4"/>
<text x="113.4" y="320.85" font-size="3.25" text-anchor="start" fill="#444444" >ResNet18 (0.987)</text>
<line x1="104.4" y1="324.4" x2="111.6" y2="324.4" stroke="#7a7a7a" stroke-width="0.8" />
<text x="113.4" y="325.55" font-size="3.25" text-anchor="start" fill="#444444" >ResNet50 (0.984)</text>
<line x1="104.4" y1="329.1" x2="111.6" y2="329.1" stroke="#464646" stroke-width="0.8" />
<circle cx="108" cy="329.1" r="0.88" fill="#464646"/>
<text x="113.4" y="330.25" font-size="3.25" text-anchor="start" fill="#444444" >SCAResNet18 (0.987)</text>
<line x1="104.4" y1="333.8" x2="111.6" y2="333.8" stroke="#1e1e1e" stroke-width="0.8" />
<circle cx="108" cy="333.8" r="1.62" fill="#1e1e1e"/>
<text x="113.4" y="334.95" font-size="3.25" text-anchor="start" fill="#444444" >DeepsmirUD (0.988)</text>
<rect x="162.7" y="50.6" width="44.8" height="61.7" rx="0.8" fill="#ffffff" fill-opacity="0.85" stroke="#dddddd" stroke-width="0.4"/>
<line x1="164.3" y1="54.1" x2="171.5" y2="54.1" stroke="#96045a" stroke-width="0.8" />
<circle cx="167.9" cy="54.1" r="1.62" fill="#96045a"/>
<text x="173.3" y="55.25" font-size="3.25" text-anchor="start" fill="#444444" >AlexNet (0.858)</text>
<line x1="164.3" y1="58.73" x2="171.5" y2="58.73" stroke="#cc2382" stroke-width="0.8" />
<path d="M167.9,56.66L169.96,58.73L167.9,60.79L165.84,58.73Z" fill="#cc2382"/>
<text x="173.3" y="59.88" font-size="3.25" text-anchor="start" fill="#444444" >BiRNN (0.862)</text>
<line x1="164.3" y1="63.35" x2="171.5" y2="63.35" stroke="#e064a6" stroke-width="0.8" />
<path d="M167.9,61.54L169.71,64.71L166.09,64.71Z" fill="#e064a6"/>
<text x="173.3" y="64.5" font-size="3.25" text-anchor="start" fill="#444444" >RNN (0.890)</text>
<line x1="164.3" y1="67.97" x2="171.5" y2="67.97" stroke="#ee9ec9" stroke-width="0.8" />
<path d="M167.9,66.16L169.71,69.33L166.09,69.33Z" fill="#ee9ec9"/>
<text x="173.3" y="69.12" font-size="3.25" text-anchor="start" fill="#444444" >Seq2Seq (0.866)</text>
<line x1="164.3" y1="72.6" x2="171.5" y2="72.6" stroke="#f7c8e2" stroke-width="0.8" />
<text x="173.3" y="73.75" font-size="3.25" text-anchor="start" fill="#444444" >CNN (0.928)</text>
<line x1="164.3" y1="77.22" x2="171.5" y2="77.22" stroke="#fbe3f0" stroke-width="0.8" />
<text x="173.3" y="78.38" font-size="3.25" text-anchor="start" fill="#444444" >ConvMixer64 (0.923)</text>
<line x1="164.3" y1="81.85" x2="171.5" y2="81.85" stroke="#fbeef4" stroke-width="0.8" />
<text x="173.3" y="83" font-size="3.25" text-anchor="start" fill="#444444" >DSConv (0.888)</text>
<line x1="164.3" y1="86.47" x2="171.5" y2="86.47" stroke="#e8f4d6" stroke-width="0.8" />
<text x="173.3" y="87.62" font-size="3.25" text-anchor="start" fill="#444444" >LSTMCNN (0.984)</text>
<line x1="164.3" y1="91.1" x2="171.5" y2="91.1" stroke="#c4e69c" stroke-width="0.8" />
<path d="M166.52,91.1H169.27M167.9,89.72V92.47" stroke="#c4e69c" stroke-width="0.5"/>
<text x="173.3" y="92.25" font-size="3.25" text-anchor="start" fill="#444444" >MobileNetV2 (0.968)</text>
<line x1="164.3" y1="95.72" x2="171.5" y2="95.72" stroke="#9acd61" stroke-width="0.8" />
<path d="M167.9,93.66L169.96,95.72L167.9,97.79L165.84,95.72Z" fill="#9acd61"/>
<text x="173.3" y="96.88" font-size="3.25" text-anchor="start" fill="#444444" >ResNet18 (1.000)</text>
<line x1="164.3" y1="100.35" x2="171.5" y2="100.35" stroke="#6aad38" stroke-width="0.8" />
<text x="173.3" y="101.5" font-size="3.25" text-anchor="start" fill="#444444" >ResNet50 (1.000)</text>
<line x1="164.3" y1="104.97" x2="171.5" y2="104.97" stroke="#3f8a24" stroke-width="0.8" />
<circle cx="167.9" cy="104.97" r="0.88" fill="#3f8a24"/>
<text x="173.3" y="106.12" font-size="3.25" text-anchor="start" fill="#444444" >SCAResNet18 (1.000)</text>
<line x1="164.3" y1="109.6" x2="171.5" y2="109.6" stroke="#226318" stroke-width="0.8" />
<circle cx="167.9" cy="109.6" r="1.62" fill="#226318"/>
<text x="173.3" y="110.75" font-size="3.25" text-anchor="start" fill="#444444" >DeepsmirUD (0.999)</text>
<rect x="162.6" y="141.9" width="42.6" height="61.7" rx="0.8" fill="#ffffff" fill-opacity="0.85" stroke="#dddddd" stroke-width="0.4"/>
<line x1="164.2" y1="145.4" x2="171.4" y2="145.4" stroke="#96045a" stroke-width="0.8" />
<circle cx="167.8" cy="145.4" r="1.62" fill="#96045a"/>
<text x="173.2" y="146.55" font-size="3.25" text-anchor="start" fill="#444444" >AlexNet (0.827)</text>
<line x1="164.2" y1="150.03" x2="171.4" y2="150.03" stroke="#cc2382" stroke-width="0.8" />
<path d="M167.8,147.96L169.86,150.03L167.8,152.09L165.74,150.03Z" fill="#cc2382"/>
<text x="173.2" y="151.18" font-size="3.25" text-anchor="start" fill="#444444" >BiRNN (0.826)</text>
<line x1="164.2" y1="154.65" x2="171.4" y2="154.65" stroke="#e064a6" stroke-width="0.8" />
<path d="M167.8,152.84L169.61,156.01L165.99,156.01Z" fill="#e064a6"/>
<text x="173.2" y="155.8" font-size="3.25" text-anchor="start" fill="#444444" >RNN (0.817)</text>
<line x1="164.2" y1="159.28" x2="171.4" y2="159.28" stroke="#ee9ec9" stroke-width="0.8" />
<path d="M167.8,157.46L169.61,160.63L165.99,160.63Z" fill="#ee9ec9"/>
<text x="173.2" y="160.43" font-size="3.25" text-anchor="start" fill="#444444" >Seq2Seq (0.824)</text>
<line x1="164.2" y1="163.9" x2="171.4" y2="163.9" stroke="#f7c8e2" stroke-width="0.8" />
<text x="173.2" y="165.05" font-size="3.25" text-anchor="start" fill="#444444" >CNN (0.829)</text>
<line x1="164.2" y1="168.53" x2="171.4" y2="168.53" stroke="#fbe3f0" stroke-width="0.8" />
<text x="173.2" y="169.68" font-size="3.25" text-anchor="start" fill="#444444" >ConvMixer64 (0.819)</text>
<line x1="164.2" y1="173.15" x2="171.4" y2="173.15" stroke="#fbeef4" stroke-width="0.8" />
<text x="173.2" y="174.3" font-size="3.25" text-anchor="start" fill="#444444" >DSConv (0.826)</text>
<line x1="164.2" y1="177.78" x2="171.4" y2="177.78" stroke="#e8f4d6" stroke-width="0.8" />
<text x="173.2" y="178.93" font-size="3.25" text-anchor="start" fill="#444444" >LSTMCNN (0.848)</text>
<line x1="164.2" y1="182.4" x2="171.4" y2="182.4" stroke="#c4e69c" stroke-width="0.8" />
<path d="M166.42,182.4H169.17M167.8,181.03V183.78" stroke="#c4e69c" stroke-width="0.5"/>
<text x="173.2" y="183.55" font-size="3.25" text-anchor="start" fill="#444444" >MobileNetV2 (0.810)</text>
<line x1="164.2" y1="187.03" x2="171.4" y2="187.03" stroke="#9acd61" stroke-width="0.8" />
<path d="M167.8,184.96L169.86,187.03L167.8,189.09L165.74,187.03Z" fill="#9acd61"/>
<text x="173.2" y="188.18" font-size="3.25" text-anchor="start" fill="#444444" >ResNet18 (0.836)</text>
<line x1="164.2" y1="191.65" x2="171.4" y2="191.65" stroke="#6aad38" stroke-width="0.8" />
<text x="173.2" y="192.8" font-size="3.25" text-anchor="start" fill="#444444" >ResNet50 (0.820)</text>
<line x1="164.2" y1="196.28" x2="171.4" y2="196.28" stroke="#3f8a24" stroke-width="0.8" />
<circle cx="167.8" cy="196.28" r="0.88" fill="#3f8a24"/>
<text x="173.2" y="197.43" font-size="3.25" text-anchor="start" fill="#444444" >SCAResNet18 (0.821)</text>
<line x1="164.2" y1="200.9" x2="171.4" y2="200.9" stroke="#226318" stroke-width="0.8" />
<circle cx="167.8" cy="200.9" r="1.62" fill="#226318"/>
<text x="173.2" y="202.05" font-size="3.25" text-anchor="start" fill="#444444" >DeepsmirUD (0.866)</text>
<rect x="162.7" y="275.2" width="44.2" height="62" rx="0.8" fill="#ffffff" fill-opacity="0.85" stroke="#dddddd" stroke-width="0.4"/>
<line x1="164.3" y1="278.7" x2="171.5" y2="278.7" stroke="#96045a" stroke-width="0.8" />
<circle cx="167.9" cy="278.7" r="1.62" fill="#96045a"/>
<text x="173.3" y="279.85" font-size="3.25" text-anchor="start" fill="#444444" >AlexNet (0.929)</text>
<line x1="164.3" y1="283.35" x2="171.5" y2="283.35" stroke="#cc2382" stroke-width="0.8" />
<path d="M167.9,281.29L169.96,283.35L167.9,285.41L165.84,283.35Z" fill="#cc2382"/>
<text x="173.3" y="284.5" font-size="3.25" text-anchor="start" fill="#444444" >BiRNN (0.854)</text>
<line x1="164.3" y1="288" x2="171.5" y2="288" stroke="#e064a6" stroke-width="0.8" />
<path d="M167.9,286.19L169.71,289.36L166.09,289.36Z" fill="#e064a6"/>
<text x="173.3" y="289.15" font-size="3.25" text-anchor="start" fill="#444444" >RNN (0.929)</text>
<line x1="164.3" y1="292.65" x2="171.5" y2="292.65" stroke="#ee9ec9" stroke-width="0.8" />
<path d="M167.9,290.84L169.71,294.01L166.09,294.01Z" fill="#ee9ec9"/>
<text x="173.3" y="293.8" font-size="3.25" text-anchor="start" fill="#444444" >Seq2Seq (0.926)</text>
<line x1="164.3" y1="297.3" x2="171.5" y2="297.3" stroke="#f7c8e2" stroke-width="0.8" />
<text x="173.3" y="298.45" font-size="3.25" text-anchor="start" fill="#444444" >CNN (0.957)</text>
<line x1="164.3" y1="301.95" x2="171.5" y2="301.95" stroke="#fbe3f0" stroke-width="0.8" />
<text x="173.3" y="303.1" font-size="3.25" text-anchor="start" fill="#444444" >ConvMixer64 (0.956)</text>
<line x1="164.3" y1="306.6" x2="171.5" y2="306.6" stroke="#fbeef4" stroke-width="0.8" />
<text x="173.3" y="307.75" font-size="3.25" text-anchor="start" fill="#444444" >DSConv (0.947)</text>
<line x1="164.3" y1="311.25" x2="171.5" y2="311.25" stroke="#e8f4d6" stroke-width="0.8" />
<text x="173.3" y="312.4" font-size="3.25" text-anchor="start" fill="#444444" >LSTMCNN (0.988)</text>
<line x1="164.3" y1="315.9" x2="171.5" y2="315.9" stroke="#c4e69c" stroke-width="0.8" />
<path d="M166.52,315.9H169.27M167.9,314.52V317.27" stroke="#c4e69c" stroke-width="0.5"/>
<text x="173.3" y="317.05" font-size="3.25" text-anchor="start" fill="#444444" >MobileNetV2 (0.954)</text>
<line x1="164.3" y1="320.55" x2="171.5" y2="320.55" stroke="#9acd61" stroke-width="0.8" />
<path d="M167.9,318.49L169.96,320.55L167.9,322.61L165.84,320.55Z" fill="#9acd61"/>
<text x="173.3" y="321.7" font-size="3.25" text-anchor="start" fill="#444444" >ResNet18 (0.998)</text>
<line x1="164.3" y1="325.2" x2="171.5" y2="325.2" stroke="#6aad38" stroke-width="0.8" />
<text x="173.3" y="326.35" font-size="3.25" text-anchor="start" fill="#444444" >ResNet50 (0.993)</text>
<line x1="164.3" y1="329.85" x2="171.5" y2="329.85" stroke="#3f8a24" stroke-width="0.8" />
<circle cx="167.9" cy="329.85" r="0.88" fill="#3f8a24"/>
<text x="173.3" y="331" font-size="3.25" text-anchor="start" fill="#444444" >SCAResNet18 (0.992)</text>
<line x1="164.3" y1="334.5" x2="171.5" y2="334.5" stroke="#226318" stroke-width="0.8" />
<circle cx="167.9" cy="334.5" r="1.62" fill="#226318"/>
<text x="173.3" y="335.65" font-size="3.25" text-anchor="start" fill="#444444" >DeepsmirUD (0.993)</text>
<rect x="335.5" y="42.5" width="88.4" height="4.1" fill="#549e75"/>
<rect x="335.5" y="47.02" width="59.6" height="4.1" fill="#ffccd5"/>
<rect x="335.5" y="51.54" width="91.9" height="4.1" fill="#ff5e5e"/>
<rect x="335.5" y="56.06" width="90.2" height="4.1" fill="#bbbbbb"/>
<line x1="333.2" y1="44.62" x2="335.5" y2="44.62" stroke="#555555" stroke-width="0.6" />
<text x="331.4" y="46.62" font-size="5.65" text-anchor="end" fill="#333333" stroke="#333333" stroke-width="0.14" >DeepsmirUD</text>
<rect x="335.5" y="65.77" width="83.9" height="4.1" fill="#549e75"/>
<rect x="335.5" y="70.29" width="49.7" height="4.1" fill="#ffccd5"/>
<rect x="335.5" y="74.81" width="88.4" height="4.1" fill="#ff5e5e"/>
<rect x="335.5" y="79.33" width="85.2" height="4.1" fill="#bbbbbb"/>
<line x1="333.2" y1="67.89" x2="335.5" y2="67.89" stroke="#555555" stroke-width="0.6" />
<text x="331.4" y="69.89" font-size="5.65" text-anchor="end" fill="#333333" stroke="#333333" stroke-width="0.14" >SCAResNet18</text>
<rect x="335.5" y="89.04" width="84.7" height="4.1" fill="#549e75"/>
<rect x="335.5" y="93.56" width="52.4" height="4.1" fill="#ffccd5"/>
<rect x="335.5" y="98.08" width="88.1" height="4.1" fill="#ff5e5e"/>
<rect x="335.5" y="102.6" width="87.7" height="4.1" fill="#bbbbbb"/>
<line x1="333.2" y1="91.16" x2="335.5" y2="91.16" stroke="#555555" stroke-width="0.6" />
<text x="331.4" y="93.16" font-size="5.65" text-anchor="end" fill="#333333" stroke="#333333" stroke-width="0.14" >ResNet50</text>
<rect x="335.5" y="112.31" width="81.4" height="4.1" fill="#549e75"/>
<rect x="335.5" y="116.83" width="46.7" height="4.1" fill="#ffccd5"/>
<rect x="335.5" y="121.35" width="83.5" height="4.1" fill="#ff5e5e"/>
<rect x="335.5" y="125.87" width="87.7" height="4.1" fill="#bbbbbb"/>
<line x1="333.2" y1="114.43" x2="335.5" y2="114.43" stroke="#555555" stroke-width="0.6" />
<text x="331.4" y="116.43" font-size="5.65" text-anchor="end" fill="#333333" stroke="#333333" stroke-width="0.14" >ResNet18</text>
<rect x="335.5" y="135.58" width="83.7" height="4.1" fill="#549e75"/>
<rect x="335.5" y="140.1" width="52" height="4.1" fill="#ffccd5"/>
<rect x="335.5" y="144.62" width="85.8" height="4.1" fill="#ff5e5e"/>
<rect x="335.5" y="149.14" width="90.3" height="4.1" fill="#bbbbbb"/>
<line x1="333.2" y1="137.7" x2="335.5" y2="137.7" stroke="#555555" stroke-width="0.6" />
<text x="331.4" y="139.7" font-size="5.65" text-anchor="end" fill="#333333" stroke="#333333" stroke-width="0.14" >MobileNetV2</text>
<rect x="335.5" y="158.85" width="87.7" height="4.1" fill="#549e75"/>
<rect x="335.5" y="163.37" width="58.7" height="4.1" fill="#ffccd5"/>
<rect x="335.5" y="167.89" width="92.2" height="4.1" fill="#ff5e5e"/>
<rect x="335.5" y="172.41" width="88.1" height="4.1" fill="#bbbbbb"/>
<line x1="333.2" y1="160.97" x2="335.5" y2="160.97" stroke="#555555" stroke-width="0.6" />
<text x="331.4" y="162.97" font-size="5.65" text-anchor="end" fill="#333333" stroke="#333333" stroke-width="0.14" >LSTMCNN</text>
<rect x="335.5" y="182.12" width="79.5" height="4.1" fill="#549e75"/>
<rect x="335.5" y="186.64" width="41.2" height="4.1" fill="#ffccd5"/>
<rect x="335.5" y="191.16" width="87.5" height="4.1" fill="#ff5e5e"/>
<rect x="335.5" y="195.68" width="78" height="4.1" fill="#bbbbbb"/>
<line x1="333.2" y1="184.24" x2="335.5" y2="184.24" stroke="#555555" stroke-width="0.6" />
<text x="331.4" y="186.24" font-size="5.65" text-anchor="end" fill="#333333" stroke="#333333" stroke-width="0.14" >DSConv</text>
<rect x="335.5" y="205.39" width="79.9" height="4.1" fill="#549e75"/>
<rect x="335.5" y="209.91" width="50.1" height="4.1" fill="#ffccd5"/>
<rect x="335.5" y="214.43" width="76.7" height="4.1" fill="#ff5e5e"/>
<rect x="335.5" y="218.95" width="98.4" height="4.1" fill="#bbbbbb"/>
<line x1="333.2" y1="207.51" x2="335.5" y2="207.51" stroke="#555555" stroke-width="0.6" />
<text x="331.4" y="209.51" font-size="5.65" text-anchor="end" fill="#333333" stroke="#333333" stroke-width="0.14" >ConvMixer64</text>
<rect x="335.5" y="228.66" width="83.7" height="4.1" fill="#549e75"/>
<rect x="335.5" y="233.18" width="49.7" height="4.1" fill="#ffccd5"/>
<rect x="335.5" y="237.7" width="88.9" height="4.1" fill="#ff5e5e"/>
<rect x="335.5" y="242.22" width="84.2" height="4.1" fill="#bbbbbb"/>
<line x1="333.2" y1="230.78" x2="335.5" y2="230.78" stroke="#555555" stroke-width="0.6" />
<text x="331.4" y="232.78" font-size="5.65" text-anchor="end" fill="#333333" stroke="#333333" stroke-width="0.14" >CNN</text>
<rect x="335.5" y="251.93" width="80.9" height="4.1" fill="#549e75"/>
<rect x="335.5" y="256.45" width="44" height="4.1" fill="#ffccd5"/>
<rect x="335.5" y="260.97" width="86.1" height="4.1" fill="#ff5e5e"/>
<rect x="335.5" y="265.49" width="82.6" height="4.1" fill="#bbbbbb"/>
<line x1="333.2" y1="254.05" x2="335.5" y2="254.05" stroke="#555555" stroke-width="0.6" />
<text x="331.4" y="256.05" font-size="5.65" text-anchor="end" fill="#333333" stroke="#333333" stroke-width="0.14" >Seq2Seq</text>
<rect x="335.5" y="275.2" width="82.4" height="4.1" fill="#549e75"/>
<rect x="335.5" y="279.72" width="47.3" height="4.1" fill="#ffccd5"/>
<rect x="335.5" y="284.24" width="87" height="4.1" fill="#ff5e5e"/>
<rect x="335.5" y="288.76" width="84.6" height="4.1" fill="#bbbbbb"/>
<line x1="333.2" y1="277.32" x2="335.5" y2="277.32" stroke="#555555" stroke-width="0.6" />
<text x="331.4" y="279.32" font-size="5.65" text-anchor="end" fill="#333333" stroke="#333333" stroke-width="0.14" >RNN</text>
<rect x="335.5" y="298.47" width="80.2" height="4.1" fill="#549e75"/>
<rect x="335.5" y="302.99" width="42" height="4.1" fill="#ffccd5"/>
<rect x="335.5" y="307.51" width="85.2" height="4.1" fill="#ff5e5e"/>
<rect x="335.5" y="312.03" width="82" height="4.1" fill="#bbbbbb"/>
<line x1="333.2" y1="300.59" x2="335.5" y2="300.59" stroke="#555555" stroke-width="0.6" />
<text x="331.4" y="302.59" font-size="5.65" text-anchor="end" fill="#333333" stroke="#333333" stroke-width="0.14" >BiRNN</text>
<rect x="335.5" y="321.74" width="80.1" height="4.1" fill="#549e75"/>
<rect x="335.5" y="326.26" width="43.1" height="4.1" fill="#ffccd5"/>
<rect x="335.5" y="330.78" width="83.6" height="4.1" fill="#ff5e5e"/>
<rect x="335.5" y="335.3" width="84.4" height="4.1" fill="#bbbbbb"/>
<line x1="333.2" y1="323.86" x2="335.5" y2="323.86" stroke="#555555" stroke-width="0.6" />
<text x="331.4" y="325.86" font-size="5.65" text-anchor="end" fill="#333333" stroke="#333333" stroke-width="0.14" >AlexNet</text>
<line x1="335.5" y1="27.6" x2="335.5" y2="354.9" stroke="#555555" stroke-width="0.8" />
<line x1="335.5" y1="354.9" x2="439.3" y2="354.9" stroke="#555555" stroke-width="0.8" />
<line x1="335.5" y1="354.9" x2="335.5" y2="356.9" stroke="#555555" stroke-width="0.6" />
<text x="335.5" y="361.9" font-size="4.1" text-anchor="middle" fill="#333333" stroke="#333333" stroke-width="0.1" >0.0</text>
<line x1="358.7" y1="354.9" x2="358.7" y2="356.9" stroke="#555555" stroke-width="0.6" />
<text x="358.7" y="361.9" font-size="4.1" text-anchor="middle" fill="#333333" stroke="#333333" stroke-width="0.1" >0.2</text>
<line x1="381.9" y1="354.9" x2="381.9" y2="356.9" stroke="#555555" stroke-width="0.6" />
<text x="381.9" y="361.9" font-size="4.1" text-anchor="middle" fill="#333333" stroke="#333333" stroke-width="0.1" >0.4</text>
<line x1="405.1" y1="354.9" x2="405.1" y2="356.9" stroke="#555555" stroke-width="0.6" />
<text x="405.1" y="361.9" font-size="4.1" text-anchor="middle" fill="#333333" stroke="#333333" stroke-width="0.1" >0.6</text>
<line x1="428.3" y1="354.9" x2="428.3" y2="356.9" stroke="#555555" stroke-width="0.6" />
<text x="428.3" y="361.9" font-size="4.1" text-anchor="middle" fill="#333333" stroke="#333333" stroke-width="0.1" >0.8</text>
<rect x="351.2" y="19.6" width="72.1" height="15.0" rx="0.8" fill="#fff" stroke="#dddddd" stroke-width="0.4"/>
<rect x="353.8" y="22.7" width="8.9" height="2.4" fill="#549e75"/>
<text x="366.9" y="25.6" font-size="4.85" text-anchor="start" fill="#333333" stroke="#333333" stroke-width="0.1" >ACC</text>
<rect x="353.8" y="29.6" width="8.9" height="2.4" fill="#ffccd5"/>
<text x="366.9" y="32.5" font-size="4.85" text-anchor="start" fill="#333333" stroke="#333333" stroke-width="0.1" >MCC</text>
<rect x="388.0" y="22.7" width="8.9" height="2.4" fill="#ff5e5e"/>
<text x="401.1" y="25.6" font-size="4.85" text-anchor="start" fill="#333333" stroke="#333333" stroke-width="0.1" >F1score</text>
<rect x="388.0" y="29.6" width="8.9" height="2.4" fill="#bbbbbb"/>
<text x="401.1" y="32.5" font-size="4.85" text-anchor="start" fill="#333333" stroke="#333333" stroke-width="0.1" >precision</text>
<path fill="#a67dba" d="M459.93,71.84l0.74,0.43v0.86l-0.74,0.43l-0.74,-0.43v-0.86zM474.18,70.54l0.74,0.43v0.86l-0.74,0.43l-0.74,-0.43v-0.86zM481.68,70.54l0.74,0.43v0.86l-0.74,0.43l-0.74,-0.43v-0.86zM484.68,70.54l0.74,0.43v0.86l-0.74,0.43l-0.74,-0.43v-0.86zM490.68,70.54l0.74,0.43v0.86l-0.74,0.43l-0.74,-0.43v-0.86zM459.93,69.24l0.74,0.43v0.86l-0.74,0.43l-0.74,-0.43v-0.86zM485.43,69.24l0.74,0.43v0.86l-0.74,0.43l-0.74,-0.43v-0.86zM484.68,67.94l0.74,0.43v0.86l-0.74,0.43l-0.74,-0.43v-0.86zM477.18,65.34l0.74,0.43v0.86l-0.74,0.43l-0.74,-0.43v-0.86zM492.18,65.34l0.74,0.43v0.86l-0.74,0.43l-0.74,-0.43v-0.86zM473.43,64.04l0.74,0.43v0.86l-0.74,0.43l-0.74,-0.43v-0.86zM465.18,62.74l0.74,0.43v0.86l-0.74,0.43l-0.74,-0.43v-0.86zM484.68,62.74l0.74,0.43v0.86l-0.74,0.43l-0.74,-0.43v-0.86zM467.43,61.44l0.74,0.43v0.86l-0.74,0.43l-0.74,-0.43v-0.86zM486.93,61.44l0.74,0.43v0.86l-0.74,0.43l-0.74,-0.43v-0.86zM468.18,60.14l0.74,0.43v0.86l-0.74,0.43l-0.74,-0.43v-0.86zM477.18,60.14l0.74,0.43v0.86l-0.74,0.43l-0.74,-0.43v-0.86zM489.18,60.14l0.74,0.43v0.86l-0.74,0.43l-0.74,-0.43v-0.86zM471.93,58.84l0.74,0.43v0.86l-0.74,0.43l-0.74,-0.43v-0.86zM488.43,58.84l0.74,0.43v0.86l-0.74,0.43l-0.74,-0.43v-0.86zM471.18,57.54l0.74,0.43v0.86l-0.74,0.43l-0.74,-0.43v-0.86zM477.18,57.54l0.74,0.43v0.86l-0.74,0.43l-0.74,-0.43v-0.86zM493.68,57.54l0.74,0.43v0.86l-0.74,0.43l-0.74,-0.43v-0.86zM484.68,54.94l0.74,0.43v0.86l-0.74,0.43l-0.74,-0.43v-0.86zM487.68,54.94l0.74,0.43v0.86l-0.74,0.43l-0.74,-0.43v-0.86zM493.68,54.94l0.74,0.43v0.86l-0.74,0.43l-0.74,-0.43v-0.86zM492.93,53.64l0.74,0.43v0.86l-0.74,0.43l-0.74,-0.43v-0.86zM498.93,53.64l0.74,0.43v0.86l-0.74,0.43l-0.74,-0.43v-0.86zM481.68,52.34l0.74,0.43v0.86l-0.74,0.43l-0.74,-0.43v-0.86zM467.43,51.04l0.74,0.43v0.86l-0.74,0.43l-0.74,-0.43v-0.86zM491.43,51.04l0.74,0.43v0.86l-0.74,0.43l-0.74,-0.43v-0.86zM486.18,47.14l0.74,0.43v0.86l-0.74,0.43l-0.74,-0.43v-0.86zM495.18,47.14l0.74,0.43v0.86l-0.74,0.43l-0.74,-0.43v-0.86zM489.18,44.54l0.74,0.43v0.86l-0.74,0.43l-0.74,-0.43v-0.86zM502.68,44.54l0.74,0.43v0.86l-0.74,0.43l-0.74,-0.43v-0.86zM504.93,43.24l0.74,0.43v0.86l-0.74,0.43l-0.74,-0.43v-0.86zM498.18,41.94l0.74,0.43v0.86l-0.74,0.43l-0.74,-0.43v-0.86zM499.68,41.94l0.74,0.43v0.86l-0.74,0.43l-0.74,-0.43v-0.86zM500.43,40.64l0.74,0.43v0.86l-0.74,0.43l-0.74,-0.43v-0.86zM499.68,39.34l0.74,0.43v0.86l-0.74,0.43l-0.74,-0.43v-0.86zM495.93,38.04l0.74,0.43v0.86l-0.74,0.43l-0.74,-0.43v-0.86zM502.68,36.74l0.74,0.43v0.86l-0.74,0.43l-0.74,-0.43v-0.86zM503.43,35.44l0.74,0.43v0.86l-0.74,0.43l-0.74,-0.43v-0.86zM477.93,32.84l0.74,0.43v0.86l-0.74,0.43l-0.74,-0.43v-0.86zM491.43,32.84l0.74,0.43v0.86l-0.74,0.43l-0.74,-0.43v-0.86zM506.43,32.84l0.74,0.43v0.86l-0.74,0.43l-0.74,-0.43v-0.86zM490.68,31.54l0.74,0.43v0.86l-0.74,0.43l-0.74,-0.43v-0.86zM502.68,31.54l0.74,0.43v0.86l-0.74,0.43l-0.74,-0.43v-0.86zM498.93,30.24l0.74,0.43v0.86l-0.74,0.43l-0.74,-0.43v-0.86zM500.43,30.24l0.74,0.43v0.86l-0.74,0.43l-0.74,-0.43v-0.86zM475.68,28.94l0.74,0.43v0.86l-0.74,0.43l-0.74,-0.43v-0.86zM490.68,28.94l0.74,0.43v0.86l-0.74,0.43l-0.74,-0.43v-0.86zM476.43,27.64l0.74,0.43v0.86l-0.74,0.43l-0.74,-0.43v-0.86zM498.93,27.64l0.74,0.43v0.86l-0.74,0.43l-0.74,-0.43v-0.86zM500.43,27.64l0.74,0.43v0.86l-0.74,0.43l-0.74,-0.43v-0.86zM484.68,26.34l0.74,0.43v0.86l-0.74,0.43l-0.74,-0.43v-0.86zM489.18,26.34l0.74,0.43v0.86l-0.74,0.43l-0.74,-0.43v-0.86zM516.18,26.34l0.74,0.43v0.86l-0.74,0.43l-0.74,-0.43v-0.86zM476.43,25.04l0.74,0.43v0.86l-0.74,0.43l-0.74,-0.43v-0.86zM498.18,23.74l0.74,0.43v0.86l-0.74,0.43l-0.74,-0.43v-0.86zM502.68,23.74l0.74,0.43v0.86l-0.74,0.43l-0.74,-0.43v-0.86zM510.18,23.74l0.74,0.43v0.86l-0.74,0.43l-0.74,-0.43v-0.86zM513.18,23.74l0.74,0.43v0.86l-0.74,0.43l-0.74,-0.43v-0.86zM483.93,22.44l0.74,0.43v0.86l-0.74,0.43l-0.74,-0.43v-0.86zM503.43,22.44l0.74,0.43v0.86l-0.74,0.43l-0.74,-0.43v-0.86zM505.68,21.14l0.74,0.43v0.86l-0.74,0.43l-0.74,-0.43v-0.86zM485.43,19.84l0.74,0.43v0.86l-0.74,0.43l-0.74,-0.43v-0.86zM492.93,19.84l0.74,0.43v0.86l-0.74,0.43l-0.74,-0.43v-0.86zM494.43,19.84l0.74,0.43v0.86l-0.74,0.43l-0.74,-0.43v-0.86zM497.43,19.84l0.74,0.43v0.86l-0.74,0.43l-0.74,-0.43v-0.86zM506.43,19.84l0.74,0.43v0.86l-0.74,0.43l-0.74,-0.43v-0.86z"/>
<path fill="#762a83" d="M464.43,71.84l0.74,0.43v0.86l-0.74,0.43l-0.74,-0.43v-0.86zM480.93,71.84l0.74,0.43v0.86l-0.74,0.43l-0.74,-0.43v-0.86zM485.43,71.84l0.74,0.43v0.86l-0.74,0.43l-0.74,-0.43v-0.86zM465.18,70.54l0.74,0.43v0.86l-0.74,0.43l-0.74,-0.43v-0.86zM471.18,70.54l0.74,0.43v0.86l-0.74,0.43l-0.74,-0.43v-0.86zM475.68,70.54l0.74,0.43v0.86l-0.74,0.43l-0.74,-0.43v-0.86zM477.18,70.54l0.74,0.43v0.86l-0.74,0.43l-0.74,-0.43v-0.86zM483.93,69.24l0.74,0.43v0.86l-0.74,0.43l-0.74,-0.43v-0.86zM489.93,69.24l0.74,0.43v0.86l-0.74,0.43l-0.74,-0.43v-0.86zM465.18,67.94l0.74,0.43v0.86l-0.74,0.43l-0.74,-0.43v-0.86zM474.18,67.94l0.74,0.43v0.86l-0.74,0.43l-0.74,-0.43v-0.86zM481.68,67.94l0.74,0.43v0.86l-0.74,0.43l-0.74,-0.43v-0.86zM461.43,66.64l0.74,0.43v0.86l-0.74,0.43l-0.74,-0.43v-0.86zM470.43,66.64l0.74,0.43v0.86l-0.74,0.43l-0.74,-0.43v-0.86zM476.43,66.64l0.74,0.43v0.86l-0.74,0.43l-0.74,-0.43v-0.86zM480.93,66.64l0.74,0.43v0.86l-0.74,0.43l-0.74,-0.43v-0.86zM494.43,66.64l0.74,0.43v0.86l-0.74,0.43l-0.74,-0.43v-0.86zM463.68,65.34l0.74,0.43v0.86l-0.74,0.43l-0.74,-0.43v-0.86zM469.68,65.34l0.74,0.43v0.86l-0.74,0.43l-0.74,-0.43v-0.86zM474.18,65.34l0.74,0.43v0.86l-0.74,0.43l-0.74,-0.43v-0.86zM475.68,65.34l0.74,0.43v0.86l-0.74,0.43l-0.74,-0.43v-0.86zM487.68,65.34l0.74,0.43v0.86l-0.74,0.43l-0.74,-0.43v-0.86zM490.68,65.34l0.74,0.43v0.86l-0.74,0.43l-0.74,-0.43v-0.86zM465.93,64.04l0.74,0.43v0.86l-0.74,0.43l-0.74,-0.43v-0.86zM483.93,64.04l0.74,0.43v0.86l-0.74,0.43l-0.74,-0.43v-0.86zM489.93,64.04l0.74,0.43v0.86l-0.74,0.43l-0.74,-0.43v-0.86zM462.18,62.74l0.74,0.43v0.86l-0.74,0.43l-0.74,-0.43v-0.86zM471.18,62.74l0.74,0.43v0.86l-0.74,0.43l-0.74,-0.43v-0.86zM481.68,62.74l0.74,0.43v0.86l-0.74,0.43l-0.74,-0.43v-0.86zM470.43,61.44l0.74,0.43v0.86l-0.74,0.43l-0.74,-0.43v-0.86zM476.43,61.44l0.74,0.43v0.86l-0.74,0.43l-0.74,-0.43v-0.86zM482.43,61.44l0.74,0.43v0.86l-0.74,0.43l-0.74,-0.43v-0.86zM474.18,60.14l0.74,0.43v0.86l-0.74,0.43l-0.74,-0.43v-0.86zM490.68,60.14l0.74,0.43v0.86l-0.74,0.43l-0.74,-0.43v-0.86zM492.18,60.14l0.74,0.43v0.86l-0.74,0.43l-0.74,-0.43v-0.86zM465.93,58.84l0.74,0.43v0.86l-0.74,0.43l-0.74,-0.43v-0.86zM477.93,58.84l0.74,0.43v0.86l-0.74,0.43l-0.74,-0.43v-0.86zM479.43,58.84l0.74,0.43v0.86l-0.74,0.43l-0.74,-0.43v-0.86zM483.93,58.84l0.74,0.43v0.86l-0.74,0.43l-0.74,-0.43v-0.86zM497.43,58.84l0.74,0.43v0.86l-0.74,0.43l-0.74,-0.43v-0.86zM465.18,57.54l0.74,0.43v0.86l-0.74,0.43l-0.74,-0.43v-0.86zM475.68,57.54l0.74,0.43v0.86l-0.74,0.43l-0.74,-0.43v-0.86zM481.68,57.54l0.74,0.43v0.86l-0.74,0.43l-0.74,-0.43v-0.86zM473.43,56.24l0.74,0.43v0.86l-0.74,0.43l-0.74,-0.43v-0.86zM476.43,56.24l0.74,0.43v0.86l-0.74,0.43l-0.74,-0.43v-0.86zM488.43,56.24l0.74,0.43v0.86l-0.74,0.43l-0.74,-0.43v-0.86zM497.43,56.24l0.74,0.43v0.86l-0.74,0.43l-0.74,-0.43v-0.86zM480.18,54.94l0.74,0.43v0.86l-0.74,0.43l-0.74,-0.43v-0.86zM486.18,54.94l0.74,0.43v0.86l-0.74,0.43l-0.74,-0.43v-0.86zM468.93,53.64l0.74,0.43v0.86l-0.74,0.43l-0.74,-0.43v-0.86zM474.93,53.64l0.74,0.43v0.86l-0.74,0.43l-0.74,-0.43v-0.86zM479.43,53.64l0.74,0.43v0.86l-0.74,0.43l-0.74,-0.43v-0.86zM480.93,53.64l0.74,0.43v0.86l-0.74,0.43l-0.74,-0.43v-0.86zM483.93,53.64l0.74,0.43v0.86l-0.74,0.43l-0.74,-0.43v-0.86zM491.43,53.64l0.74,0.43v0.86l-0.74,0.43l-0.74,-0.43v-0.86zM468.18,52.34l0.74,0.43v0.86l-0.74,0.43l-0.74,-0.43v-0.86zM477.18,52.34l0.74,0.43v0.86l-0.74,0.43l-0.74,-0.43v-0.86zM478.68,52.34l0.74,0.43v0.86l-0.74,0.43l-0.74,-0.43v-0.86zM483.18,52.34l0.74,0.43v0.86l-0.74,0.43l-0.74,-0.43v-0.86zM484.68,52.34l0.74,0.43v0.86l-0.74,0.43l-0.74,-0.43v-0.86zM486.18,52.34l0.74,0.43v0.86l-0.74,0.43l-0.74,-0.43v-0.86zM487.68,52.34l0.74,0.43v0.86l-0.74,0.43l-0.74,-0.43v-0.86zM479.43,51.04l0.74,0.43v0.86l-0.74,0.43l-0.74,-0.43v-0.86zM482.43,51.04l0.74,0.43v0.86l-0.74,0.43l-0.74,-0.43v-0.86zM486.93,51.04l0.74,0.43v0.86l-0.74,0.43l-0.74,-0.43v-0.86zM489.93,51.04l0.74,0.43v0.86l-0.74,0.43l-0.74,-0.43v-0.86zM477.18,49.74l0.74,0.43v0.86l-0.74,0.43l-0.74,-0.43v-0.86zM483.18,49.74l0.74,0.43v0.86l-0.74,0.43l-0.74,-0.43v-0.86zM501.18,49.74l0.74,0.43v0.86l-0.74,0.43l-0.74,-0.43v-0.86zM473.43,48.44l0.74,0.43v0.86l-0.74,0.43l-0.74,-0.43v-0.86zM483.93,48.44l0.74,0.43v0.86l-0.74,0.43l-0.74,-0.43v-0.86zM485.43,48.44l0.74,0.43v0.86l-0.74,0.43l-0.74,-0.43v-0.86zM486.93,48.44l0.74,0.43v0.86l-0.74,0.43l-0.74,-0.43v-0.86zM490.68,47.14l0.74,0.43v0.86l-0.74,0.43l-0.74,-0.43v-0.86zM470.43,45.84l0.74,0.43v0.86l-0.74,0.43l-0.74,-0.43v-0.86zM473.43,45.84l0.74,0.43v0.86l-0.74,0.43l-0.74,-0.43v-0.86zM485.43,45.84l0.74,0.43v0.86l-0.74,0.43l-0.74,-0.43v-0.86zM474.18,44.54l0.74,0.43v0.86l-0.74,0.43l-0.74,-0.43v-0.86zM477.18,44.54l0.74,0.43v0.86l-0.74,0.43l-0.74,-0.43v-0.86zM505.68,44.54l0.74,0.43v0.86l-0.74,0.43l-0.74,-0.43v-0.86zM476.43,43.24l0.74,0.43v0.86l-0.74,0.43l-0.74,-0.43v-0.86zM488.43,43.24l0.74,0.43v0.86l-0.74,0.43l-0.74,-0.43v-0.86zM480.18,41.94l0.74,0.43v0.86l-0.74,0.43l-0.74,-0.43v-0.86zM490.68,41.94l0.74,0.43v0.86l-0.74,0.43l-0.74,-0.43v-0.86zM492.18,41.94l0.74,0.43v0.86l-0.74,0.43l-0.74,-0.43v-0.86zM495.18,41.94l0.74,0.43v0.86l-0.74,0.43l-0.74,-0.43v-0.86zM504.18,41.94l0.74,0.43v0.86l-0.74,0.43l-0.74,-0.43v-0.86zM476.43,40.64l0.74,0.43v0.86l-0.74,0.43l-0.74,-0.43v-0.86zM486.93,40.64l0.74,0.43v0.86l-0.74,0.43l-0.74,-0.43v-0.86zM497.43,40.64l0.74,0.43v0.86l-0.74,0.43l-0.74,-0.43v-0.86zM481.68,39.34l0.74,0.43v0.86l-0.74,0.43l-0.74,-0.43v-0.86zM484.68,39.34l0.74,0.43v0.86l-0.74,0.43l-0.74,-0.43v-0.86zM496.68,39.34l0.74,0.43v0.86l-0.74,0.43l-0.74,-0.43v-0.86zM483.93,38.04l0.74,0.43v0.86l-0.74,0.43l-0.74,-0.43v-0.86zM486.93,38.04l0.74,0.43v0.86l-0.74,0.43l-0.74,-0.43v-0.86zM498.93,38.04l0.74,0.43v0.86l-0.74,0.43l-0.74,-0.43v-0.86zM501.93,38.04l0.74,0.43v0.86l-0.74,0.43l-0.74,-0.43v-0.86zM480.18,36.74l0.74,0.43v0.86l-0.74,0.43l-0.74,-0.43v-0.86zM487.68,36.74l0.74,0.43v0.86l-0.74,0.43l-0.74,-0.43v-0.86zM493.68,36.74l0.74,0.43v0.86l-0.74,0.43l-0.74,-0.43v-0.86zM479.43,35.44l0.74,0.43v0.86l-0.74,0.43l-0.74,-0.43v-0.86zM489.93,35.44l0.74,0.43v0.86l-0.74,0.43l-0.74,-0.43v-0.86zM477.18,34.14l0.74,0.43v0.86l-0.74,0.43l-0.74,-0.43v-0.86zM489.18,34.14l0.74,0.43v0.86l-0.74,0.43l-0.74,-0.43v-0.86zM490.68,34.14l0.74,0.43v0.86l-0.74,0.43l-0.74,-0.43v-0.86zM501.18,34.14l0.74,0.43v0.86l-0.74,0.43l-0.74,-0.43v-0.86zM508.68,34.14l0.74,0.43v0.86l-0.74,0.43l-0.74,-0.43v-0.86zM479.43,32.84l0.74,0.43v0.86l-0.74,0.43l-0.74,-0.43v-0.86zM480.93,32.84l0.74,0.43v0.86l-0.74,0.43l-0.74,-0.43v-0.86zM495.93,32.84l0.74,0.43v0.86l-0.74,0.43l-0.74,-0.43v-0.86zM513.93,32.84l0.74,0.43v0.86l-0.74,0.43l-0.74,-0.43v-0.86zM480.18,31.54l0.74,0.43v0.86l-0.74,0.43l-0.74,-0.43v-0.86zM489.18,31.54l0.74,0.43v0.86l-0.74,0.43l-0.74,-0.43v-0.86zM498.18,31.54l0.74,0.43v0.86l-0.74,0.43l-0.74,-0.43v-0.86zM507.18,31.54l0.74,0.43v0.86l-0.74,0.43l-0.74,-0.43v-0.86zM508.68,31.54l0.74,0.43v0.86l-0.74,0.43l-0.74,-0.43v-0.86zM480.93,30.24l0.74,0.43v0.86l-0.74,0.43l-0.74,-0.43v-0.86zM509.43,30.24l0.74,0.43v0.86l-0.74,0.43l-0.74,-0.43v-0.86zM483.18,28.94l0.74,0.43v0.86l-0.74,0.43l-0.74,-0.43v-0.86zM499.68,28.94l0.74,0.43v0.86l-0.74,0.43l-0.74,-0.43v-0.86zM474.93,27.64l0.74,0.43v0.86l-0.74,0.43l-0.74,-0.43v-0.86zM485.43,27.64l0.74,0.43v0.86l-0.74,0.43l-0.74,-0.43v-0.86zM495.93,27.64l0.74,0.43v0.86l-0.74,0.43l-0.74,-0.43v-0.86zM501.93,27.64l0.74,0.43v0.86l-0.74,0.43l-0.74,-0.43v-0.86zM512.43,27.64l0.74,0.43v0.86l-0.74,0.43l-0.74,-0.43v-0.86zM515.43,27.64l0.74,0.43v0.86l-0.74,0.43l-0.74,-0.43v-0.86zM499.68,26.34l0.74,0.43v0.86l-0.74,0.43l-0.74,-0.43v-0.86zM505.68,26.34l0.74,0.43v0.86l-0.74,0.43l-0.74,-0.43v-0.86zM479.43,25.04l0.74,0.43v0.86l-0.74,0.43l-0.74,-0.43v-0.86zM486.93,25.04l0.74,0.43v0.86l-0.74,0.43l-0.74,-0.43v-0.86zM495.93,25.04l0.74,0.43v0.86l-0.74,0.43l-0.74,-0.43v-0.86zM500.43,25.04l0.74,0.43v0.86l-0.74,0.43l-0.74,-0.43v-0.86zM501.93,25.04l0.74,0.43v0.86l-0.74,0.43l-0.74,-0.43v-0.86zM495.18,23.74l0.74,0.43v0.86l-0.74,0.43l-0.74,-0.43v-0.86zM496.68,23.74l0.74,0.43v0.86l-0.74,0.43l-0.74,-0.43v-0.86zM483.18,21.14l0.74,0.43v0.86l-0.74,0.43l-0.74,-0.43v-0.86z"/>
<path fill="#40004b" d="M465.93,71.84l0.74,0.43v0.86l-0.74,0.43l-0.74,-0.43v-0.86zM474.93,71.84l0.74,0.43v0.86l-0.74,0.43l-0.74,-0.43v-0.86zM477.93,71.84l0.74,0.43v0.86l-0.74,0.43l-0.74,-0.43v-0.86zM486.93,71.84l0.74,0.43v0.86l-0.74,0.43l-0.74,-0.43v-0.86zM480.18,70.54l0.74,0.43v0.86l-0.74,0.43l-0.74,-0.43v-0.86zM464.43,69.24l0.74,0.43v0.86l-0.74,0.43l-0.74,-0.43v-0.86zM468.93,69.24l0.74,0.43v0.86l-0.74,0.43l-0.74,-0.43v-0.86zM471.93,69.24l0.74,0.43v0.86l-0.74,0.43l-0.74,-0.43v-0.86zM473.43,69.24l0.74,0.43v0.86l-0.74,0.43l-0.74,-0.43v-0.86zM477.93,69.24l0.74,0.43v0.86l-0.74,0.43l-0.74,-0.43v-0.86zM480.93,69.24l0.74,0.43v0.86l-0.74,0.43l-0.74,-0.43v-0.86zM468.18,67.94l0.74,0.43v0.86l-0.74,0.43l-0.74,-0.43v-0.86zM478.68,67.94l0.74,0.43v0.86l-0.74,0.43l-0.74,-0.43v-0.86zM471.93,66.64l0.74,0.43v0.86l-0.74,0.43l-0.74,-0.43v-0.86zM483.93,66.64l0.74,0.43v0.86l-0.74,0.43l-0.74,-0.43v-0.86zM488.43,66.64l0.74,0.43v0.86l-0.74,0.43l-0.74,-0.43v-0.86zM466.68,65.34l0.74,0.43v0.86l-0.74,0.43l-0.74,-0.43v-0.86zM471.18,65.34l0.74,0.43v0.86l-0.74,0.43l-0.74,-0.43v-0.86zM472.68,65.34l0.74,0.43v0.86l-0.74,0.43l-0.74,-0.43v-0.86zM462.93,64.04l0.74,0.43v0.86l-0.74,0.43l-0.74,-0.43v-0.86zM477.93,64.04l0.74,0.43v0.86l-0.74,0.43l-0.74,-0.43v-0.86zM468.18,62.74l0.74,0.43v0.86l-0.74,0.43l-0.74,-0.43v-0.86zM469.68,62.74l0.74,0.43v0.86l-0.74,0.43l-0.74,-0.43v-0.86zM474.18,62.74l0.74,0.43v0.86l-0.74,0.43l-0.74,-0.43v-0.86zM475.68,62.74l0.74,0.43v0.86l-0.74,0.43l-0.74,-0.43v-0.86zM489.18,62.74l0.74,0.43v0.86l-0.74,0.43l-0.74,-0.43v-0.86zM490.68,62.74l0.74,0.43v0.86l-0.74,0.43l-0.74,-0.43v-0.86zM465.93,61.44l0.74,0.43v0.86l-0.74,0.43l-0.74,-0.43v-0.86zM473.43,61.44l0.74,0.43v0.86l-0.74,0.43l-0.74,-0.43v-0.86zM474.93,61.44l0.74,0.43v0.86l-0.74,0.43l-0.74,-0.43v-0.86zM497.43,61.44l0.74,0.43v0.86l-0.74,0.43l-0.74,-0.43v-0.86zM469.68,60.14l0.74,0.43v0.86l-0.74,0.43l-0.74,-0.43v-0.86zM472.68,60.14l0.74,0.43v0.86l-0.74,0.43l-0.74,-0.43v-0.86zM475.68,60.14l0.74,0.43v0.86l-0.74,0.43l-0.74,-0.43v-0.86zM468.93,58.84l0.74,0.43v0.86l-0.74,0.43l-0.74,-0.43v-0.86zM474.93,58.84l0.74,0.43v0.86l-0.74,0.43l-0.74,-0.43v-0.86zM476.43,58.84l0.74,0.43v0.86l-0.74,0.43l-0.74,-0.43v-0.86zM482.43,58.84l0.74,0.43v0.86l-0.74,0.43l-0.74,-0.43v-0.86zM486.93,58.84l0.74,0.43v0.86l-0.74,0.43l-0.74,-0.43v-0.86zM495.93,58.84l0.74,0.43v0.86l-0.74,0.43l-0.74,-0.43v-0.86zM466.68,57.54l0.74,0.43v0.86l-0.74,0.43l-0.74,-0.43v-0.86zM484.68,57.54l0.74,0.43v0.86l-0.74,0.43l-0.74,-0.43v-0.86zM490.68,57.54l0.74,0.43v0.86l-0.74,0.43l-0.74,-0.43v-0.86zM467.43,56.24l0.74,0.43v0.86l-0.74,0.43l-0.74,-0.43v-0.86zM471.93,56.24l0.74,0.43v0.86l-0.74,0.43l-0.74,-0.43v-0.86zM477.93,56.24l0.74,0.43v0.86l-0.74,0.43l-0.74,-0.43v-0.86zM491.43,56.24l0.74,0.43v0.86l-0.74,0.43l-0.74,-0.43v-0.86zM466.68,54.94l0.74,0.43v0.86l-0.74,0.43l-0.74,-0.43v-0.86zM481.68,54.94l0.74,0.43v0.86l-0.74,0.43l-0.74,-0.43v-0.86zM489.18,54.94l0.74,0.43v0.86l-0.74,0.43l-0.74,-0.43v-0.86zM492.18,54.94l0.74,0.43v0.86l-0.74,0.43l-0.74,-0.43v-0.86zM495.18,54.94l0.74,0.43v0.86l-0.74,0.43l-0.74,-0.43v-0.86zM501.18,54.94l0.74,0.43v0.86l-0.74,0.43l-0.74,-0.43v-0.86zM477.93,53.64l0.74,0.43v0.86l-0.74,0.43l-0.74,-0.43v-0.86zM489.93,53.64l0.74,0.43v0.86l-0.74,0.43l-0.74,-0.43v-0.86zM494.43,53.64l0.74,0.43v0.86l-0.74,0.43l-0.74,-0.43v-0.86zM494.43,51.04l0.74,0.43v0.86l-0.74,0.43l-0.74,-0.43v-0.86zM500.43,51.04l0.74,0.43v0.86l-0.74,0.43l-0.74,-0.43v-0.86zM471.18,49.74l0.74,0.43v0.86l-0.74,0.43l-0.74,-0.43v-0.86zM480.18,49.74l0.74,0.43v0.86l-0.74,0.43l-0.74,-0.43v-0.86zM487.68,49.74l0.74,0.43v0.86l-0.74,0.43l-0.74,-0.43v-0.86zM493.68,49.74l0.74,0.43v0.86l-0.74,0.43l-0.74,-0.43v-0.86zM495.18,49.74l0.74,0.43v0.86l-0.74,0.43l-0.74,-0.43v-0.86zM502.68,49.74l0.74,0.43v0.86l-0.74,0.43l-0.74,-0.43v-0.86zM471.93,48.44l0.74,0.43v0.86l-0.74,0.43l-0.74,-0.43v-0.86zM477.93,48.44l0.74,0.43v0.86l-0.74,0.43l-0.74,-0.43v-0.86zM488.43,48.44l0.74,0.43v0.86l-0.74,0.43l-0.74,-0.43v-0.86zM489.93,48.44l0.74,0.43v0.86l-0.74,0.43l-0.74,-0.43v-0.86zM498.18,47.14l0.74,0.43v0.86l-0.74,0.43l-0.74,-0.43v-0.86zM501.18,47.14l0.74,0.43v0.86l-0.74,0.43l-0.74,-0.43v-0.86zM483.93,45.84l0.74,0.43v0.86l-0.74,0.43l-0.74,-0.43v-0.86zM491.43,45.84l0.74,0.43v0.86l-0.74,0.43l-0.74,-0.43v-0.86zM494.43,45.84l0.74,0.43v0.86l-0.74,0.43l-0.74,-0.43v-0.86zM498.93,45.84l0.74,0.43v0.86l-0.74,0.43l-0.74,-0.43v-0.86zM471.18,44.54l0.74,0.43v0.86l-0.74,0.43l-0.74,-0.43v-0.86zM478.68,44.54l0.74,0.43v0.86l-0.74,0.43l-0.74,-0.43v-0.86zM499.68,44.54l0.74,0.43v0.86l-0.74,0.43l-0.74,-0.43v-0.86zM479.43,43.24l0.74,0.43v0.86l-0.74,0.43l-0.74,-0.43v-0.86zM480.93,43.24l0.74,0.43v0.86l-0.74,0.43l-0.74,-0.43v-0.86zM486.93,43.24l0.74,0.43v0.86l-0.74,0.43l-0.74,-0.43v-0.86zM489.93,43.24l0.74,0.43v0.86l-0.74,0.43l-0.74,-0.43v-0.86zM501.93,43.24l0.74,0.43v0.86l-0.74,0.43l-0.74,-0.43v-0.86zM503.43,43.24l0.74,0.43v0.86l-0.74,0.43l-0.74,-0.43v-0.86zM483.18,41.94l0.74,0.43v0.86l-0.74,0.43l-0.74,-0.43v-0.86zM474.93,40.64l0.74,0.43v0.86l-0.74,0.43l-0.74,-0.43v-0.86zM477.93,40.64l0.74,0.43v0.86l-0.74,0.43l-0.74,-0.43v-0.86zM492.93,40.64l0.74,0.43v0.86l-0.74,0.43l-0.74,-0.43v-0.86zM495.93,40.64l0.74,0.43v0.86l-0.74,0.43l-0.74,-0.43v-0.86zM483.18,39.34l0.74,0.43v0.86l-0.74,0.43l-0.74,-0.43v-0.86zM486.18,39.34l0.74,0.43v0.86l-0.74,0.43l-0.74,-0.43v-0.86zM490.68,39.34l0.74,0.43v0.86l-0.74,0.43l-0.74,-0.43v-0.86zM492.18,39.34l0.74,0.43v0.86l-0.74,0.43l-0.74,-0.43v-0.86zM493.68,39.34l0.74,0.43v0.86l-0.74,0.43l-0.74,-0.43v-0.86zM495.18,39.34l0.74,0.43v0.86l-0.74,0.43l-0.74,-0.43v-0.86zM501.18,39.34l0.74,0.43v0.86l-0.74,0.43l-0.74,-0.43v-0.86zM507.18,39.34l0.74,0.43v0.86l-0.74,0.43l-0.74,-0.43v-0.86zM477.93,38.04l0.74,0.43v0.86l-0.74,0.43l-0.74,-0.43v-0.86zM480.93,38.04l0.74,0.43v0.86l-0.74,0.43l-0.74,-0.43v-0.86zM488.43,38.04l0.74,0.43v0.86l-0.74,0.43l-0.74,-0.43v-0.86zM492.93,38.04l0.74,0.43v0.86l-0.74,0.43l-0.74,-0.43v-0.86zM503.43,38.04l0.74,0.43v0.86l-0.74,0.43l-0.74,-0.43v-0.86zM490.68,36.74l0.74,0.43v0.86l-0.74,0.43l-0.74,-0.43v-0.86zM496.68,36.74l0.74,0.43v0.86l-0.74,0.43l-0.74,-0.43v-0.86zM499.68,36.74l0.74,0.43v0.86l-0.74,0.43l-0.74,-0.43v-0.86zM504.18,36.74l0.74,0.43v0.86l-0.74,0.43l-0.74,-0.43v-0.86zM507.18,36.74l0.74,0.43v0.86l-0.74,0.43l-0.74,-0.43v-0.86zM488.43,35.44l0.74,0.43v0.86l-0.74,0.43l-0.74,-0.43v-0.86zM495.93,35.44l0.74,0.43v0.86l-0.74,0.43l-0.74,-0.43v-0.86zM497.43,35.44l0.74,0.43v0.86l-0.74,0.43l-0.74,-0.43v-0.86zM498.93,35.44l0.74,0.43v0.86l-0.74,0.43l-0.74,-0.43v-0.86zM481.68,34.14l0.74,0.43v0.86l-0.74,0.43l-0.74,-0.43v-0.86zM483.18,34.14l0.74,0.43v0.86l-0.74,0.43l-0.74,-0.43v-0.86zM486.18,34.14l0.74,0.43v0.86l-0.74,0.43l-0.74,-0.43v-0.86zM493.68,34.14l0.74,0.43v0.86l-0.74,0.43l-0.74,-0.43v-0.86zM495.18,34.14l0.74,0.43v0.86l-0.74,0.43l-0.74,-0.43v-0.86zM496.68,34.14l0.74,0.43v0.86l-0.74,0.43l-0.74,-0.43v-0.86zM498.18,34.14l0.74,0.43v0.86l-0.74,0.43l-0.74,-0.43v-0.86zM498.93,32.84l0.74,0.43v0.86l-0.74,0.43l-0.74,-0.43v-0.86zM500.43,32.84l0.74,0.43v0.86l-0.74,0.43l-0.74,-0.43v-0.86zM501.93,32.84l0.74,0.43v0.86l-0.74,0.43l-0.74,-0.43v-0.86zM503.43,32.84l0.74,0.43v0.86l-0.74,0.43l-0.74,-0.43v-0.86zM509.43,32.84l0.74,0.43v0.86l-0.74,0.43l-0.74,-0.43v-0.86zM492.18,31.54l0.74,0.43v0.86l-0.74,0.43l-0.74,-0.43v-0.86zM513.18,31.54l0.74,0.43v0.86l-0.74,0.43l-0.74,-0.43v-0.86zM489.93,30.24l0.74,0.43v0.86l-0.74,0.43l-0.74,-0.43v-0.86zM495.93,30.24l0.74,0.43v0.86l-0.74,0.43l-0.74,-0.43v-0.86zM497.43,30.24l0.74,0.43v0.86l-0.74,0.43l-0.74,-0.43v-0.86zM501.93,30.24l0.74,0.43v0.86l-0.74,0.43l-0.74,-0.43v-0.86zM504.93,30.24l0.74,0.43v0.86l-0.74,0.43l-0.74,-0.43v-0.86zM506.43,30.24l0.74,0.43v0.86l-0.74,0.43l-0.74,-0.43v-0.86zM478.68,28.94l0.74,0.43v0.86l-0.74,0.43l-0.74,-0.43v-0.86zM492.18,28.94l0.74,0.43v0.86l-0.74,0.43l-0.74,-0.43v-0.86zM496.68,28.94l0.74,0.43v0.86l-0.74,0.43l-0.74,-0.43v-0.86zM507.93,27.64l0.74,0.43v0.86l-0.74,0.43l-0.74,-0.43v-0.86zM510.93,27.64l0.74,0.43v0.86l-0.74,0.43l-0.74,-0.43v-0.86zM492.18,26.34l0.74,0.43v0.86l-0.74,0.43l-0.74,-0.43v-0.86zM504.18,26.34l0.74,0.43v0.86l-0.74,0.43l-0.74,-0.43v-0.86zM482.43,25.04l0.74,0.43v0.86l-0.74,0.43l-0.74,-0.43v-0.86zM513.93,25.04l0.74,0.43v0.86l-0.74,0.43l-0.74,-0.43v-0.86zM517.68,23.74l0.74,0.43v0.86l-0.74,0.43l-0.74,-0.43v-0.86zM477.93,22.44l0.74,0.43v0.86l-0.74,0.43l-0.74,-0.43v-0.86zM498.93,22.44l0.74,0.43v0.86l-0.74,0.43l-0.74,-0.43v-0.86zM504.93,22.44l0.74,0.43v0.86l-0.74,0.43l-0.74,-0.43v-0.86zM510.93,22.44l0.74,0.43v0.86l-0.74,0.43l-0.74,-0.43v-0.86zM484.68,21.14l0.74,0.43v0.86l-0.74,0.43l-0.74,-0.43v-0.86zM486.18,21.14l0.74,0.43v0.86l-0.74,0.43l-0.74,-0.43v-0.86zM483.93,19.84l0.74,0.43v0.86l-0.74,0.43l-0.74,-0.43v-0.86z"/>
<path fill="#8f53a0" d="M467.43,71.84l0.74,0.43v0.86l-0.74,0.43l-0.74,-0.43v-0.86zM473.43,71.84l0.74,0.43v0.86l-0.74,0.43l-0.74,-0.43v-0.86zM472.68,70.54l0.74,0.43v0.86l-0.74,0.43l-0.74,-0.43v-0.86zM483.18,70.54l0.74,0.43v0.86l-0.74,0.43l-0.74,-0.43v-0.86zM486.18,70.54l0.74,0.43v0.86l-0.74,0.43l-0.74,-0.43v-0.86zM474.93,69.24l0.74,0.43v0.86l-0.74,0.43l-0.74,-0.43v-0.86zM463.68,67.94l0.74,0.43v0.86l-0.74,0.43l-0.74,-0.43v-0.86zM475.68,67.94l0.74,0.43v0.86l-0.74,0.43l-0.74,-0.43v-0.86zM483.18,67.94l0.74,0.43v0.86l-0.74,0.43l-0.74,-0.43v-0.86zM486.18,67.94l0.74,0.43v0.86l-0.74,0.43l-0.74,-0.43v-0.86zM487.68,67.94l0.74,0.43v0.86l-0.74,0.43l-0.74,-0.43v-0.86zM489.18,67.94l0.74,0.43v0.86l-0.74,0.43l-0.74,-0.43v-0.86zM465.93,66.64l0.74,0.43v0.86l-0.74,0.43l-0.74,-0.43v-0.86zM467.43,66.64l0.74,0.43v0.86l-0.74,0.43l-0.74,-0.43v-0.86zM473.43,66.64l0.74,0.43v0.86l-0.74,0.43l-0.74,-0.43v-0.86zM474.93,66.64l0.74,0.43v0.86l-0.74,0.43l-0.74,-0.43v-0.86zM480.18,65.34l0.74,0.43v0.86l-0.74,0.43l-0.74,-0.43v-0.86zM483.18,65.34l0.74,0.43v0.86l-0.74,0.43l-0.74,-0.43v-0.86zM493.68,65.34l0.74,0.43v0.86l-0.74,0.43l-0.74,-0.43v-0.86zM463.68,62.74l0.74,0.43v0.86l-0.74,0.43l-0.74,-0.43v-0.86zM483.18,62.74l0.74,0.43v0.86l-0.74,0.43l-0.74,-0.43v-0.86zM468.93,61.44l0.74,0.43v0.86l-0.74,0.43l-0.74,-0.43v-0.86zM477.93,61.44l0.74,0.43v0.86l-0.74,0.43l-0.74,-0.43v-0.86zM480.93,61.44l0.74,0.43v0.86l-0.74,0.43l-0.74,-0.43v-0.86zM491.43,61.44l0.74,0.43v0.86l-0.74,0.43l-0.74,-0.43v-0.86zM492.93,61.44l0.74,0.43v0.86l-0.74,0.43l-0.74,-0.43v-0.86zM465.18,60.14l0.74,0.43v0.86l-0.74,0.43l-0.74,-0.43v-0.86zM495.18,60.14l0.74,0.43v0.86l-0.74,0.43l-0.74,-0.43v-0.86zM496.68,60.14l0.74,0.43v0.86l-0.74,0.43l-0.74,-0.43v-0.86zM480.93,58.84l0.74,0.43v0.86l-0.74,0.43l-0.74,-0.43v-0.86zM485.43,58.84l0.74,0.43v0.86l-0.74,0.43l-0.74,-0.43v-0.86zM468.18,57.54l0.74,0.43v0.86l-0.74,0.43l-0.74,-0.43v-0.86zM469.68,57.54l0.74,0.43v0.86l-0.74,0.43l-0.74,-0.43v-0.86zM472.68,57.54l0.74,0.43v0.86l-0.74,0.43l-0.74,-0.43v-0.86zM474.18,57.54l0.74,0.43v0.86l-0.74,0.43l-0.74,-0.43v-0.86zM483.18,57.54l0.74,0.43v0.86l-0.74,0.43l-0.74,-0.43v-0.86zM492.93,56.24l0.74,0.43v0.86l-0.74,0.43l-0.74,-0.43v-0.86zM468.18,54.94l0.74,0.43v0.86l-0.74,0.43l-0.74,-0.43v-0.86zM478.68,54.94l0.74,0.43v0.86l-0.74,0.43l-0.74,-0.43v-0.86zM476.43,53.64l0.74,0.43v0.86l-0.74,0.43l-0.74,-0.43v-0.86zM466.68,52.34l0.74,0.43v0.86l-0.74,0.43l-0.74,-0.43v-0.86zM496.68,52.34l0.74,0.43v0.86l-0.74,0.43l-0.74,-0.43v-0.86zM498.18,52.34l0.74,0.43v0.86l-0.74,0.43l-0.74,-0.43v-0.86zM502.68,52.34l0.74,0.43v0.86l-0.74,0.43l-0.74,-0.43v-0.86zM468.93,51.04l0.74,0.43v0.86l-0.74,0.43l-0.74,-0.43v-0.86zM492.93,51.04l0.74,0.43v0.86l-0.74,0.43l-0.74,-0.43v-0.86zM474.18,49.74l0.74,0.43v0.86l-0.74,0.43l-0.74,-0.43v-0.86zM489.18,49.74l0.74,0.43v0.86l-0.74,0.43l-0.74,-0.43v-0.86zM499.68,49.74l0.74,0.43v0.86l-0.74,0.43l-0.74,-0.43v-0.86zM468.93,48.44l0.74,0.43v0.86l-0.74,0.43l-0.74,-0.43v-0.86zM482.43,48.44l0.74,0.43v0.86l-0.74,0.43l-0.74,-0.43v-0.86zM494.43,48.44l0.74,0.43v0.86l-0.74,0.43l-0.74,-0.43v-0.86zM497.43,48.44l0.74,0.43v0.86l-0.74,0.43l-0.74,-0.43v-0.86zM477.18,47.14l0.74,0.43v0.86l-0.74,0.43l-0.74,-0.43v-0.86zM486.93,45.84l0.74,0.43v0.86l-0.74,0.43l-0.74,-0.43v-0.86zM495.93,45.84l0.74,0.43v0.86l-0.74,0.43l-0.74,-0.43v-0.86zM483.18,44.54l0.74,0.43v0.86l-0.74,0.43l-0.74,-0.43v-0.86zM490.68,44.54l0.74,0.43v0.86l-0.74,0.43l-0.74,-0.43v-0.86zM492.18,44.54l0.74,0.43v0.86l-0.74,0.43l-0.74,-0.43v-0.86zM496.68,44.54l0.74,0.43v0.86l-0.74,0.43l-0.74,-0.43v-0.86zM501.18,44.54l0.74,0.43v0.86l-0.74,0.43l-0.74,-0.43v-0.86zM504.18,44.54l0.74,0.43v0.86l-0.74,0.43l-0.74,-0.43v-0.86zM491.43,43.24l0.74,0.43v0.86l-0.74,0.43l-0.74,-0.43v-0.86zM469.68,41.94l0.74,0.43v0.86l-0.74,0.43l-0.74,-0.43v-0.86zM501.18,41.94l0.74,0.43v0.86l-0.74,0.43l-0.74,-0.43v-0.86zM479.43,40.64l0.74,0.43v0.86l-0.74,0.43l-0.74,-0.43v-0.86zM483.93,40.64l0.74,0.43v0.86l-0.74,0.43l-0.74,-0.43v-0.86zM494.43,40.64l0.74,0.43v0.86l-0.74,0.43l-0.74,-0.43v-0.86zM498.93,40.64l0.74,0.43v0.86l-0.74,0.43l-0.74,-0.43v-0.86zM509.43,40.64l0.74,0.43v0.86l-0.74,0.43l-0.74,-0.43v-0.86zM505.68,39.34l0.74,0.43v0.86l-0.74,0.43l-0.74,-0.43v-0.86zM508.68,39.34l0.74,0.43v0.86l-0.74,0.43l-0.74,-0.43v-0.86zM497.43,38.04l0.74,0.43v0.86l-0.74,0.43l-0.74,-0.43v-0.86zM506.43,38.04l0.74,0.43v0.86l-0.74,0.43l-0.74,-0.43v-0.86zM495.18,36.74l0.74,0.43v0.86l-0.74,0.43l-0.74,-0.43v-0.86zM473.43,35.44l0.74,0.43v0.86l-0.74,0.43l-0.74,-0.43v-0.86zM501.93,35.44l0.74,0.43v0.86l-0.74,0.43l-0.74,-0.43v-0.86zM506.43,35.44l0.74,0.43v0.86l-0.74,0.43l-0.74,-0.43v-0.86zM507.93,35.44l0.74,0.43v0.86l-0.74,0.43l-0.74,-0.43v-0.86zM510.18,34.14l0.74,0.43v0.86l-0.74,0.43l-0.74,-0.43v-0.86zM483.93,32.84l0.74,0.43v0.86l-0.74,0.43l-0.74,-0.43v-0.86zM492.93,32.84l0.74,0.43v0.86l-0.74,0.43l-0.74,-0.43v-0.86zM494.43,32.84l0.74,0.43v0.86l-0.74,0.43l-0.74,-0.43v-0.86zM496.68,31.54l0.74,0.43v0.86l-0.74,0.43l-0.74,-0.43v-0.86zM483.93,30.24l0.74,0.43v0.86l-0.74,0.43l-0.74,-0.43v-0.86zM494.43,30.24l0.74,0.43v0.86l-0.74,0.43l-0.74,-0.43v-0.86zM503.43,30.24l0.74,0.43v0.86l-0.74,0.43l-0.74,-0.43v-0.86zM510.93,30.24l0.74,0.43v0.86l-0.74,0.43l-0.74,-0.43v-0.86zM501.18,28.94l0.74,0.43v0.86l-0.74,0.43l-0.74,-0.43v-0.86zM502.68,28.94l0.74,0.43v0.86l-0.74,0.43l-0.74,-0.43v-0.86zM505.68,28.94l0.74,0.43v0.86l-0.74,0.43l-0.74,-0.43v-0.86zM507.18,28.94l0.74,0.43v0.86l-0.74,0.43l-0.74,-0.43v-0.86zM514.68,28.94l0.74,0.43v0.86l-0.74,0.43l-0.74,-0.43v-0.86zM482.43,27.64l0.74,0.43v0.86l-0.74,0.43l-0.74,-0.43v-0.86zM486.93,27.64l0.74,0.43v0.86l-0.74,0.43l-0.74,-0.43v-0.86zM492.93,27.64l0.74,0.43v0.86l-0.74,0.43l-0.74,-0.43v-0.86zM494.43,27.64l0.74,0.43v0.86l-0.74,0.43l-0.74,-0.43v-0.86zM497.43,27.64l0.74,0.43v0.86l-0.74,0.43l-0.74,-0.43v-0.86zM503.43,27.64l0.74,0.43v0.86l-0.74,0.43l-0.74,-0.43v-0.86zM481.68,26.34l0.74,0.43v0.86l-0.74,0.43l-0.74,-0.43v-0.86zM501.18,26.34l0.74,0.43v0.86l-0.74,0.43l-0.74,-0.43v-0.86zM511.68,26.34l0.74,0.43v0.86l-0.74,0.43l-0.74,-0.43v-0.86zM497.43,25.04l0.74,0.43v0.86l-0.74,0.43l-0.74,-0.43v-0.86zM498.93,25.04l0.74,0.43v0.86l-0.74,0.43l-0.74,-0.43v-0.86zM484.68,23.74l0.74,0.43v0.86l-0.74,0.43l-0.74,-0.43v-0.86zM501.18,23.74l0.74,0.43v0.86l-0.74,0.43l-0.74,-0.43v-0.86zM507.18,23.74l0.74,0.43v0.86l-0.74,0.43l-0.74,-0.43v-0.86zM488.43,22.44l0.74,0.43v0.86l-0.74,0.43l-0.74,-0.43v-0.86zM494.43,22.44l0.74,0.43v0.86l-0.74,0.43l-0.74,-0.43v-0.86zM495.93,22.44l0.74,0.43v0.86l-0.74,0.43l-0.74,-0.43v-0.86zM501.93,22.44l0.74,0.43v0.86l-0.74,0.43l-0.74,-0.43v-0.86zM498.18,21.14l0.74,0.43v0.86l-0.74,0.43l-0.74,-0.43v-0.86zM499.68,21.14l0.74,0.43v0.86l-0.74,0.43l-0.74,-0.43v-0.86zM517.68,21.14l0.74,0.43v0.86l-0.74,0.43l-0.74,-0.43v-0.86zM489.93,19.84l0.74,0.43v0.86l-0.74,0.43l-0.74,-0.43v-0.86zM495.93,19.84l0.74,0.43v0.86l-0.74,0.43l-0.74,-0.43v-0.86zM498.93,19.84l0.74,0.43v0.86l-0.74,0.43l-0.74,-0.43v-0.86zM500.43,19.84l0.74,0.43v0.86l-0.74,0.43l-0.74,-0.43v-0.86z"/>
<path fill="#5b1866" d="M468.93,71.84l0.74,0.43v0.86l-0.74,0.43l-0.74,-0.43v-0.86zM470.43,71.84l0.74,0.43v0.86l-0.74,0.43l-0.74,-0.43v-0.86zM479.43,71.84l0.74,0.43v0.86l-0.74,0.43l-0.74,-0.43v-0.86zM489.18,70.54l0.74,0.43v0.86l-0.74,0.43l-0.74,-0.43v-0.86zM467.43,69.24l0.74,0.43v0.86l-0.74,0.43l-0.74,-0.43v-0.86zM476.43,69.24l0.74,0.43v0.86l-0.74,0.43l-0.74,-0.43v-0.86zM479.43,69.24l0.74,0.43v0.86l-0.74,0.43l-0.74,-0.43v-0.86zM488.43,69.24l0.74,0.43v0.86l-0.74,0.43l-0.74,-0.43v-0.86zM469.68,67.94l0.74,0.43v0.86l-0.74,0.43l-0.74,-0.43v-0.86zM472.68,67.94l0.74,0.43v0.86l-0.74,0.43l-0.74,-0.43v-0.86zM492.93,66.64l0.74,0.43v0.86l-0.74,0.43l-0.74,-0.43v-0.86zM467.43,64.04l0.74,0.43v0.86l-0.74,0.43l-0.74,-0.43v-0.86zM468.93,64.04l0.74,0.43v0.86l-0.74,0.43l-0.74,-0.43v-0.86zM476.43,64.04l0.74,0.43v0.86l-0.74,0.43l-0.74,-0.43v-0.86zM479.43,64.04l0.74,0.43v0.86l-0.74,0.43l-0.74,-0.43v-0.86zM466.68,62.74l0.74,0.43v0.86l-0.74,0.43l-0.74,-0.43v-0.86zM480.18,62.74l0.74,0.43v0.86l-0.74,0.43l-0.74,-0.43v-0.86zM486.18,62.74l0.74,0.43v0.86l-0.74,0.43l-0.74,-0.43v-0.86zM492.18,62.74l0.74,0.43v0.86l-0.74,0.43l-0.74,-0.43v-0.86zM493.68,62.74l0.74,0.43v0.86l-0.74,0.43l-0.74,-0.43v-0.86zM488.43,61.44l0.74,0.43v0.86l-0.74,0.43l-0.74,-0.43v-0.86zM489.93,61.44l0.74,0.43v0.86l-0.74,0.43l-0.74,-0.43v-0.86zM478.68,60.14l0.74,0.43v0.86l-0.74,0.43l-0.74,-0.43v-0.86zM484.68,60.14l0.74,0.43v0.86l-0.74,0.43l-0.74,-0.43v-0.86zM493.68,60.14l0.74,0.43v0.86l-0.74,0.43l-0.74,-0.43v-0.86zM473.43,58.84l0.74,0.43v0.86l-0.74,0.43l-0.74,-0.43v-0.86zM492.93,58.84l0.74,0.43v0.86l-0.74,0.43l-0.74,-0.43v-0.86zM494.43,58.84l0.74,0.43v0.86l-0.74,0.43l-0.74,-0.43v-0.86zM478.68,57.54l0.74,0.43v0.86l-0.74,0.43l-0.74,-0.43v-0.86zM486.18,57.54l0.74,0.43v0.86l-0.74,0.43l-0.74,-0.43v-0.86zM495.18,57.54l0.74,0.43v0.86l-0.74,0.43l-0.74,-0.43v-0.86zM468.93,56.24l0.74,0.43v0.86l-0.74,0.43l-0.74,-0.43v-0.86zM470.43,56.24l0.74,0.43v0.86l-0.74,0.43l-0.74,-0.43v-0.86zM485.43,56.24l0.74,0.43v0.86l-0.74,0.43l-0.74,-0.43v-0.86zM495.93,56.24l0.74,0.43v0.86l-0.74,0.43l-0.74,-0.43v-0.86zM469.68,54.94l0.74,0.43v0.86l-0.74,0.43l-0.74,-0.43v-0.86zM482.43,53.64l0.74,0.43v0.86l-0.74,0.43l-0.74,-0.43v-0.86zM472.68,52.34l0.74,0.43v0.86l-0.74,0.43l-0.74,-0.43v-0.86zM492.18,52.34l0.74,0.43v0.86l-0.74,0.43l-0.74,-0.43v-0.86zM495.18,52.34l0.74,0.43v0.86l-0.74,0.43l-0.74,-0.43v-0.86zM499.68,52.34l0.74,0.43v0.86l-0.74,0.43l-0.74,-0.43v-0.86zM501.18,52.34l0.74,0.43v0.86l-0.74,0.43l-0.74,-0.43v-0.86zM504.18,52.34l0.74,0.43v0.86l-0.74,0.43l-0.74,-0.43v-0.86zM485.43,51.04l0.74,0.43v0.86l-0.74,0.43l-0.74,-0.43v-0.86zM488.43,51.04l0.74,0.43v0.86l-0.74,0.43l-0.74,-0.43v-0.86zM495.93,51.04l0.74,0.43v0.86l-0.74,0.43l-0.74,-0.43v-0.86zM497.43,51.04l0.74,0.43v0.86l-0.74,0.43l-0.74,-0.43v-0.86zM484.68,49.74l0.74,0.43v0.86l-0.74,0.43l-0.74,-0.43v-0.86zM490.68,49.74l0.74,0.43v0.86l-0.74,0.43l-0.74,-0.43v-0.86zM492.18,49.74l0.74,0.43v0.86l-0.74,0.43l-0.74,-0.43v-0.86zM480.93,48.44l0.74,0.43v0.86l-0.74,0.43l-0.74,-0.43v-0.86zM495.93,48.44l0.74,0.43v0.86l-0.74,0.43l-0.74,-0.43v-0.86zM500.43,48.44l0.74,0.43v0.86l-0.74,0.43l-0.74,-0.43v-0.86zM503.43,48.44l0.74,0.43v0.86l-0.74,0.43l-0.74,-0.43v-0.86zM504.93,48.44l0.74,0.43v0.86l-0.74,0.43l-0.74,-0.43v-0.86zM480.18,47.14l0.74,0.43v0.86l-0.74,0.43l-0.74,-0.43v-0.86zM492.18,47.14l0.74,0.43v0.86l-0.74,0.43l-0.74,-0.43v-0.86zM474.93,45.84l0.74,0.43v0.86l-0.74,0.43l-0.74,-0.43v-0.86zM489.93,45.84l0.74,0.43v0.86l-0.74,0.43l-0.74,-0.43v-0.86zM492.93,45.84l0.74,0.43v0.86l-0.74,0.43l-0.74,-0.43v-0.86zM501.93,45.84l0.74,0.43v0.86l-0.74,0.43l-0.74,-0.43v-0.86zM472.68,44.54l0.74,0.43v0.86l-0.74,0.43l-0.74,-0.43v-0.86zM480.18,44.54l0.74,0.43v0.86l-0.74,0.43l-0.74,-0.43v-0.86zM485.43,43.24l0.74,0.43v0.86l-0.74,0.43l-0.74,-0.43v-0.86zM492.93,43.24l0.74,0.43v0.86l-0.74,0.43l-0.74,-0.43v-0.86zM497.43,43.24l0.74,0.43v0.86l-0.74,0.43l-0.74,-0.43v-0.86zM498.93,43.24l0.74,0.43v0.86l-0.74,0.43l-0.74,-0.43v-0.86zM471.18,41.94l0.74,0.43v0.86l-0.74,0.43l-0.74,-0.43v-0.86zM474.18,41.94l0.74,0.43v0.86l-0.74,0.43l-0.74,-0.43v-0.86zM478.68,41.94l0.74,0.43v0.86l-0.74,0.43l-0.74,-0.43v-0.86zM487.68,41.94l0.74,0.43v0.86l-0.74,0.43l-0.74,-0.43v-0.86zM480.93,40.64l0.74,0.43v0.86l-0.74,0.43l-0.74,-0.43v-0.86zM506.43,40.64l0.74,0.43v0.86l-0.74,0.43l-0.74,-0.43v-0.86zM507.93,40.64l0.74,0.43v0.86l-0.74,0.43l-0.74,-0.43v-0.86zM475.68,39.34l0.74,0.43v0.86l-0.74,0.43l-0.74,-0.43v-0.86zM477.18,39.34l0.74,0.43v0.86l-0.74,0.43l-0.74,-0.43v-0.86zM480.18,39.34l0.74,0.43v0.86l-0.74,0.43l-0.74,-0.43v-0.86zM489.18,39.34l0.74,0.43v0.86l-0.74,0.43l-0.74,-0.43v-0.86zM502.68,39.34l0.74,0.43v0.86l-0.74,0.43l-0.74,-0.43v-0.86zM473.43,38.04l0.74,0.43v0.86l-0.74,0.43l-0.74,-0.43v-0.86zM476.43,38.04l0.74,0.43v0.86l-0.74,0.43l-0.74,-0.43v-0.86zM500.43,38.04l0.74,0.43v0.86l-0.74,0.43l-0.74,-0.43v-0.86zM507.93,38.04l0.74,0.43v0.86l-0.74,0.43l-0.74,-0.43v-0.86zM474.18,36.74l0.74,0.43v0.86l-0.74,0.43l-0.74,-0.43v-0.86zM478.68,36.74l0.74,0.43v0.86l-0.74,0.43l-0.74,-0.43v-0.86zM486.18,36.74l0.74,0.43v0.86l-0.74,0.43l-0.74,-0.43v-0.86zM492.18,36.74l0.74,0.43v0.86l-0.74,0.43l-0.74,-0.43v-0.86zM498.18,36.74l0.74,0.43v0.86l-0.74,0.43l-0.74,-0.43v-0.86zM477.93,35.44l0.74,0.43v0.86l-0.74,0.43l-0.74,-0.43v-0.86zM492.93,35.44l0.74,0.43v0.86l-0.74,0.43l-0.74,-0.43v-0.86zM500.43,35.44l0.74,0.43v0.86l-0.74,0.43l-0.74,-0.43v-0.86zM504.93,35.44l0.74,0.43v0.86l-0.74,0.43l-0.74,-0.43v-0.86zM475.68,34.14l0.74,0.43v0.86l-0.74,0.43l-0.74,-0.43v-0.86zM480.18,34.14l0.74,0.43v0.86l-0.74,0.43l-0.74,-0.43v-0.86zM484.68,34.14l0.74,0.43v0.86l-0.74,0.43l-0.74,-0.43v-0.86zM499.68,34.14l0.74,0.43v0.86l-0.74,0.43l-0.74,-0.43v-0.86zM504.18,34.14l0.74,0.43v0.86l-0.74,0.43l-0.74,-0.43v-0.86zM507.18,34.14l0.74,0.43v0.86l-0.74,0.43l-0.74,-0.43v-0.86zM476.43,32.84l0.74,0.43v0.86l-0.74,0.43l-0.74,-0.43v-0.86zM485.43,32.84l0.74,0.43v0.86l-0.74,0.43l-0.74,-0.43v-0.86zM474.18,31.54l0.74,0.43v0.86l-0.74,0.43l-0.74,-0.43v-0.86zM477.18,31.54l0.74,0.43v0.86l-0.74,0.43l-0.74,-0.43v-0.86zM483.18,31.54l0.74,0.43v0.86l-0.74,0.43l-0.74,-0.43v-0.86zM511.68,31.54l0.74,0.43v0.86l-0.74,0.43l-0.74,-0.43v-0.86zM485.43,30.24l0.74,0.43v0.86l-0.74,0.43l-0.74,-0.43v-0.86zM486.93,30.24l0.74,0.43v0.86l-0.74,0.43l-0.74,-0.43v-0.86zM484.68,28.94l0.74,0.43v0.86l-0.74,0.43l-0.74,-0.43v-0.86zM504.18,28.94l0.74,0.43v0.86l-0.74,0.43l-0.74,-0.43v-0.86zM513.18,28.94l0.74,0.43v0.86l-0.74,0.43l-0.74,-0.43v-0.86zM504.93,27.64l0.74,0.43v0.86l-0.74,0.43l-0.74,-0.43v-0.86zM509.43,27.64l0.74,0.43v0.86l-0.74,0.43l-0.74,-0.43v-0.86zM483.18,26.34l0.74,0.43v0.86l-0.74,0.43l-0.74,-0.43v-0.86zM493.68,26.34l0.74,0.43v0.86l-0.74,0.43l-0.74,-0.43v-0.86zM495.18,26.34l0.74,0.43v0.86l-0.74,0.43l-0.74,-0.43v-0.86zM498.18,26.34l0.74,0.43v0.86l-0.74,0.43l-0.74,-0.43v-0.86zM502.68,26.34l0.74,0.43v0.86l-0.74,0.43l-0.74,-0.43v-0.86zM485.43,25.04l0.74,0.43v0.86l-0.74,0.43l-0.74,-0.43v-0.86zM503.43,25.04l0.74,0.43v0.86l-0.74,0.43l-0.74,-0.43v-0.86zM509.43,25.04l0.74,0.43v0.86l-0.74,0.43l-0.74,-0.43v-0.86zM481.68,23.74l0.74,0.43v0.86l-0.74,0.43l-0.74,-0.43v-0.86zM483.18,23.74l0.74,0.43v0.86l-0.74,0.43l-0.74,-0.43v-0.86zM505.68,23.74l0.74,0.43v0.86l-0.74,0.43l-0.74,-0.43v-0.86zM508.68,23.74l0.74,0.43v0.86l-0.74,0.43l-0.74,-0.43v-0.86zM514.68,23.74l0.74,0.43v0.86l-0.74,0.43l-0.74,-0.43v-0.86zM497.43,22.44l0.74,0.43v0.86l-0.74,0.43l-0.74,-0.43v-0.86zM506.43,22.44l0.74,0.43v0.86l-0.74,0.43l-0.74,-0.43v-0.86zM513.93,22.44l0.74,0.43v0.86l-0.74,0.43l-0.74,-0.43v-0.86zM480.18,21.14l0.74,0.43v0.86l-0.74,0.43l-0.74,-0.43v-0.86zM489.18,21.14l0.74,0.43v0.86l-0.74,0.43l-0.74,-0.43v-0.86zM488.43,19.84l0.74,0.43v0.86l-0.74,0.43l-0.74,-0.43v-0.86zM491.43,19.84l0.74,0.43v0.86l-0.74,0.43l-0.74,-0.43v-0.86z"/>
<path fill="#c2a5cf" d="M471.93,71.84l0.74,0.43v0.86l-0.74,0.43l-0.74,-0.43v-0.86zM469.68,70.54l0.74,0.43v0.86l-0.74,0.43l-0.74,-0.43v-0.86zM478.68,70.54l0.74,0.43v0.86l-0.74,0.43l-0.74,-0.43v-0.86zM486.93,69.24l0.74,0.43v0.86l-0.74,0.43l-0.74,-0.43v-0.86zM468.93,66.64l0.74,0.43v0.86l-0.74,0.43l-0.74,-0.43v-0.86zM479.43,66.64l0.74,0.43v0.86l-0.74,0.43l-0.74,-0.43v-0.86zM482.43,66.64l0.74,0.43v0.86l-0.74,0.43l-0.74,-0.43v-0.86zM486.93,66.64l0.74,0.43v0.86l-0.74,0.43l-0.74,-0.43v-0.86zM489.93,66.64l0.74,0.43v0.86l-0.74,0.43l-0.74,-0.43v-0.86zM465.18,65.34l0.74,0.43v0.86l-0.74,0.43l-0.74,-0.43v-0.86zM489.18,65.34l0.74,0.43v0.86l-0.74,0.43l-0.74,-0.43v-0.86zM464.43,64.04l0.74,0.43v0.86l-0.74,0.43l-0.74,-0.43v-0.86zM482.43,64.04l0.74,0.43v0.86l-0.74,0.43l-0.74,-0.43v-0.86zM485.43,64.04l0.74,0.43v0.86l-0.74,0.43l-0.74,-0.43v-0.86zM486.93,64.04l0.74,0.43v0.86l-0.74,0.43l-0.74,-0.43v-0.86zM461.43,61.44l0.74,0.43v0.86l-0.74,0.43l-0.74,-0.43v-0.86zM485.43,61.44l0.74,0.43v0.86l-0.74,0.43l-0.74,-0.43v-0.86zM480.18,60.14l0.74,0.43v0.86l-0.74,0.43l-0.74,-0.43v-0.86zM491.43,58.84l0.74,0.43v0.86l-0.74,0.43l-0.74,-0.43v-0.86zM489.18,57.54l0.74,0.43v0.86l-0.74,0.43l-0.74,-0.43v-0.86zM492.18,57.54l0.74,0.43v0.86l-0.74,0.43l-0.74,-0.43v-0.86zM483.93,56.24l0.74,0.43v0.86l-0.74,0.43l-0.74,-0.43v-0.86zM486.93,56.24l0.74,0.43v0.86l-0.74,0.43l-0.74,-0.43v-0.86zM471.18,54.94l0.74,0.43v0.86l-0.74,0.43l-0.74,-0.43v-0.86zM475.68,54.94l0.74,0.43v0.86l-0.74,0.43l-0.74,-0.43v-0.86zM477.18,54.94l0.74,0.43v0.86l-0.74,0.43l-0.74,-0.43v-0.86zM485.43,53.64l0.74,0.43v0.86l-0.74,0.43l-0.74,-0.43v-0.86zM497.43,53.64l0.74,0.43v0.86l-0.74,0.43l-0.74,-0.43v-0.86zM471.18,52.34l0.74,0.43v0.86l-0.74,0.43l-0.74,-0.43v-0.86zM480.18,52.34l0.74,0.43v0.86l-0.74,0.43l-0.74,-0.43v-0.86zM489.18,52.34l0.74,0.43v0.86l-0.74,0.43l-0.74,-0.43v-0.86zM473.43,51.04l0.74,0.43v0.86l-0.74,0.43l-0.74,-0.43v-0.86zM474.93,51.04l0.74,0.43v0.86l-0.74,0.43l-0.74,-0.43v-0.86zM476.43,51.04l0.74,0.43v0.86l-0.74,0.43l-0.74,-0.43v-0.86zM477.93,51.04l0.74,0.43v0.86l-0.74,0.43l-0.74,-0.43v-0.86zM480.93,51.04l0.74,0.43v0.86l-0.74,0.43l-0.74,-0.43v-0.86zM498.93,51.04l0.74,0.43v0.86l-0.74,0.43l-0.74,-0.43v-0.86zM501.93,51.04l0.74,0.43v0.86l-0.74,0.43l-0.74,-0.43v-0.86zM472.68,49.74l0.74,0.43v0.86l-0.74,0.43l-0.74,-0.43v-0.86zM474.93,48.44l0.74,0.43v0.86l-0.74,0.43l-0.74,-0.43v-0.86zM476.43,48.44l0.74,0.43v0.86l-0.74,0.43l-0.74,-0.43v-0.86zM491.43,48.44l0.74,0.43v0.86l-0.74,0.43l-0.74,-0.43v-0.86zM492.93,48.44l0.74,0.43v0.86l-0.74,0.43l-0.74,-0.43v-0.86zM484.68,47.14l0.74,0.43v0.86l-0.74,0.43l-0.74,-0.43v-0.86zM496.68,47.14l0.74,0.43v0.86l-0.74,0.43l-0.74,-0.43v-0.86zM500.43,45.84l0.74,0.43v0.86l-0.74,0.43l-0.74,-0.43v-0.86zM503.43,45.84l0.74,0.43v0.86l-0.74,0.43l-0.74,-0.43v-0.86zM487.68,44.54l0.74,0.43v0.86l-0.74,0.43l-0.74,-0.43v-0.86zM482.43,43.24l0.74,0.43v0.86l-0.74,0.43l-0.74,-0.43v-0.86zM493.68,41.94l0.74,0.43v0.86l-0.74,0.43l-0.74,-0.43v-0.86zM507.18,41.94l0.74,0.43v0.86l-0.74,0.43l-0.74,-0.43v-0.86zM488.43,40.64l0.74,0.43v0.86l-0.74,0.43l-0.74,-0.43v-0.86zM489.93,40.64l0.74,0.43v0.86l-0.74,0.43l-0.74,-0.43v-0.86zM487.68,39.34l0.74,0.43v0.86l-0.74,0.43l-0.74,-0.43v-0.86zM485.43,38.04l0.74,0.43v0.86l-0.74,0.43l-0.74,-0.43v-0.86zM509.43,38.04l0.74,0.43v0.86l-0.74,0.43l-0.74,-0.43v-0.86zM484.68,36.74l0.74,0.43v0.86l-0.74,0.43l-0.74,-0.43v-0.86zM510.18,36.74l0.74,0.43v0.86l-0.74,0.43l-0.74,-0.43v-0.86zM486.93,35.44l0.74,0.43v0.86l-0.74,0.43l-0.74,-0.43v-0.86zM491.43,35.44l0.74,0.43v0.86l-0.74,0.43l-0.74,-0.43v-0.86zM478.68,34.14l0.74,0.43v0.86l-0.74,0.43l-0.74,-0.43v-0.86zM502.68,34.14l0.74,0.43v0.86l-0.74,0.43l-0.74,-0.43v-0.86zM504.93,32.84l0.74,0.43v0.86l-0.74,0.43l-0.74,-0.43v-0.86zM475.68,31.54l0.74,0.43v0.86l-0.74,0.43l-0.74,-0.43v-0.86zM486.18,31.54l0.74,0.43v0.86l-0.74,0.43l-0.74,-0.43v-0.86zM487.68,31.54l0.74,0.43v0.86l-0.74,0.43l-0.74,-0.43v-0.86zM477.93,30.24l0.74,0.43v0.86l-0.74,0.43l-0.74,-0.43v-0.86zM474.18,28.94l0.74,0.43v0.86l-0.74,0.43l-0.74,-0.43v-0.86zM486.18,28.94l0.74,0.43v0.86l-0.74,0.43l-0.74,-0.43v-0.86zM506.43,27.64l0.74,0.43v0.86l-0.74,0.43l-0.74,-0.43v-0.86zM478.68,26.34l0.74,0.43v0.86l-0.74,0.43l-0.74,-0.43v-0.86zM507.18,26.34l0.74,0.43v0.86l-0.74,0.43l-0.74,-0.43v-0.86zM510.18,26.34l0.74,0.43v0.86l-0.74,0.43l-0.74,-0.43v-0.86zM483.93,25.04l0.74,0.43v0.86l-0.74,0.43l-0.74,-0.43v-0.86zM500.43,22.44l0.74,0.43v0.86l-0.74,0.43l-0.74,-0.43v-0.86zM507.93,22.44l0.74,0.43v0.86l-0.74,0.43l-0.74,-0.43v-0.86zM492.18,21.14l0.74,0.43v0.86l-0.74,0.43l-0.74,-0.43v-0.86zM493.68,21.14l0.74,0.43v0.86l-0.74,0.43l-0.74,-0.43v-0.86zM495.18,21.14l0.74,0.43v0.86l-0.74,0.43l-0.74,-0.43v-0.86zM501.18,21.14l0.74,0.43v0.86l-0.74,0.43l-0.74,-0.43v-0.86zM504.18,21.14l0.74,0.43v0.86l-0.74,0.43l-0.74,-0.43v-0.86zM508.68,21.14l0.74,0.43v0.86l-0.74,0.43l-0.74,-0.43v-0.86zM511.68,21.14l0.74,0.43v0.86l-0.74,0.43l-0.74,-0.43v-0.86zM501.93,19.84l0.74,0.43v0.86l-0.74,0.43l-0.74,-0.43v-0.86zM503.43,19.84l0.74,0.43v0.86l-0.74,0.43l-0.74,-0.43v-0.86zM507.93,19.84l0.74,0.43v0.86l-0.74,0.43l-0.74,-0.43v-0.86zM510.93,19.84l0.74,0.43v0.86l-0.74,0.43l-0.74,-0.43v-0.86z"/>
<path fill="#e0cde6" d="M463.68,70.54l0.74,0.43v0.86l-0.74,0.43l-0.74,-0.43v-0.86zM485.43,66.64l0.74,0.43v0.86l-0.74,0.43l-0.74,-0.43v-0.86zM481.68,65.34l0.74,0.43v0.86l-0.74,0.43l-0.74,-0.43v-0.86zM470.43,64.04l0.74,0.43v0.86l-0.74,0.43l-0.74,-0.43v-0.86zM471.93,64.04l0.74,0.43v0.86l-0.74,0.43l-0.74,-0.43v-0.86zM487.68,62.74l0.74,0.43v0.86l-0.74,0.43l-0.74,-0.43v-0.86zM471.93,61.44l0.74,0.43v0.86l-0.74,0.43l-0.74,-0.43v-0.86zM464.43,58.84l0.74,0.43v0.86l-0.74,0.43l-0.74,-0.43v-0.86zM470.43,58.84l0.74,0.43v0.86l-0.74,0.43l-0.74,-0.43v-0.86zM479.43,56.24l0.74,0.43v0.86l-0.74,0.43l-0.74,-0.43v-0.86zM473.43,53.64l0.74,0.43v0.86l-0.74,0.43l-0.74,-0.43v-0.86zM475.68,49.74l0.74,0.43v0.86l-0.74,0.43l-0.74,-0.43v-0.86zM478.68,49.74l0.74,0.43v0.86l-0.74,0.43l-0.74,-0.43v-0.86zM496.68,49.74l0.74,0.43v0.86l-0.74,0.43l-0.74,-0.43v-0.86zM498.18,49.74l0.74,0.43v0.86l-0.74,0.43l-0.74,-0.43v-0.86zM472.68,47.14l0.74,0.43v0.86l-0.74,0.43l-0.74,-0.43v-0.86zM502.68,47.14l0.74,0.43v0.86l-0.74,0.43l-0.74,-0.43v-0.86zM471.93,45.84l0.74,0.43v0.86l-0.74,0.43l-0.74,-0.43v-0.86zM486.18,44.54l0.74,0.43v0.86l-0.74,0.43l-0.74,-0.43v-0.86zM493.68,44.54l0.74,0.43v0.86l-0.74,0.43l-0.74,-0.43v-0.86zM495.18,44.54l0.74,0.43v0.86l-0.74,0.43l-0.74,-0.43v-0.86zM477.93,43.24l0.74,0.43v0.86l-0.74,0.43l-0.74,-0.43v-0.86zM512.43,30.24l0.74,0.43v0.86l-0.74,0.43l-0.74,-0.43v-0.86zM506.43,25.04l0.74,0.43v0.86l-0.74,0.43l-0.74,-0.43v-0.86zM486.93,22.44l0.74,0.43v0.86l-0.74,0.43l-0.74,-0.43v-0.86zM496.68,21.14l0.74,0.43v0.86l-0.74,0.43l-0.74,-0.43v-0.86zM502.68,21.14l0.74,0.43v0.86l-0.74,0.43l-0.74,-0.43v-0.86zM507.18,21.14l0.74,0.43v0.86l-0.74,0.43l-0.74,-0.43v-0.86zM510.18,21.14l0.74,0.43v0.86l-0.74,0.43l-0.74,-0.43v-0.86zM516.18,21.14l0.74,0.43v0.86l-0.74,0.43l-0.74,-0.43v-0.86zM504.93,19.84l0.74,0.43v0.86l-0.74,0.43l-0.74,-0.43v-0.86zM512.43,19.84l0.74,0.43v0.86l-0.74,0.43l-0.74,-0.43v-0.86zM513.93,19.84l0.74,0.43v0.86l-0.74,0.43l-0.74,-0.43v-0.86z"/>
<rect x="503.97" y="18.9" width="14.33" height="2.1" fill="url(#gstrip)"/>
<circle cx="460.5" cy="72.7" r="0.9" fill="#3f8f4f"/>
<line x1="457.6" y1="17.4" x2="457.6" y2="75.5" stroke="#555555" stroke-width="0.6" />
<line x1="457.6" y1="75.5" x2="520.2" y2="75.5" stroke="#555555" stroke-width="0.6" />
<line x1="456" y1="19.9" x2="457.6" y2="19.9" stroke="#555555" stroke-width="0.5" />
<text x="455" y="21.2" font-size="3.7" text-anchor="end" fill="#333333" stroke="#333333" stroke-width="0.1" >1.0</text>
<line x1="456" y1="30.46" x2="457.6" y2="30.46" stroke="#555555" stroke-width="0.5" />
<text x="455" y="31.76" font-size="3.7" text-anchor="end" fill="#333333" stroke="#333333" stroke-width="0.1" >0.8</text>
<line x1="456" y1="41.02" x2="457.6" y2="41.02" stroke="#555555" stroke-width="0.5" />
<text x="455" y="42.32" font-size="3.7" text-anchor="end" fill="#333333" stroke="#333333" stroke-width="0.1" >0.6</text>
<line x1="456" y1="51.58" x2="457.6" y2="51.58" stroke="#555555" stroke-width="0.5" />
<text x="455" y="52.88" font-size="3.7" text-anchor="end" fill="#333333" stroke="#333333" stroke-width="0.1" >0.4</text>
<line x1="456" y1="62.14" x2="457.6" y2="62.14" stroke="#555555" stroke-width="0.5" />
<text x="455" y="63.44" font-size="3.7" text-anchor="end" fill="#333333" stroke="#333333" stroke-width="0.1" >0.2</text>
<line x1="456" y1="72.7" x2="457.6" y2="72.7" stroke="#555555" stroke-width="0.5" />
<text x="455" y="74" font-size="3.7" text-anchor="end" fill="#333333" stroke="#333333" stroke-width="0.1" >0.0</text>
<line x1="460.5" y1="75.5" x2="460.5" y2="77.1" stroke="#555555" stroke-width="0.5" />
<line x1="474.8" y1="75.5" x2="474.8" y2="77.1" stroke="#555555" stroke-width="0.5" />
<line x1="489.1" y1="75.5" x2="489.1" y2="77.1" stroke="#555555" stroke-width="0.5" />
<line x1="503.4" y1="75.5" x2="503.4" y2="77.1" stroke="#555555" stroke-width="0.5" />
<line x1="517.7" y1="75.5" x2="517.7" y2="77.1" stroke="#555555" stroke-width="0.5" />
<text x="489.1" y="79.5" font-size="3.75" text-anchor="middle" fill="#333333" stroke="#333333" stroke-width="0.1" >DeepsmirUD</text>
<text x="489.1" y="14.6" font-size="4.1" text-anchor="middle" fill="#333333" stroke="#333333" stroke-width="0.1" >Train</text>
<text x="447.9" y="46.3" font-size="3.75" text-anchor="middle" fill="#333333" transform="rotate(-90 447.9 46.3)">LSTMCNN</text>
<rect x="524.0" y="16.8" width="3.3" height="58.7" fill="url(#cbar)"/>
<line x1="527.3" y1="75.5" x2="528.5" y2="75.5" stroke="#555555" stroke-width="0.4" />
<text x="530.6" y="76.7" font-size="3.2" fill="#333333">10<tspan font-size="2.2" dy="-1.3">0</tspan></text>
<line x1="527.3" y1="50.52" x2="528.5" y2="50.52" stroke="#555555" stroke-width="0.4" />
<text x="530.6" y="51.72" font-size="3.2" fill="#333333">10<tspan font-size="2.2" dy="-1.3">1</tspan></text>
<line x1="527.3" y1="25.53" x2="528.5" y2="25.53" stroke="#555555" stroke-width="0.4" />
<text x="530.6" y="26.73" font-size="3.2" fill="#333333">10<tspan font-size="2.2" dy="-1.3">2</tspan></text>
<line x1="527.3" y1="67.95" x2="528.1" y2="67.95" stroke="#555555" stroke-width="0.3" />
<line x1="527.3" y1="63.88" x2="528.1" y2="63.88" stroke="#555555" stroke-width="0.3" />
<line x1="527.3" y1="60.39" x2="528.1" y2="60.39" stroke="#555555" stroke-width="0.3" />
<line x1="527.3" y1="58.07" x2="528.1" y2="58.07" stroke="#555555" stroke-width="0.3" />
<line x1="527.3" y1="56.33" x2="528.1" y2="56.33" stroke="#555555" stroke-width="0.3" />
<line x1="527.3" y1="54.58" x2="528.1" y2="54.58" stroke="#555555" stroke-width="0.3" />
<line x1="527.3" y1="52.84" x2="528.1" y2="52.84" stroke="#555555" stroke-width="0.3" />
<line x1="527.3" y1="51.68" x2="528.1" y2="51.68" stroke="#555555" stroke-width="0.3" />
<line x1="527.3" y1="42.96" x2="528.1" y2="42.96" stroke="#555555" stroke-width="0.3" />
<line x1="527.3" y1="38.32" x2="528.1" y2="38.32" stroke="#555555" stroke-width="0.3" />
<line x1="527.3" y1="35.41" x2="528.1" y2="35.41" stroke="#555555" stroke-width="0.3" />
<line x1="527.3" y1="33.09" x2="528.1" y2="33.09" stroke="#555555" stroke-width="0.3" />
<line x1="527.3" y1="31.34" x2="528.1" y2="31.34" stroke="#555555" stroke-width="0.3" />
<line x1="527.3" y1="29.6" x2="528.1" y2="29.6" stroke="#555555" stroke-width="0.3" />
<line x1="527.3" y1="28.44" x2="528.1" y2="28.44" stroke="#555555" stroke-width="0.3" />
<text x="540.6" y="46.45" font-size="4.0" text-anchor="middle" fill="#333333" transform="rotate(-90 540.6 46.45)">log10(N)</text>
<path fill="#5b1866" d="M510.82,97.39l0.69,0.4v0.8l-0.69,0.4l-0.69,-0.4v-0.8zM514.92,96.14l0.69,0.4v0.8l-0.69,0.4l-0.69,-0.4v-0.8zM502,94.59l0.69,0.4v0.8l-0.69,0.4l-0.69,-0.4v-0.8zM516.78,94.86l0.69,0.4v0.8l-0.69,0.4l-0.69,-0.4v-0.8zM509,91.72l0.69,0.4v0.8l-0.69,0.4l-0.69,-0.4v-0.8zM503.15,92.75l0.69,0.4v0.8l-0.69,0.4l-0.69,-0.4v-0.8zM505.13,95.09l0.69,0.4v0.8l-0.69,0.4l-0.69,-0.4v-0.8zM496.12,96.83l0.69,0.4v0.8l-0.69,0.4l-0.69,-0.4v-0.8zM517.45,96.99l0.69,0.4v0.8l-0.69,0.4l-0.69,-0.4v-0.8zM511.42,94.68l0.69,0.4v0.8l-0.69,0.4l-0.69,-0.4v-0.8zM504.37,96.12l0.69,0.4v0.8l-0.69,0.4l-0.69,-0.4v-0.8zM503.24,91.1l0.69,0.4v0.8l-0.69,0.4l-0.69,-0.4v-0.8zM513.96,92.95l0.69,0.4v0.8l-0.69,0.4l-0.69,-0.4v-0.8zM509.54,91.48l0.69,0.4v0.8l-0.69,0.4l-0.69,-0.4v-0.8zM510.27,92.23l0.69,0.4v0.8l-0.69,0.4l-0.69,-0.4v-0.8zM503.23,93.45l0.69,0.4v0.8l-0.69,0.4l-0.69,-0.4v-0.8zM502.23,90.7l0.69,0.4v0.8l-0.69,0.4l-0.69,-0.4v-0.8zM505,94.5l0.69,0.4v0.8l-0.69,0.4l-0.69,-0.4v-0.8zM514.42,90.71l0.69,0.4v0.8l-0.69,0.4l-0.69,-0.4v-0.8zM505.75,95.86l0.69,0.4v0.8l-0.69,0.4l-0.69,-0.4v-0.8zM513.86,95.65l0.69,0.4v0.8l-0.69,0.4l-0.69,-0.4v-0.8zM496.71,90.52l0.69,0.4v0.8l-0.69,0.4l-0.69,-0.4v-0.8zM506.39,92.07l0.69,0.4v0.8l-0.69,0.4l-0.69,-0.4v-0.8zM517.17,95.7l0.69,0.4v0.8l-0.69,0.4l-0.69,-0.4v-0.8zM516.67,91.43l0.69,0.4v0.8l-0.69,0.4l-0.69,-0.4v-0.8zM496.88,104.25l0.69,0.4v0.8l-0.69,0.4l-0.69,-0.4v-0.8zM487,110.18l0.69,0.4v0.8l-0.69,0.4l-0.69,-0.4v-0.8zM484.87,104.5l0.69,0.4v0.8l-0.69,0.4l-0.69,-0.4v-0.8zM506.76,110.15l0.69,0.4v0.8l-0.69,0.4l-0.69,-0.4v-0.8zM496.87,97.79l0.69,0.4v0.8l-0.69,0.4l-0.69,-0.4v-0.8zM497.43,113.48l0.69,0.4v0.8l-0.69,0.4l-0.69,-0.4v-0.8zM487.84,109.26l0.69,0.4v0.8l-0.69,0.4l-0.69,-0.4v-0.8zM492.1,105.13l0.69,0.4v0.8l-0.69,0.4l-0.69,-0.4v-0.8zM498.47,97.99l0.69,0.4v0.8l-0.69,0.4l-0.69,-0.4v-0.8zM487.96,116.86l0.69,0.4v0.8l-0.69,0.4l-0.69,-0.4v-0.8zM485.86,119.7l0.69,0.4v0.8l-0.69,0.4l-0.69,-0.4v-0.8zM478.66,123.72l0.69,0.4v0.8l-0.69,0.4l-0.69,-0.4v-0.8zM472.86,126.84l0.69,0.4v0.8l-0.69,0.4l-0.69,-0.4v-0.8zM487.39,121.01l0.69,0.4v0.8l-0.69,0.4l-0.69,-0.4v-0.8zM480.4,126.48l0.69,0.4v0.8l-0.69,0.4l-0.69,-0.4v-0.8zM467.71,135.05l0.69,0.4v0.8l-0.69,0.4l-0.69,-0.4v-0.8zM472.46,136.29l0.69,0.4v0.8l-0.69,0.4l-0.69,-0.4v-0.8zM482.67,129.45l0.69,0.4v0.8l-0.69,0.4l-0.69,-0.4v-0.8zM471.58,134.73l0.69,0.4v0.8l-0.69,0.4l-0.69,-0.4v-0.8zM488.23,127.68l0.69,0.4v0.8l-0.69,0.4l-0.69,-0.4v-0.8zM490.48,131.56l0.69,0.4v0.8l-0.69,0.4l-0.69,-0.4v-0.8zM475.94,142.17l0.69,0.4v0.8l-0.69,0.4l-0.69,-0.4v-0.8zM480.26,140.4l0.69,0.4v0.8l-0.69,0.4l-0.69,-0.4v-0.8zM466.11,141.14l0.69,0.4v0.8l-0.69,0.4l-0.69,-0.4v-0.8zM480.52,90.2l0.69,0.4v0.8l-0.69,0.4l-0.69,-0.4v-0.8zM469.08,119.02l0.69,0.4v0.8l-0.69,0.4l-0.69,-0.4v-0.8zM500.54,142.6l0.69,0.4v0.8l-0.69,0.4l-0.69,-0.4v-0.8zM491.96,139.98l0.69,0.4v0.8l-0.69,0.4l-0.69,-0.4v-0.8zM501.68,126.88l0.69,0.4v0.8l-0.69,0.4l-0.69,-0.4v-0.8zM507.4,126.88l0.69,0.4v0.8l-0.69,0.4l-0.69,-0.4v-0.8zM486.24,110.11l0.69,0.4v0.8l-0.69,0.4l-0.69,-0.4v-0.8z"/>
<path fill="#40004b" d="M514.61,96.76l0.69,0.4v0.8l-0.69,0.4l-0.69,-0.4v-0.8zM501.9,90.63l0.69,0.4v0.8l-0.69,0.4l-0.69,-0.4v-0.8zM503.88,93.74l0.69,0.4v0.8l-0.69,0.4l-0.69,-0.4v-0.8zM504.6,96.38l0.69,0.4v0.8l-0.69,0.4l-0.69,-0.4v-0.8zM508.25,92.31l0.69,0.4v0.8l-0.69,0.4l-0.69,-0.4v-0.8zM510.04,97.03l0.69,0.4v0.8l-0.69,0.4l-0.69,-0.4v-0.8zM514.05,92.08l0.69,0.4v0.8l-0.69,0.4l-0.69,-0.4v-0.8zM512.36,92.25l0.69,0.4v0.8l-0.69,0.4l-0.69,-0.4v-0.8zM515.42,94.84l0.69,0.4v0.8l-0.69,0.4l-0.69,-0.4v-0.8zM514.17,92.32l0.69,0.4v0.8l-0.69,0.4l-0.69,-0.4v-0.8zM494.65,91.33l0.69,0.4v0.8l-0.69,0.4l-0.69,-0.4v-0.8zM495.66,95.95l0.69,0.4v0.8l-0.69,0.4l-0.69,-0.4v-0.8zM497.73,102.99l0.69,0.4v0.8l-0.69,0.4l-0.69,-0.4v-0.8zM496.6,103.44l0.69,0.4v0.8l-0.69,0.4l-0.69,-0.4v-0.8zM501.09,104.55l0.69,0.4v0.8l-0.69,0.4l-0.69,-0.4v-0.8zM503.17,108.51l0.69,0.4v0.8l-0.69,0.4l-0.69,-0.4v-0.8zM494.07,107.03l0.69,0.4v0.8l-0.69,0.4l-0.69,-0.4v-0.8zM507.84,99.44l0.69,0.4v0.8l-0.69,0.4l-0.69,-0.4v-0.8zM502.91,106.73l0.69,0.4v0.8l-0.69,0.4l-0.69,-0.4v-0.8zM499.26,109.06l0.69,0.4v0.8l-0.69,0.4l-0.69,-0.4v-0.8zM498.5,106.62l0.69,0.4v0.8l-0.69,0.4l-0.69,-0.4v-0.8zM490.69,108.16l0.69,0.4v0.8l-0.69,0.4l-0.69,-0.4v-0.8zM496.42,97.82l0.69,0.4v0.8l-0.69,0.4l-0.69,-0.4v-0.8zM504.3,98.3l0.69,0.4v0.8l-0.69,0.4l-0.69,-0.4v-0.8zM479.5,115.21l0.69,0.4v0.8l-0.69,0.4l-0.69,-0.4v-0.8zM495.58,114.48l0.69,0.4v0.8l-0.69,0.4l-0.69,-0.4v-0.8zM491,124.67l0.69,0.4v0.8l-0.69,0.4l-0.69,-0.4v-0.8zM474.85,119.85l0.69,0.4v0.8l-0.69,0.4l-0.69,-0.4v-0.8zM488.79,125.88l0.69,0.4v0.8l-0.69,0.4l-0.69,-0.4v-0.8zM477.91,115.96l0.69,0.4v0.8l-0.69,0.4l-0.69,-0.4v-0.8zM486.46,126.67l0.69,0.4v0.8l-0.69,0.4l-0.69,-0.4v-0.8zM490.65,125.09l0.69,0.4v0.8l-0.69,0.4l-0.69,-0.4v-0.8zM472.55,137.77l0.69,0.4v0.8l-0.69,0.4l-0.69,-0.4v-0.8zM481.33,128.24l0.69,0.4v0.8l-0.69,0.4l-0.69,-0.4v-0.8zM486.28,138.37l0.69,0.4v0.8l-0.69,0.4l-0.69,-0.4v-0.8zM490.19,132.21l0.69,0.4v0.8l-0.69,0.4l-0.69,-0.4v-0.8zM476.54,138.44l0.69,0.4v0.8l-0.69,0.4l-0.69,-0.4v-0.8zM475.88,127.11l0.69,0.4v0.8l-0.69,0.4l-0.69,-0.4v-0.8zM476.25,134.65l0.69,0.4v0.8l-0.69,0.4l-0.69,-0.4v-0.8zM464.78,138.77l0.69,0.4v0.8l-0.69,0.4l-0.69,-0.4v-0.8zM488.32,130.84l0.69,0.4v0.8l-0.69,0.4l-0.69,-0.4v-0.8zM478.65,134.07l0.69,0.4v0.8l-0.69,0.4l-0.69,-0.4v-0.8zM467.21,129.16l0.69,0.4v0.8l-0.69,0.4l-0.69,-0.4v-0.8zM467.93,131.22l0.69,0.4v0.8l-0.69,0.4l-0.69,-0.4v-0.8zM484.35,131.91l0.69,0.4v0.8l-0.69,0.4l-0.69,-0.4v-0.8zM466.45,137.46l0.69,0.4v0.8l-0.69,0.4l-0.69,-0.4v-0.8zM478.97,140.48l0.69,0.4v0.8l-0.69,0.4l-0.69,-0.4v-0.8zM472.38,140.47l0.69,0.4v0.8l-0.69,0.4l-0.69,-0.4v-0.8zM461.01,141.65l0.69,0.4v0.8l-0.69,0.4l-0.69,-0.4v-0.8zM480.08,140.61l0.69,0.4v0.8l-0.69,0.4l-0.69,-0.4v-0.8zM463.28,141.95l0.69,0.4v0.8l-0.69,0.4l-0.69,-0.4v-0.8zM468.36,140.42l0.69,0.4v0.8l-0.69,0.4l-0.69,-0.4v-0.8zM479.24,140.68l0.69,0.4v0.8l-0.69,0.4l-0.69,-0.4v-0.8z"/>
<path fill="#762a83" d="M496.41,92.6l0.69,0.4v0.8l-0.69,0.4l-0.69,-0.4v-0.8zM511.44,93.98l0.69,0.4v0.8l-0.69,0.4l-0.69,-0.4v-0.8zM499.06,97.49l0.69,0.4v0.8l-0.69,0.4l-0.69,-0.4v-0.8zM513.18,90.24l0.69,0.4v0.8l-0.69,0.4l-0.69,-0.4v-0.8zM505.22,92.39l0.69,0.4v0.8l-0.69,0.4l-0.69,-0.4v-0.8zM501.54,97.36l0.69,0.4v0.8l-0.69,0.4l-0.69,-0.4v-0.8zM516.28,93.18l0.69,0.4v0.8l-0.69,0.4l-0.69,-0.4v-0.8zM515.78,96.33l0.69,0.4v0.8l-0.69,0.4l-0.69,-0.4v-0.8zM507.27,94.17l0.69,0.4v0.8l-0.69,0.4l-0.69,-0.4v-0.8zM507.23,93.93l0.69,0.4v0.8l-0.69,0.4l-0.69,-0.4v-0.8zM505.18,93.47l0.69,0.4v0.8l-0.69,0.4l-0.69,-0.4v-0.8zM499.44,94.03l0.69,0.4v0.8l-0.69,0.4l-0.69,-0.4v-0.8zM513.3,93.03l0.69,0.4v0.8l-0.69,0.4l-0.69,-0.4v-0.8zM506.84,100.55l0.69,0.4v0.8l-0.69,0.4l-0.69,-0.4v-0.8zM503.73,111.01l0.69,0.4v0.8l-0.69,0.4l-0.69,-0.4v-0.8zM487.93,98.83l0.69,0.4v0.8l-0.69,0.4l-0.69,-0.4v-0.8zM502.73,99.5l0.69,0.4v0.8l-0.69,0.4l-0.69,-0.4v-0.8zM491.07,113.33l0.69,0.4v0.8l-0.69,0.4l-0.69,-0.4v-0.8zM492.72,106.95l0.69,0.4v0.8l-0.69,0.4l-0.69,-0.4v-0.8zM506.62,104.94l0.69,0.4v0.8l-0.69,0.4l-0.69,-0.4v-0.8zM487.31,105.14l0.69,0.4v0.8l-0.69,0.4l-0.69,-0.4v-0.8zM488.21,107.7l0.69,0.4v0.8l-0.69,0.4l-0.69,-0.4v-0.8zM489.25,108.42l0.69,0.4v0.8l-0.69,0.4l-0.69,-0.4v-0.8zM505.97,100.84l0.69,0.4v0.8l-0.69,0.4l-0.69,-0.4v-0.8zM503.9,98.11l0.69,0.4v0.8l-0.69,0.4l-0.69,-0.4v-0.8zM507.22,108.11l0.69,0.4v0.8l-0.69,0.4l-0.69,-0.4v-0.8zM497.72,105.38l0.69,0.4v0.8l-0.69,0.4l-0.69,-0.4v-0.8zM492.63,126.1l0.69,0.4v0.8l-0.69,0.4l-0.69,-0.4v-0.8zM480.98,119.51l0.69,0.4v0.8l-0.69,0.4l-0.69,-0.4v-0.8zM488.07,125.25l0.69,0.4v0.8l-0.69,0.4l-0.69,-0.4v-0.8zM487.96,123.43l0.69,0.4v0.8l-0.69,0.4l-0.69,-0.4v-0.8zM490.98,121.74l0.69,0.4v0.8l-0.69,0.4l-0.69,-0.4v-0.8zM478.16,119.49l0.69,0.4v0.8l-0.69,0.4l-0.69,-0.4v-0.8zM471.69,134.82l0.69,0.4v0.8l-0.69,0.4l-0.69,-0.4v-0.8zM470.33,129.03l0.69,0.4v0.8l-0.69,0.4l-0.69,-0.4v-0.8zM488.51,131.42l0.69,0.4v0.8l-0.69,0.4l-0.69,-0.4v-0.8zM477.82,130.1l0.69,0.4v0.8l-0.69,0.4l-0.69,-0.4v-0.8zM486.01,131.57l0.69,0.4v0.8l-0.69,0.4l-0.69,-0.4v-0.8zM469.64,136.16l0.69,0.4v0.8l-0.69,0.4l-0.69,-0.4v-0.8zM482.9,139.19l0.69,0.4v0.8l-0.69,0.4l-0.69,-0.4v-0.8zM473.38,137.98l0.69,0.4v0.8l-0.69,0.4l-0.69,-0.4v-0.8zM467.87,128.3l0.69,0.4v0.8l-0.69,0.4l-0.69,-0.4v-0.8zM486.4,139.58l0.69,0.4v0.8l-0.69,0.4l-0.69,-0.4v-0.8zM481.26,127.63l0.69,0.4v0.8l-0.69,0.4l-0.69,-0.4v-0.8zM464.6,128.53l0.69,0.4v0.8l-0.69,0.4l-0.69,-0.4v-0.8zM484.34,136.56l0.69,0.4v0.8l-0.69,0.4l-0.69,-0.4v-0.8zM480.42,137.23l0.69,0.4v0.8l-0.69,0.4l-0.69,-0.4v-0.8zM482.92,126.92l0.69,0.4v0.8l-0.69,0.4l-0.69,-0.4v-0.8zM475.03,140.63l0.69,0.4v0.8l-0.69,0.4l-0.69,-0.4v-0.8zM475.71,141.61l0.69,0.4v0.8l-0.69,0.4l-0.69,-0.4v-0.8zM469.63,141.19l0.69,0.4v0.8l-0.69,0.4l-0.69,-0.4v-0.8zM468.25,142.25l0.69,0.4v0.8l-0.69,0.4l-0.69,-0.4v-0.8zM477.36,140.22l0.69,0.4v0.8l-0.69,0.4l-0.69,-0.4v-0.8zM468.66,140.58l0.69,0.4v0.8l-0.69,0.4l-0.69,-0.4v-0.8zM476.44,140.24l0.69,0.4v0.8l-0.69,0.4l-0.69,-0.4v-0.8zM469.14,140.79l0.69,0.4v0.8l-0.69,0.4l-0.69,-0.4v-0.8zM474.96,140.2l0.69,0.4v0.8l-0.69,0.4l-0.69,-0.4v-0.8zM466.22,141.65l0.69,0.4v0.8l-0.69,0.4l-0.69,-0.4v-0.8zM461.14,140.86l0.69,0.4v0.8l-0.69,0.4l-0.69,-0.4v-0.8zM476.34,140.34l0.69,0.4v0.8l-0.69,0.4l-0.69,-0.4v-0.8z"/>
<line x1="457.6" y1="88.6" x2="457.6" y2="146.5" stroke="#555555" stroke-width="0.6" />
<line x1="457.6" y1="146.5" x2="520.2" y2="146.5" stroke="#555555" stroke-width="0.6" />
<line x1="456" y1="91" x2="457.6" y2="91" stroke="#555555" stroke-width="0.5" />
<text x="455" y="92.3" font-size="3.7" text-anchor="end" fill="#333333" stroke="#333333" stroke-width="0.1" >1.0</text>
<line x1="456" y1="101.48" x2="457.6" y2="101.48" stroke="#555555" stroke-width="0.5" />
<text x="455" y="102.78" font-size="3.7" text-anchor="end" fill="#333333" stroke="#333333" stroke-width="0.1" >0.8</text>
<line x1="456" y1="111.96" x2="457.6" y2="111.96" stroke="#555555" stroke-width="0.5" />
<text x="455" y="113.26" font-size="3.7" text-anchor="end" fill="#333333" stroke="#333333" stroke-width="0.1" >0.6</text>
<line x1="456" y1="122.44" x2="457.6" y2="122.44" stroke="#555555" stroke-width="0.5" />
<text x="455" y="123.74" font-size="3.7" text-anchor="end" fill="#333333" stroke="#333333" stroke-width="0.1" >0.4</text>
<line x1="456" y1="132.92" x2="457.6" y2="132.92" stroke="#555555" stroke-width="0.5" />
<text x="455" y="134.22" font-size="3.7" text-anchor="end" fill="#333333" stroke="#333333" stroke-width="0.1" >0.2</text>
<line x1="456" y1="143.4" x2="457.6" y2="143.4" stroke="#555555" stroke-width="0.5" />
<text x="455" y="144.7" font-size="3.7" text-anchor="end" fill="#333333" stroke="#333333" stroke-width="0.1" >0.0</text>
<line x1="460.5" y1="146.5" x2="460.5" y2="148.1" stroke="#555555" stroke-width="0.5" />
<text x="460.5" y="152" font-size="3.7" text-anchor="middle" fill="#333333" stroke="#333333" stroke-width="0.1" >0.00</text>
<line x1="474.8" y1="146.5" x2="474.8" y2="148.1" stroke="#555555" stroke-width="0.5" />
<text x="474.8" y="152" font-size="3.7" text-anchor="middle" fill="#333333" stroke="#333333" stroke-width="0.1" >0.25</text>
<line x1="489.1" y1="146.5" x2="489.1" y2="148.1" stroke="#555555" stroke-width="0.5" />
<text x="489.1" y="152" font-size="3.7" text-anchor="middle" fill="#333333" stroke="#333333" stroke-width="0.1" >0.50</text>
<line x1="503.4" y1="146.5" x2="503.4" y2="148.1" stroke="#555555" stroke-width="0.5" />
<text x="503.4" y="152" font-size="3.7" text-anchor="middle" fill="#333333" stroke="#333333" stroke-width="0.1" >0.75</text>
<line x1="517.7" y1="146.5" x2="517.7" y2="148.1" stroke="#555555" stroke-width="0.5" />
<text x="517.7" y="152" font-size="3.7" text-anchor="middle" fill="#333333" stroke="#333333" stroke-width="0.1" >1.00</text>
<text x="489.1" y="156.6" font-size="3.75" text-anchor="middle" fill="#333333" stroke="#333333" stroke-width="0.1" >DeepsmirUD</text>
<text x="489.1" y="86.2" font-size="4.1" text-anchor="middle" fill="#333333" stroke="#333333" stroke-width="0.1" >Test</text>
<text x="447.9" y="117.2" font-size="3.75" text-anchor="middle" fill="#333333" transform="rotate(-90 447.9 117.2)">LSTMCNN</text>
<rect x="524.0" y="88" width="3.3" height="58.5" fill="url(#cbar)"/>
<line x1="527.3" y1="146.5" x2="528.5" y2="146.5" stroke="#555555" stroke-width="0.4" />
<text x="530.6" y="147.7" font-size="3.2" fill="#333333">10<tspan font-size="2.2" dy="-1.3">0</tspan></text>
<line x1="527.3" y1="99.6" x2="528.5" y2="99.6" stroke="#555555" stroke-width="0.4" />
<text x="530.6" y="100.8" font-size="3.2" fill="#333333">10<tspan font-size="2.2" dy="-1.3">1</tspan></text>
<line x1="527.3" y1="132.6" x2="528.1" y2="132.6" stroke="#555555" stroke-width="0.3" />
<line x1="527.3" y1="123.92" x2="528.1" y2="123.92" stroke="#555555" stroke-width="0.3" />
<line x1="527.3" y1="118.13" x2="528.1" y2="118.13" stroke="#555555" stroke-width="0.3" />
<line x1="527.3" y1="113.5" x2="528.1" y2="113.5" stroke="#555555" stroke-width="0.3" />
<line x1="527.3" y1="110.6" x2="528.1" y2="110.6" stroke="#555555" stroke-width="0.3" />
<line x1="527.3" y1="107.13" x2="528.1" y2="107.13" stroke="#555555" stroke-width="0.3" />
<line x1="527.3" y1="104.81" x2="528.1" y2="104.81" stroke="#555555" stroke-width="0.3" />
<line x1="527.3" y1="103.07" x2="528.1" y2="103.07" stroke="#555555" stroke-width="0.3" />
<line x1="527.3" y1="101.34" x2="528.1" y2="101.34" stroke="#555555" stroke-width="0.3" />
<text x="540.6" y="117.55" font-size="4.0" text-anchor="middle" fill="#333333" transform="rotate(-90 540.6 117.55)">log10(N)</text>
<path d="M463.74,186.1 L464.54,186.08 L465.34,186.02 L466.14,185.92 L466.94,185.8 L467.74,185.66 L468.55,185.48 L469.35,185.16 L470.15,184.72 L470.95,184.19 L471.75,183.6 L472.55,182.96 L473.35,182.11 L474.15,181.06 L474.95,179.91 L475.75,178.77 L476.55,177.76 L477.36,176.83 L478.16,175.81 L478.96,174.88 L479.76,174.18 L480.56,173.9 L481.36,173.98 L482.16,174.21 L482.96,174.53 L483.76,174.9 L484.56,175.28 L485.36,175.61 L486.17,175.93 L486.97,176.27 L487.77,176.63 L488.57,176.99 L489.37,177.33 L490.17,177.64 L490.97,177.9 L491.77,178.09 L492.57,178.24 L493.37,178.38 L494.17,178.52 L494.98,178.64 L495.78,178.74 L496.58,178.82 L497.38,178.88 L498.18,178.9 L498.98,178.87 L499.78,178.78 L500.58,178.63 L501.38,178.44 L502.18,178.23 L502.98,177.97 L503.78,177.52 L504.59,176.9 L505.39,176.15 L506.19,175.34 L506.99,174.5 L507.79,173.7 L508.59,172.99 L509.39,172.39 L510.19,171.79 L510.99,171.16 L511.79,170.54 L512.59,169.96 L513.4,169.47 L514.2,169.08 L515,168.85 L515.8,168.81 L516.6,168.98 L517.4,169.35 L518.2,169.87 L519,170.5 L519.8,171.21 L520.6,171.95 L521.4,172.82 L522.21,174.02 L523.01,175.43 L523.81,176.91 L524.61,178.33 L525.41,179.61 L526.21,180.94 L527.01,182.24 L527.81,183.36 L528.61,184.16 L529.41,184.74 L530.21,185.25 L531.02,185.64 L531.82,185.87 L532.62,185.97 L533.42,186.04 L534.22,186.08 L535.02,186.1 L535.02,186.1 L463.74,186.1 Z" fill="#1db596"/>
<line x1="453" y1="186.1" x2="544.5" y2="186.1" stroke="#8a8a8a" stroke-width="0.75" />
<polyline points="463.74,186.1 464.54,186.08 465.34,186.02 466.14,185.92 466.94,185.8 467.74,185.66 468.55,185.48 469.35,185.16 470.15,184.72 470.95,184.19 471.75,183.6 472.55,182.96 473.35,182.11 474.15,181.06 474.95,179.91 475.75,178.77 476.55,177.76 477.36,176.83 478.16,175.81 478.96,174.88 479.76,174.18 480.56,173.9 481.36,173.98 482.16,174.21 482.96,174.53 483.76,174.9 484.56,175.28 485.36,175.61 486.17,175.93 486.97,176.27 487.77,176.63 488.57,176.99 489.37,177.33 490.17,177.64 490.97,177.9 491.77,178.09 492.57,178.24 493.37,178.38 494.17,178.52 494.98,178.64 495.78,178.74 496.58,178.82 497.38,178.88 498.18,178.9 498.98,178.87 499.78,178.78 500.58,178.63 501.38,178.44 502.18,178.23 502.98,177.97 503.78,177.52 504.59,176.9 505.39,176.15 506.19,175.34 506.99,174.5 507.79,173.7 508.59,172.99 509.39,172.39 510.19,171.79 510.99,171.16 511.79,170.54 512.59,169.96 513.4,169.47 514.2,169.08 515,168.85 515.8,168.81 516.6,168.98 517.4,169.35 518.2,169.87 519,170.5 519.8,171.21 520.6,171.95 521.4,172.82 522.21,174.02 523.01,175.43 523.81,176.91 524.61,178.33 525.41,179.61 526.21,180.94 527.01,182.24 527.81,183.36 528.61,184.16 529.41,184.74 530.21,185.25 531.02,185.64 531.82,185.87 532.62,185.97 533.42,186.04 534.22,186.08 535.02,186.1" fill="none" stroke="#3a3a3a" stroke-width="0.5" stroke-linejoin="round" />
<text x="453.5" y="181.7" font-size="3.0" text-anchor="start" fill="#333" >AlexNet</text>
<path d="M468.06,200.3 L468.75,200.26 L469.44,200.14 L470.13,199.97 L470.82,199.75 L471.51,199.5 L472.2,199.11 L472.88,198.49 L473.57,197.73 L474.26,196.94 L474.95,196.2 L475.64,195.6 L476.33,194.98 L477.02,194.34 L477.71,193.74 L478.4,193.25 L479.09,192.91 L479.78,192.8 L480.47,192.88 L481.16,193.03 L481.85,193.19 L482.53,193.29 L483.22,193.27 L483.91,193.11 L484.6,192.86 L485.29,192.53 L485.98,192.16 L486.67,191.77 L487.36,191.38 L488.05,190.99 L488.74,190.54 L489.43,190.05 L490.12,189.52 L490.81,188.97 L491.49,188.39 L492.18,187.8 L492.87,187.22 L493.56,186.64 L494.25,186.08 L494.94,185.49 L495.63,184.87 L496.32,184.23 L497.01,183.6 L497.7,182.97 L498.39,182.36 L499.08,181.79 L499.77,181.27 L500.46,180.8 L501.14,180.35 L501.83,179.87 L502.52,179.42 L503.21,179.03 L503.9,178.75 L504.59,178.61 L505.28,178.67 L505.97,178.98 L506.66,179.47 L507.35,180.09 L508.04,180.77 L508.73,181.45 L509.42,182.1 L510.1,182.87 L510.79,183.73 L511.48,184.63 L512.17,185.49 L512.86,186.27 L513.55,186.91 L514.24,187.4 L514.93,187.83 L515.62,188.23 L516.31,188.67 L517,189.2 L517.69,189.83 L518.38,190.54 L519.07,191.31 L519.75,192.12 L520.44,193.03 L521.13,194.1 L521.82,195.22 L522.51,196.27 L523.2,197.14 L523.89,197.81 L524.58,198.43 L525.27,198.98 L525.96,199.43 L526.65,199.75 L527.34,199.95 L528.03,200.13 L528.71,200.25 L529.4,200.3 L529.4,200.3 L468.06,200.3 Z" fill="#fa8a5e"/>
<line x1="453" y1="200.3" x2="544.5" y2="200.3" stroke="#8a8a8a" stroke-width="0.75" />
<polyline points="468.06,200.3 468.75,200.26 469.44,200.14 470.13,199.97 470.82,199.75 471.51,199.5 472.2,199.11 472.88,198.49 473.57,197.73 474.26,196.94 474.95,196.2 475.64,195.6 476.33,194.98 477.02,194.34 477.71,193.74 478.4,193.25 479.09,192.91 479.78,192.8 480.47,192.88 481.16,193.03 481.85,193.19 482.53,193.29 483.22,193.27 483.91,193.11 484.6,192.86 485.29,192.53 485.98,192.16 486.67,191.77 487.36,191.38 488.05,190.99 488.74,190.54 489.43,190.05 490.12,189.52 490.81,188.97 491.49,188.39 492.18,187.8 492.87,187.22 493.56,186.64 494.25,186.08 494.94,185.49 495.63,184.87 496.32,184.23 497.01,183.6 497.7,182.97 498.39,182.36 499.08,181.79 499.77,181.27 500.46,180.8 501.14,180.35 501.83,179.87 502.52,179.42 503.21,179.03 503.9,178.75 504.59,178.61 505.28,178.67 505.97,178.98 506.66,179.47 507.35,180.09 508.04,180.77 508.73,181.45 509.42,182.1 510.1,182.87 510.79,183.73 511.48,184.63 512.17,185.49 512.86,186.27 513.55,186.91 514.24,187.4 514.93,187.83 515.62,188.23 516.31,188.67 517,189.2 517.69,189.83 518.38,190.54 519.07,191.31 519.75,192.12 520.44,193.03 521.13,194.1 521.82,195.22 522.51,196.27 523.2,197.14 523.89,197.81 524.58,198.43 525.27,198.98 525.96,199.43 526.65,199.75 527.34,199.95 528.03,200.13 528.71,200.25 529.4,200.3" fill="none" stroke="#3a3a3a" stroke-width="0.5" stroke-linejoin="round" />
<text x="453.5" y="195.9" font-size="3.0" text-anchor="start" fill="#333" >BiRNN</text>
<path d="M465.9,214.5 L466.6,214.45 L467.31,214.33 L468.01,214.15 L468.72,213.92 L469.42,213.68 L470.12,213.29 L470.83,212.72 L471.53,212.05 L472.23,211.36 L472.94,210.73 L473.64,210.2 L474.35,209.63 L475.05,209.04 L475.75,208.51 L476.46,208.09 L477.16,207.84 L477.86,207.81 L478.57,207.9 L479.27,208.05 L479.98,208.19 L480.68,208.29 L481.38,208.27 L482.09,208.08 L482.79,207.73 L483.5,207.29 L484.2,206.79 L484.9,206.29 L485.61,205.83 L486.31,205.34 L487.01,204.82 L487.72,204.27 L488.42,203.69 L489.13,203.08 L489.83,202.44 L490.53,201.77 L491.24,201.09 L491.94,200.37 L492.65,199.56 L493.35,198.63 L494.05,197.64 L494.76,196.65 L495.46,195.69 L496.16,194.83 L496.87,194.12 L497.57,193.51 L498.28,192.89 L498.98,192.32 L499.68,191.86 L500.39,191.57 L501.09,191.51 L501.79,191.67 L502.5,191.99 L503.2,192.43 L503.91,192.96 L504.61,193.52 L505.31,194.08 L506.02,194.76 L506.72,195.6 L507.43,196.54 L508.13,197.53 L508.83,198.53 L509.54,199.48 L510.24,200.33 L510.94,201.09 L511.65,201.86 L512.35,202.6 L513.06,203.29 L513.76,203.89 L514.46,204.36 L515.17,204.7 L515.87,204.94 L516.58,205.14 L517.28,205.35 L517.98,205.61 L518.69,205.99 L519.39,206.49 L520.09,207.09 L520.8,207.75 L521.5,208.45 L522.21,209.15 L522.91,209.97 L523.61,210.9 L524.32,211.8 L525.02,212.59 L525.72,213.14 L526.43,213.6 L527.13,213.99 L527.84,214.3 L528.54,214.5 L528.54,214.5 L465.9,214.5 Z" fill="#8c9fcb"/>
<line x1="453" y1="214.5" x2="544.5" y2="214.5" stroke="#8a8a8a" stroke-width="0.75" />
<polyline points="465.9,214.5 466.6,214.45 467.31,214.33 468.01,214.15 468.72,213.92 469.42,213.68 470.12,213.29 470.83,212.72 471.53,212.05 472.23,211.36 472.94,210.73 473.64,210.2 474.35,209.63 475.05,209.04 475.75,208.51 476.46,208.09 477.16,207.84 477.86,207.81 478.57,207.9 479.27,208.05 479.98,208.19 480.68,208.29 481.38,208.27 482.09,208.08 482.79,207.73 483.5,207.29 484.2,206.79 484.9,206.29 485.61,205.83 486.31,205.34 487.01,204.82 487.72,204.27 488.42,203.69 489.13,203.08 489.83,202.44 490.53,201.77 491.24,201.09 491.94,200.37 492.65,199.56 493.35,198.63 494.05,197.64 494.76,196.65 495.46,195.69 496.16,194.83 496.87,194.12 497.57,193.51 498.28,192.89 498.98,192.32 499.68,191.86 500.39,191.57 501.09,191.51 501.79,191.67 502.5,191.99 503.2,192.43 503.91,192.96 504.61,193.52 505.31,194.08 506.02,194.76 506.72,195.6 507.43,196.54 508.13,197.53 508.83,198.53 509.54,199.48 510.24,200.33 510.94,201.09 511.65,201.86 512.35,202.6 513.06,203.29 513.76,203.89 514.46,204.36 515.17,204.7 515.87,204.94 516.58,205.14 517.28,205.35 517.98,205.61 518.69,205.99 519.39,206.49 520.09,207.09 520.8,207.75 521.5,208.45 522.21,209.15 522.91,209.97 523.61,210.9 524.32,211.8 525.02,212.59 525.72,213.14 526.43,213.6 527.13,213.99 527.84,214.3 528.54,214.5" fill="none" stroke="#3a3a3a" stroke-width="0.5" stroke-linejoin="round" />
<text x="453.5" y="210.1" font-size="3.0" text-anchor="start" fill="#333" >RNN</text>
<path d="M470.22,228.7 L470.86,228.63 L471.49,228.47 L472.13,228.22 L472.76,227.93 L473.4,227.62 L474.04,227.13 L474.67,226.48 L475.31,225.74 L475.94,224.99 L476.58,224.31 L477.21,223.67 L477.85,222.96 L478.49,222.35 L479.12,222.02 L479.76,222.11 L480.39,222.51 L481.03,223.06 L481.67,223.57 L482.3,223.94 L482.94,224.33 L483.57,224.71 L484.21,225.03 L484.84,225.24 L485.48,225.29 L486.12,225.14 L486.75,224.82 L487.39,224.38 L488.02,223.86 L488.66,223.32 L489.3,222.73 L489.93,222.01 L490.57,221.16 L491.2,220.21 L491.84,219.17 L492.48,218.07 L493.11,216.85 L493.75,215.35 L494.38,213.66 L495.02,211.92 L495.65,210.24 L496.29,208.76 L496.93,207.52 L497.56,206.23 L498.2,204.95 L498.83,203.76 L499.47,202.76 L500.11,202.05 L500.74,201.71 L501.38,201.83 L502.01,202.34 L502.65,203.15 L503.28,204.15 L503.92,205.25 L504.56,206.34 L505.19,207.42 L505.83,208.76 L506.46,210.26 L507.1,211.81 L507.74,213.3 L508.37,214.59 L509.01,215.59 L509.64,216.32 L510.28,216.99 L510.92,217.6 L511.55,218.14 L512.19,218.6 L512.82,218.96 L513.46,219.21 L514.09,219.38 L514.73,219.5 L515.37,219.59 L516,219.69 L516.64,219.81 L517.27,219.99 L517.91,220.3 L518.55,220.8 L519.18,221.43 L519.82,222.14 L520.45,222.88 L521.09,223.59 L521.73,224.3 L522.36,225.11 L523,225.92 L523.63,226.66 L524.27,227.24 L524.9,227.7 L525.54,228.11 L526.18,228.45 L526.81,228.7 L526.81,228.7 L470.22,228.7 Z" fill="#ea88c2"/>
<line x1="453" y1="228.7" x2="544.5" y2="228.7" stroke="#8a8a8a" stroke-width="0.75" />
<polyline points="470.22,228.7 470.86,228.63 471.49,228.47 472.13,228.22 472.76,227.93 473.4,227.62 474.04,227.13 474.67,226.48 475.31,225.74 475.94,224.99 476.58,224.31 477.21,223.67 477.85,222.96 478.49,222.35 479.12,222.02 479.76,222.11 480.39,222.51 481.03,223.06 481.67,223.57 482.3,223.94 482.94,224.33 483.57,224.71 484.21,225.03 484.84,225.24 485.48,225.29 486.12,225.14 486.75,224.82 487.39,224.38 488.02,223.86 488.66,223.32 489.3,222.73 489.93,222.01 490.57,221.16 491.2,220.21 491.84,219.17 492.48,218.07 493.11,216.85 493.75,215.35 494.38,213.66 495.02,211.92 495.65,210.24 496.29,208.76 496.93,207.52 497.56,206.23 498.2,204.95 498.83,203.76 499.47,202.76 500.11,202.05 500.74,201.71 501.38,201.83 502.01,202.34 502.65,203.15 503.28,204.15 503.92,205.25 504.56,206.34 505.19,207.42 505.83,208.76 506.46,210.26 507.1,211.81 507.74,213.3 508.37,214.59 509.01,215.59 509.64,216.32 510.28,216.99 510.92,217.6 511.55,218.14 512.19,218.6 512.82,218.96 513.46,219.21 514.09,219.38 514.73,219.5 515.37,219.59 516,219.69 516.64,219.81 517.27,219.99 517.91,220.3 518.55,220.8 519.18,221.43 519.82,222.14 520.45,222.88 521.09,223.59 521.73,224.3 522.36,225.11 523,225.92 523.63,226.66 524.27,227.24 524.9,227.7 525.54,228.11 526.18,228.45 526.81,228.7" fill="none" stroke="#3a3a3a" stroke-width="0.5" stroke-linejoin="round" />
<text x="453.5" y="224.3" font-size="3.0" text-anchor="start" fill="#333" >Seq2Seq</text>
<path d="M467.2,242.9 L467.91,242.82 L468.62,242.67 L469.34,242.48 L470.05,242.26 L470.76,241.98 L471.48,241.58 L472.19,241.1 L472.9,240.57 L473.62,240.04 L474.33,239.54 L475.04,239.07 L475.76,238.57 L476.47,238.08 L477.19,237.62 L477.9,237.23 L478.61,236.93 L479.33,236.69 L480.04,236.49 L480.75,236.34 L481.47,236.25 L482.18,236.19 L482.89,236.14 L483.61,236.09 L484.32,236.02 L485.03,235.9 L485.75,235.73 L486.46,235.5 L487.17,235.24 L487.89,234.96 L488.6,234.68 L489.32,234.38 L490.03,234.06 L490.74,233.71 L491.46,233.34 L492.17,232.95 L492.88,232.54 L493.6,232.13 L494.31,231.7 L495.02,231.23 L495.74,230.73 L496.45,230.21 L497.16,229.7 L497.88,229.2 L498.59,228.73 L499.3,228.32 L500.02,227.92 L500.73,227.52 L501.45,227.14 L502.16,226.79 L502.87,226.5 L503.59,226.28 L504.3,226.12 L505.01,225.99 L505.73,225.87 L506.44,225.78 L507.15,225.72 L507.87,225.7 L508.58,225.76 L509.29,225.89 L510.01,226.09 L510.72,226.34 L511.43,226.62 L512.15,226.91 L512.86,227.28 L513.58,227.76 L514.29,228.34 L515,228.99 L515.72,229.68 L516.43,230.39 L517.14,231.16 L517.86,232.06 L518.57,233.02 L519.28,234 L520,234.96 L520.71,235.84 L521.42,236.66 L522.14,237.47 L522.85,238.27 L523.56,239.02 L524.28,239.71 L524.99,240.33 L525.71,240.9 L526.42,241.46 L527.13,241.96 L527.85,242.36 L528.56,242.6 L529.27,242.75 L529.99,242.86 L530.7,242.9 L530.7,242.9 L467.2,242.9 Z" fill="#a4d553"/>
<line x1="453" y1="242.9" x2="544.5" y2="242.9" stroke="#8a8a8a" stroke-width="0.75" />
<polyline points="467.2,242.9 467.91,242.82 468.62,242.67 469.34,242.48 470.05,242.26 470.76,241.98 471.48,241.58 472.19,241.1 472.9,240.57 473.62,240.04 474.33,239.54 475.04,239.07 475.76,238.57 476.47,238.08 477.19,237.62 477.9,237.23 478.61,236.93 479.33,236.69 480.04,236.49 480.75,236.34 481.47,236.25 482.18,236.19 482.89,236.14 483.61,236.09 484.32,236.02 485.03,235.9 485.75,235.73 486.46,235.5 487.17,235.24 487.89,234.96 488.6,234.68 489.32,234.38 490.03,234.06 490.74,233.71 491.46,233.34 492.17,232.95 492.88,232.54 493.6,232.13 494.31,231.7 495.02,231.23 495.74,230.73 496.45,230.21 497.16,229.7 497.88,229.2 498.59,228.73 499.3,228.32 500.02,227.92 500.73,227.52 501.45,227.14 502.16,226.79 502.87,226.5 503.59,226.28 504.3,226.12 505.01,225.99 505.73,225.87 506.44,225.78 507.15,225.72 507.87,225.7 508.58,225.76 509.29,225.89 510.01,226.09 510.72,226.34 511.43,226.62 512.15,226.91 512.86,227.28 513.58,227.76 514.29,228.34 515,228.99 515.72,229.68 516.43,230.39 517.14,231.16 517.86,232.06 518.57,233.02 519.28,234 520,234.96 520.71,235.84 521.42,236.66 522.14,237.47 522.85,238.27 523.56,239.02 524.28,239.71 524.99,240.33 525.71,240.9 526.42,241.46 527.13,241.96 527.85,242.36 528.56,242.6 529.27,242.75 529.99,242.86 530.7,242.9" fill="none" stroke="#3a3a3a" stroke-width="0.5" stroke-linejoin="round" />
<text x="453.5" y="238.5" font-size="3.0" text-anchor="start" fill="#333" >CNN</text>
<path d="M466.76,257.1 L467.46,257 L468.15,256.75 L468.85,256.4 L469.54,255.98 L470.23,255.28 L470.93,254.28 L471.62,253.09 L472.32,251.81 L473.01,250.52 L473.71,249.24 L474.4,247.79 L475.09,246.27 L475.79,244.79 L476.48,243.47 L477.18,242.32 L477.87,241.19 L478.56,240.23 L479.26,239.62 L479.95,239.28 L480.65,239.02 L481.34,238.9 L482.03,238.97 L482.73,239.21 L483.42,239.55 L484.12,239.92 L484.81,240.27 L485.51,240.67 L486.2,241.12 L486.89,241.6 L487.59,242.1 L488.28,242.61 L488.98,243.12 L489.67,243.61 L490.36,244.1 L491.06,244.62 L491.75,245.15 L492.45,245.65 L493.14,246.12 L493.83,246.52 L494.53,246.88 L495.22,247.23 L495.92,247.56 L496.61,247.85 L497.3,248.09 L498,248.26 L498.69,248.35 L499.39,248.42 L500.08,248.48 L500.78,248.54 L501.47,248.57 L502.16,248.6 L502.86,248.6 L503.55,248.6 L504.25,248.6 L504.94,248.6 L505.63,248.6 L506.33,248.6 L507.02,248.6 L507.72,248.6 L508.41,248.6 L509.1,248.6 L509.8,248.6 L510.49,248.6 L511.19,248.6 L511.88,248.6 L512.58,248.61 L513.27,248.61 L513.96,248.63 L514.66,248.64 L515.35,248.66 L516.05,248.69 L516.74,248.72 L517.43,248.76 L518.13,248.8 L518.82,249.06 L519.52,249.7 L520.21,250.49 L520.9,251.24 L521.6,252.05 L522.29,252.95 L522.99,253.84 L523.68,254.62 L524.38,255.22 L525.07,255.7 L525.76,256.13 L526.46,256.49 L527.15,256.77 L527.85,256.97 L528.54,257.1 L528.54,257.1 L466.76,257.1 Z" fill="#ffd92f"/>
<line x1="453" y1="257.1" x2="544.5" y2="257.1" stroke="#8a8a8a" stroke-width="0.75" />
<polyline points="466.76,257.1 467.46,257 468.15,256.75 468.85,256.4 469.54,255.98 470.23,255.28 470.93,254.28 471.62,253.09 472.32,251.81 473.01,250.52 473.71,249.24 474.4,247.79 475.09,246.27 475.79,244.79 476.48,243.47 477.18,242.32 477.87,241.19 478.56,240.23 479.26,239.62 479.95,239.28 480.65,239.02 481.34,238.9 482.03,238.97 482.73,239.21 483.42,239.55 484.12,239.92 484.81,240.27 485.51,240.67 486.2,241.12 486.89,241.6 487.59,242.1 488.28,242.61 488.98,243.12 489.67,243.61 490.36,244.1 491.06,244.62 491.75,245.15 492.45,245.65 493.14,246.12 493.83,246.52 494.53,246.88 495.22,247.23 495.92,247.56 496.61,247.85 497.3,248.09 498,248.26 498.69,248.35 499.39,248.42 500.08,248.48 500.78,248.54 501.47,248.57 502.16,248.6 502.86,248.6 503.55,248.6 504.25,248.6 504.94,248.6 505.63,248.6 506.33,248.6 507.02,248.6 507.72,248.6 508.41,248.6 509.1,248.6 509.8,248.6 510.49,248.6 511.19,248.6 511.88,248.6 512.58,248.61 513.27,248.61 513.96,248.63 514.66,248.64 515.35,248.66 516.05,248.69 516.74,248.72 517.43,248.76 518.13,248.8 518.82,249.06 519.52,249.7 520.21,250.49 520.9,251.24 521.6,252.05 522.29,252.95 522.99,253.84 523.68,254.62 524.38,255.22 525.07,255.7 525.76,256.13 526.46,256.49 527.15,256.77 527.85,256.97 528.54,257.1" fill="none" stroke="#3a3a3a" stroke-width="0.5" stroke-linejoin="round" />
<text x="453.5" y="252.7" font-size="3.0" text-anchor="start" fill="#333" >ConvMixer64</text>
<path d="M469.79,271.3 L470.44,271.22 L471.09,270.99 L471.74,270.67 L472.39,270.29 L473.04,269.62 L473.69,268.57 L474.34,267.38 L474.99,266.31 L475.64,265.55 L476.29,264.86 L476.94,264.31 L477.59,264.1 L478.24,264.32 L478.89,264.84 L479.54,265.51 L480.19,266.18 L480.85,266.7 L481.5,267.03 L482.15,267.34 L482.8,267.64 L483.45,267.9 L484.1,268.13 L484.75,268.29 L485.4,268.38 L486.05,268.38 L486.7,268.23 L487.35,267.94 L488,267.55 L488.65,267.08 L489.3,266.58 L489.95,266.05 L490.6,265.34 L491.25,264.45 L491.9,263.43 L492.55,262.32 L493.2,261.16 L493.85,259.99 L494.5,258.86 L495.15,257.78 L495.81,256.62 L496.46,255.39 L497.11,254.13 L497.76,252.88 L498.41,251.69 L499.06,250.6 L499.71,249.66 L500.36,248.9 L501.01,248.28 L501.66,247.66 L502.31,247.09 L502.96,246.59 L503.61,246.2 L504.26,245.96 L504.91,245.91 L505.56,246.16 L506.21,246.73 L506.86,247.52 L507.51,248.47 L508.16,249.5 L508.81,250.55 L509.46,252 L510.11,253.87 L510.76,255.89 L511.42,257.83 L512.07,259.45 L512.72,260.51 L513.37,261.32 L514.02,262.05 L514.67,262.68 L515.32,263.19 L515.97,263.59 L516.62,263.86 L517.27,264.02 L517.92,264.14 L518.57,264.25 L519.22,264.42 L519.87,264.7 L520.52,265.23 L521.17,265.9 L521.82,266.62 L522.47,267.28 L523.12,267.91 L523.77,268.56 L524.42,269.2 L525.07,269.77 L525.72,270.24 L526.38,270.65 L527.03,271.01 L527.68,271.3 L527.68,271.3 L469.79,271.3 Z" fill="#e8c597"/>
<line x1="453" y1="271.3" x2="544.5" y2="271.3" stroke="#8a8a8a" stroke-width="0.75" />
<polyline points="469.79,271.3 470.44,271.22 471.09,270.99 471.74,270.67 472.39,270.29 473.04,269.62 473.69,268.57 474.34,267.38 474.99,266.31 475.64,265.55 476.29,264.86 476.94,264.31 477.59,264.1 478.24,264.32 478.89,264.84 479.54,265.51 480.19,266.18 480.85,266.7 481.5,267.03 482.15,267.34 482.8,267.64 483.45,267.9 484.1,268.13 484.75,268.29 485.4,268.38 486.05,268.38 486.7,268.23 487.35,267.94 488,267.55 488.65,267.08 489.3,266.58 489.95,266.05 490.6,265.34 491.25,264.45 491.9,263.43 492.55,262.32 493.2,261.16 493.85,259.99 494.5,258.86 495.15,257.78 495.81,256.62 496.46,255.39 497.11,254.13 497.76,252.88 498.41,251.69 499.06,250.6 499.71,249.66 500.36,248.9 501.01,248.28 501.66,247.66 502.31,247.09 502.96,246.59 503.61,246.2 504.26,245.96 504.91,245.91 505.56,246.16 506.21,246.73 506.86,247.52 507.51,248.47 508.16,249.5 508.81,250.55 509.46,252 510.11,253.87 510.76,255.89 511.42,257.83 512.07,259.45 512.72,260.51 513.37,261.32 514.02,262.05 514.67,262.68 515.32,263.19 515.97,263.59 516.62,263.86 517.27,264.02 517.92,264.14 518.57,264.25 519.22,264.42 519.87,264.7 520.52,265.23 521.17,265.9 521.82,266.62 522.47,267.28 523.12,267.91 523.77,268.56 524.42,269.2 525.07,269.77 525.72,270.24 526.38,270.65 527.03,271.01 527.68,271.3" fill="none" stroke="#3a3a3a" stroke-width="0.5" stroke-linejoin="round" />
<text x="453.5" y="266.9" font-size="3.0" text-anchor="start" fill="#333" >DSConv</text>
<path d="M468.06,285.5 L468.75,285.39 L469.44,285.09 L470.13,284.64 L470.82,284.1 L471.51,283.51 L472.2,282.66 L472.88,281.43 L473.57,280.03 L474.26,278.66 L474.95,277.53 L475.64,276.54 L476.33,275.53 L477.02,274.62 L477.71,273.97 L478.4,273.7 L479.09,273.75 L479.78,273.88 L480.47,274.07 L481.16,274.29 L481.85,274.54 L482.53,274.78 L483.22,275.07 L483.91,275.43 L484.6,275.81 L485.29,276.21 L485.98,276.6 L486.67,276.95 L487.36,277.25 L488.05,277.49 L488.74,277.71 L489.43,277.93 L490.12,278.13 L490.81,278.32 L491.49,278.49 L492.18,278.65 L492.87,278.8 L493.56,278.93 L494.25,279.04 L494.94,279.16 L495.63,279.27 L496.32,279.38 L497.01,279.48 L497.7,279.57 L498.39,279.65 L499.08,279.72 L499.77,279.77 L500.46,279.79 L501.14,279.8 L501.83,279.74 L502.52,279.63 L503.21,279.48 L503.9,279.29 L504.59,279.06 L505.28,278.81 L505.97,278.54 L506.66,278.2 L507.35,277.71 L508.04,277.08 L508.73,276.36 L509.42,275.59 L510.1,274.79 L510.79,274.01 L511.48,273.26 L512.17,272.46 L512.86,271.61 L513.55,270.74 L514.24,269.9 L514.93,269.13 L515.62,268.47 L516.31,267.8 L517,267.16 L517.69,266.71 L518.38,266.62 L519.07,266.96 L519.75,267.62 L520.44,268.48 L521.13,269.41 L521.82,270.58 L522.51,272.17 L523.2,273.96 L523.89,275.73 L524.58,277.32 L525.27,278.95 L525.96,280.54 L526.65,281.98 L527.34,283.14 L528.03,284.08 L528.71,284.88 L529.4,285.5 L529.4,285.5 L468.06,285.5 Z" fill="#b5b5b5"/>
<line x1="453" y1="285.5" x2="544.5" y2="285.5" stroke="#8a8a8a" stroke-width="0.75" />
<polyline points="468.06,285.5 468.75,285.39 469.44,285.09 470.13,284.64 470.82,284.1 471.51,283.51 472.2,282.66 472.88,281.43 473.57,280.03 474.26,278.66 474.95,277.53 475.64,276.54 476.33,275.53 477.02,274.62 477.71,273.97 478.4,273.7 479.09,273.75 479.78,273.88 480.47,274.07 481.16,274.29 481.85,274.54 482.53,274.78 483.22,275.07 483.91,275.43 484.6,275.81 485.29,276.21 485.98,276.6 486.67,276.95 487.36,277.25 488.05,277.49 488.74,277.71 489.43,277.93 490.12,278.13 490.81,278.32 491.49,278.49 492.18,278.65 492.87,278.8 493.56,278.93 494.25,279.04 494.94,279.16 495.63,279.27 496.32,279.38 497.01,279.48 497.7,279.57 498.39,279.65 499.08,279.72 499.77,279.77 500.46,279.79 501.14,279.8 501.83,279.74 502.52,279.63 503.21,279.48 503.9,279.29 504.59,279.06 505.28,278.81 505.97,278.54 506.66,278.2 507.35,277.71 508.04,277.08 508.73,276.36 509.42,275.59 510.1,274.79 510.79,274.01 511.48,273.26 512.17,272.46 512.86,271.61 513.55,270.74 514.24,269.9 514.93,269.13 515.62,268.47 516.31,267.8 517,267.16 517.69,266.71 518.38,266.62 519.07,266.96 519.75,267.62 520.44,268.48 521.13,269.41 521.82,270.58 522.51,272.17 523.2,273.96 523.89,275.73 524.58,277.32 525.27,278.95 525.96,280.54 526.65,281.98 527.34,283.14 528.03,284.08 528.71,284.88 529.4,285.5" fill="none" stroke="#3a3a3a" stroke-width="0.5" stroke-linejoin="round" />
<text x="453.5" y="281.1" font-size="3.0" text-anchor="start" fill="#333" >LSTMCNN</text>
<path d="M463.74,299.7 L464.53,299.64 L465.31,299.45 L466.1,299.18 L466.89,298.82 L467.67,298.42 L468.46,297.91 L469.24,296.99 L470.03,295.74 L470.82,294.34 L471.6,292.93 L472.39,291.69 L473.18,290.44 L473.96,289.05 L474.75,287.66 L475.54,286.39 L476.32,285.39 L477.11,284.8 L477.89,284.72 L478.68,284.92 L479.47,285.28 L480.25,285.73 L481.04,286.21 L481.83,286.84 L482.61,287.67 L483.4,288.62 L484.18,289.55 L484.97,290.38 L485.76,291.03 L486.54,291.64 L487.33,292.22 L488.12,292.77 L488.9,293.27 L489.69,293.69 L490.48,294.04 L491.26,294.29 L492.05,294.52 L492.83,294.74 L493.62,294.94 L494.41,295.13 L495.19,295.29 L495.98,295.42 L496.77,295.52 L497.55,295.58 L498.34,295.6 L499.13,295.58 L499.91,295.53 L500.7,295.46 L501.48,295.36 L502.27,295.23 L503.06,295.08 L503.84,294.92 L504.63,294.74 L505.42,294.46 L506.2,293.98 L506.99,293.32 L507.77,292.55 L508.56,291.7 L509.35,290.82 L510.13,289.97 L510.92,289.13 L511.71,288.15 L512.49,287.12 L513.28,286.12 L514.07,285.25 L514.85,284.6 L515.64,284.03 L516.42,283.5 L517.21,283.08 L518,282.83 L518.78,282.85 L519.57,283.23 L520.36,283.87 L521.14,284.68 L521.93,285.56 L522.72,286.59 L523.5,288.02 L524.29,289.67 L525.07,291.35 L525.86,292.87 L526.65,294.08 L527.43,295.21 L528.22,296.29 L529.01,297.26 L529.79,298.06 L530.58,298.64 L531.36,299.03 L532.15,299.37 L532.94,299.61 L533.72,299.7 L533.72,299.7 L463.74,299.7 Z" fill="#1db596"/>
<line x1="453" y1="299.7" x2="544.5" y2="299.7" stroke="#8a8a8a" stroke-width="0.75" />
<polyline points="463.74,299.7 464.53,299.64 465.31,299.45 466.1,299.18 466.89,298.82 467.67,298.42 468.46,297.91 469.24,296.99 470.03,295.74 470.82,294.34 471.6,292.93 472.39,291.69 473.18,290.44 473.96,289.05 474.75,287.66 475.54,286.39 476.32,285.39 477.11,284.8 477.89,284.72 478.68,284.92 479.47,285.28 480.25,285.73 481.04,286.21 481.83,286.84 482.61,287.67 483.4,288.62 484.18,289.55 484.97,290.38 485.76,291.03 486.54,291.64 487.33,292.22 488.12,292.77 488.9,293.27 489.69,293.69 490.48,294.04 491.26,294.29 492.05,294.52 492.83,294.74 493.62,294.94 494.41,295.13 495.19,295.29 495.98,295.42 496.77,295.52 497.55,295.58 498.34,295.6 499.13,295.58 499.91,295.53 500.7,295.46 501.48,295.36 502.27,295.23 503.06,295.08 503.84,294.92 504.63,294.74 505.42,294.46 506.2,293.98 506.99,293.32 507.77,292.55 508.56,291.7 509.35,290.82 510.13,289.97 510.92,289.13 511.71,288.15 512.49,287.12 513.28,286.12 514.07,285.25 514.85,284.6 515.64,284.03 516.42,283.5 517.21,283.08 518,282.83 518.78,282.85 519.57,283.23 520.36,283.87 521.14,284.68 521.93,285.56 522.72,286.59 523.5,288.02 524.29,289.67 525.07,291.35 525.86,292.87 526.65,294.08 527.43,295.21 528.22,296.29 529.01,297.26 529.79,298.06 530.58,298.64 531.36,299.03 532.15,299.37 532.94,299.61 533.72,299.7" fill="none" stroke="#3a3a3a" stroke-width="0.5" stroke-linejoin="round" />
<text x="453.5" y="295.3" font-size="3.0" text-anchor="start" fill="#333" >MobileNetV2</text>
<path d="M463.74,313.9 L464.53,313.84 L465.31,313.65 L466.1,313.38 L466.89,313.02 L467.67,312.62 L468.46,312.11 L469.24,311.2 L470.03,309.98 L470.82,308.59 L471.6,307.17 L472.39,305.89 L473.18,304.56 L473.96,303.04 L474.75,301.5 L475.54,300.09 L476.32,298.98 L477.11,298.31 L477.89,298.22 L478.68,298.45 L479.47,298.85 L480.25,299.36 L481.04,299.91 L481.83,300.65 L482.61,301.67 L483.4,302.82 L484.18,303.97 L484.97,305 L485.76,305.82 L486.54,306.6 L487.33,307.36 L488.12,308.07 L488.9,308.72 L489.69,309.27 L490.48,309.7 L491.26,310.01 L492.05,310.27 L492.83,310.53 L493.62,310.76 L494.41,310.97 L495.19,311.15 L495.98,311.3 L496.77,311.41 L497.55,311.48 L498.34,311.5 L499.13,311.48 L499.91,311.42 L500.7,311.32 L501.48,311.2 L502.27,311.04 L503.06,310.87 L503.84,310.66 L504.63,310.44 L505.42,310.13 L506.2,309.59 L506.99,308.86 L507.77,308.01 L508.56,307.08 L509.35,306.13 L510.13,305.2 L510.92,304.25 L511.71,303.12 L512.49,301.92 L513.28,300.79 L514.07,299.88 L514.85,299.33 L515.64,298.95 L516.42,298.61 L517.21,298.36 L518,298.22 L518.78,298.25 L519.57,298.6 L520.36,299.21 L521.14,299.96 L521.93,300.77 L522.72,301.69 L523.5,302.93 L524.29,304.34 L525.07,305.79 L525.86,307.13 L526.65,308.26 L527.43,309.36 L528.22,310.44 L529.01,311.43 L529.79,312.25 L530.58,312.84 L531.36,313.23 L532.15,313.57 L532.94,313.81 L533.72,313.9 L533.72,313.9 L463.74,313.9 Z" fill="#fa8a5e"/>
<line x1="453" y1="313.9" x2="544.5" y2="313.9" stroke="#8a8a8a" stroke-width="0.75" />
<polyline points="463.74,313.9 464.53,313.84 465.31,313.65 466.1,313.38 466.89,313.02 467.67,312.62 468.46,312.11 469.24,311.2 470.03,309.98 470.82,308.59 471.6,307.17 472.39,305.89 473.18,304.56 473.96,303.04 474.75,301.5 475.54,300.09 476.32,298.98 477.11,298.31 477.89,298.22 478.68,298.45 479.47,298.85 480.25,299.36 481.04,299.91 481.83,300.65 482.61,301.67 483.4,302.82 484.18,303.97 484.97,305 485.76,305.82 486.54,306.6 487.33,307.36 488.12,308.07 488.9,308.72 489.69,309.27 490.48,309.7 491.26,310.01 492.05,310.27 492.83,310.53 493.62,310.76 494.41,310.97 495.19,311.15 495.98,311.3 496.77,311.41 497.55,311.48 498.34,311.5 499.13,311.48 499.91,311.42 500.7,311.32 501.48,311.2 502.27,311.04 503.06,310.87 503.84,310.66 504.63,310.44 505.42,310.13 506.2,309.59 506.99,308.86 507.77,308.01 508.56,307.08 509.35,306.13 510.13,305.2 510.92,304.25 511.71,303.12 512.49,301.92 513.28,300.79 514.07,299.88 514.85,299.33 515.64,298.95 516.42,298.61 517.21,298.36 518,298.22 518.78,298.25 519.57,298.6 520.36,299.21 521.14,299.96 521.93,300.77 522.72,301.69 523.5,302.93 524.29,304.34 525.07,305.79 525.86,307.13 526.65,308.26 527.43,309.36 528.22,310.44 529.01,311.43 529.79,312.25 530.58,312.84 531.36,313.23 532.15,313.57 532.94,313.81 533.72,313.9" fill="none" stroke="#3a3a3a" stroke-width="0.5" stroke-linejoin="round" />
<text x="453.5" y="309.5" font-size="3.0" text-anchor="start" fill="#333" >ResNet18</text>
<path d="M463.74,328.1 L464.53,328.03 L465.32,327.85 L466.11,327.57 L466.9,327.21 L467.7,326.8 L468.49,326.3 L469.28,325.43 L470.07,324.28 L470.86,322.99 L471.65,321.69 L472.44,320.51 L473.23,319.28 L474.03,317.88 L474.82,316.48 L475.61,315.21 L476.4,314.22 L477.19,313.67 L477.98,313.63 L478.77,313.86 L479.56,314.23 L480.36,314.69 L481.15,315.18 L481.94,315.85 L482.73,316.71 L483.52,317.66 L484.31,318.6 L485.1,319.4 L485.89,320.04 L486.68,320.65 L487.48,321.24 L488.27,321.78 L489.06,322.27 L489.85,322.68 L490.64,323 L491.43,323.23 L492.22,323.45 L493.01,323.65 L493.81,323.84 L494.6,324 L495.39,324.15 L496.18,324.26 L496.97,324.34 L497.76,324.39 L498.55,324.4 L499.34,324.36 L500.13,324.27 L500.93,324.15 L501.72,323.99 L502.51,323.8 L503.3,323.58 L504.09,323.33 L504.88,323.06 L505.67,322.61 L506.46,321.93 L507.26,321.07 L508.05,320.09 L508.84,319.06 L509.63,318.03 L510.42,317.07 L511.21,316.07 L512,314.96 L512.79,313.81 L513.59,312.7 L514.38,311.71 L515.17,310.91 L515.96,310.35 L516.75,309.83 L517.54,309.37 L518.33,309.02 L519.12,308.82 L519.91,308.89 L520.71,309.4 L521.5,310.24 L522.29,311.26 L523.08,312.31 L523.87,313.68 L524.66,315.4 L525.45,317.28 L526.24,319.12 L527.04,320.74 L527.83,322.09 L528.62,323.43 L529.41,324.7 L530.2,325.81 L530.99,326.67 L531.78,327.23 L532.57,327.65 L533.36,327.97 L534.16,328.1 L534.16,328.1 L463.74,328.1 Z" fill="#8c9fcb"/>
<line x1="453" y1="328.1" x2="544.5" y2="328.1" stroke="#8a8a8a" stroke-width="0.75" />
<polyline points="463.74,328.1 464.53,328.03 465.32,327.85 466.11,327.57 466.9,327.21 467.7,326.8 468.49,326.3 469.28,325.43 470.07,324.28 470.86,322.99 471.65,321.69 472.44,320.51 473.23,319.28 474.03,317.88 474.82,316.48 475.61,315.21 476.4,314.22 477.19,313.67 477.98,313.63 478.77,313.86 479.56,314.23 480.36,314.69 481.15,315.18 481.94,315.85 482.73,316.71 483.52,317.66 484.31,318.6 485.1,319.4 485.89,320.04 486.68,320.65 487.48,321.24 488.27,321.78 489.06,322.27 489.85,322.68 490.64,323 491.43,323.23 492.22,323.45 493.01,323.65 493.81,323.84 494.6,324 495.39,324.15 496.18,324.26 496.97,324.34 497.76,324.39 498.55,324.4 499.34,324.36 500.13,324.27 500.93,324.15 501.72,323.99 502.51,323.8 503.3,323.58 504.09,323.33 504.88,323.06 505.67,322.61 506.46,321.93 507.26,321.07 508.05,320.09 508.84,319.06 509.63,318.03 510.42,317.07 511.21,316.07 512,314.96 512.79,313.81 513.59,312.7 514.38,311.71 515.17,310.91 515.96,310.35 516.75,309.83 517.54,309.37 518.33,309.02 519.12,308.82 519.91,308.89 520.71,309.4 521.5,310.24 522.29,311.26 523.08,312.31 523.87,313.68 524.66,315.4 525.45,317.28 526.24,319.12 527.04,320.74 527.83,322.09 528.62,323.43 529.41,324.7 530.2,325.81 530.99,326.67 531.78,327.23 532.57,327.65 533.36,327.97 534.16,328.1" fill="none" stroke="#3a3a3a" stroke-width="0.5" stroke-linejoin="round" />
<text x="453.5" y="323.7" font-size="3.0" text-anchor="start" fill="#333" >ResNet50</text>
<path d="M463.74,342.3 L464.53,342.25 L465.32,342.1 L466.11,341.88 L466.9,341.59 L467.7,341.26 L468.49,340.84 L469.28,340.09 L470.07,339.07 L470.86,337.92 L471.65,336.76 L472.44,335.72 L473.23,334.63 L474.03,333.39 L474.82,332.15 L475.61,331.03 L476.4,330.15 L477.19,329.66 L477.98,329.63 L478.77,329.8 L479.56,330.1 L480.36,330.47 L481.15,330.87 L481.94,331.44 L482.73,332.21 L483.52,333.07 L484.31,333.91 L485.1,334.63 L485.89,335.18 L486.68,335.7 L487.48,336.2 L488.27,336.66 L489.06,337.07 L489.85,337.42 L490.64,337.71 L491.43,337.93 L492.22,338.14 L493.01,338.34 L493.81,338.53 L494.6,338.69 L495.39,338.84 L496.18,338.96 L496.97,339.04 L497.76,339.09 L498.55,339.1 L499.34,339.04 L500.13,338.92 L500.93,338.74 L501.72,338.52 L502.51,338.25 L503.3,337.95 L504.09,337.61 L504.88,337.25 L505.67,336.69 L506.46,335.87 L507.26,334.85 L508.05,333.72 L508.84,332.53 L509.63,331.36 L510.42,330.27 L511.21,329.15 L512,327.93 L512.79,326.68 L513.59,325.49 L514.38,324.44 L515.17,323.61 L515.96,323.06 L516.75,322.56 L517.54,322.13 L518.33,321.8 L519.12,321.62 L519.91,321.7 L520.71,322.27 L521.5,323.22 L522.29,324.36 L523.08,325.54 L523.87,327.08 L524.66,329.02 L525.45,331.13 L526.24,333.17 L527.04,334.92 L527.83,336.32 L528.62,337.67 L529.41,338.93 L530.2,340.03 L530.99,340.88 L531.78,341.43 L532.57,341.85 L533.36,342.17 L534.16,342.3 L534.16,342.3 L463.74,342.3 Z" fill="#ea88c2"/>
<line x1="453" y1="342.3" x2="544.5" y2="342.3" stroke="#8a8a8a" stroke-width="0.75" />
<polyline points="463.74,342.3 464.53,342.25 465.32,342.1 466.11,341.88 466.9,341.59 467.7,341.26 468.49,340.84 469.28,340.09 470.07,339.07 470.86,337.92 471.65,336.76 472.44,335.72 473.23,334.63 474.03,333.39 474.82,332.15 475.61,331.03 476.4,330.15 477.19,329.66 477.98,329.63 478.77,329.8 479.56,330.1 480.36,330.47 481.15,330.87 481.94,331.44 482.73,332.21 483.52,333.07 484.31,333.91 485.1,334.63 485.89,335.18 486.68,335.7 487.48,336.2 488.27,336.66 489.06,337.07 489.85,337.42 490.64,337.71 491.43,337.93 492.22,338.14 493.01,338.34 493.81,338.53 494.6,338.69 495.39,338.84 496.18,338.96 496.97,339.04 497.76,339.09 498.55,339.1 499.34,339.04 500.13,338.92 500.93,338.74 501.72,338.52 502.51,338.25 503.3,337.95 504.09,337.61 504.88,337.25 505.67,336.69 506.46,335.87 507.26,334.85 508.05,333.72 508.84,332.53 509.63,331.36 510.42,330.27 511.21,329.15 512,327.93 512.79,326.68 513.59,325.49 514.38,324.44 515.17,323.61 515.96,323.06 516.75,322.56 517.54,322.13 518.33,321.8 519.12,321.62 519.91,321.7 520.71,322.27 521.5,323.22 522.29,324.36 523.08,325.54 523.87,327.08 524.66,329.02 525.45,331.13 526.24,333.17 527.04,334.92 527.83,336.32 528.62,337.67 529.41,338.93 530.2,340.03 530.99,340.88 531.78,341.43 532.57,341.85 533.36,342.17 534.16,342.3" fill="none" stroke="#3a3a3a" stroke-width="0.5" stroke-linejoin="round" />
<text x="453.5" y="337.9" font-size="3.0" text-anchor="start" fill="#333" >SCAResNet18</text>
<path d="M469.79,356.5 L470.53,356.31 L471.26,356.09 L472,355.84 L472.74,355.56 L473.48,355.23 L474.21,354.86 L474.95,354.46 L475.69,354.03 L476.43,353.59 L477.17,353.15 L477.9,352.71 L478.64,352.28 L479.38,351.84 L480.12,351.39 L480.85,350.94 L481.59,350.48 L482.33,350.02 L483.07,349.57 L483.81,349.11 L484.54,348.65 L485.28,348.19 L486.02,347.72 L486.76,347.26 L487.5,346.81 L488.23,346.38 L488.97,345.94 L489.71,345.5 L490.45,345.06 L491.18,344.64 L491.92,344.25 L492.66,343.89 L493.4,343.59 L494.14,343.32 L494.87,343.08 L495.61,342.85 L496.35,342.63 L497.09,342.42 L497.82,342.21 L498.56,342 L499.3,341.78 L500.04,341.57 L500.78,341.37 L501.51,341.17 L502.25,340.98 L502.99,340.81 L503.73,340.65 L504.46,340.48 L505.2,340.31 L505.94,340.14 L506.68,340 L507.42,339.88 L508.15,339.82 L508.89,339.8 L509.63,339.84 L510.37,339.92 L511.1,340.03 L511.84,340.16 L512.58,340.31 L513.32,340.48 L514.06,340.66 L514.79,340.91 L515.53,341.21 L516.27,341.58 L517.01,342.01 L517.74,342.56 L518.48,343.41 L519.22,344.44 L519.96,345.5 L520.7,346.48 L521.43,347.47 L522.17,348.48 L522.91,349.45 L523.65,350.35 L524.39,351.24 L525.12,352.1 L525.86,352.86 L526.6,353.47 L527.34,353.98 L528.07,354.44 L528.81,354.83 L529.55,355.16 L530.29,355.46 L531.03,355.72 L531.76,355.95 L532.5,356.13 L533.24,356.26 L533.98,356.37 L534.71,356.45 L535.45,356.5 L535.45,356.5 L469.79,356.5 Z" fill="#1db596"/>
<line x1="453" y1="356.5" x2="544.5" y2="356.5" stroke="#8a8a8a" stroke-width="0.75" />
<polyline points="469.79,356.5 470.53,356.31 471.26,356.09 472,355.84 472.74,355.56 473.48,355.23 474.21,354.86 474.95,354.46 475.69,354.03 476.43,353.59 477.17,353.15 477.9,352.71 478.64,352.28 479.38,351.84 480.12,351.39 480.85,350.94 481.59,350.48 482.33,350.02 483.07,349.57 483.81,349.11 484.54,348.65 485.28,348.19 486.02,347.72 486.76,347.26 487.5,346.81 488.23,346.38 488.97,345.94 489.71,345.5 490.45,345.06 491.18,344.64 491.92,344.25 492.66,343.89 493.4,343.59 494.14,343.32 494.87,343.08 495.61,342.85 496.35,342.63 497.09,342.42 497.82,342.21 498.56,342 499.3,341.78 500.04,341.57 500.78,341.37 501.51,341.17 502.25,340.98 502.99,340.81 503.73,340.65 504.46,340.48 505.2,340.31 505.94,340.14 506.68,340 507.42,339.88 508.15,339.82 508.89,339.8 509.63,339.84 510.37,339.92 511.1,340.03 511.84,340.16 512.58,340.31 513.32,340.48 514.06,340.66 514.79,340.91 515.53,341.21 516.27,341.58 517.01,342.01 517.74,342.56 518.48,343.41 519.22,344.44 519.96,345.5 520.7,346.48 521.43,347.47 522.17,348.48 522.91,349.45 523.65,350.35 524.39,351.24 525.12,352.1 525.86,352.86 526.6,353.47 527.34,353.98 528.07,354.44 528.81,354.83 529.55,355.16 530.29,355.46 531.03,355.72 531.76,355.95 532.5,356.13 533.24,356.26 533.98,356.37 534.71,356.45 535.45,356.5" fill="none" stroke="#3a3a3a" stroke-width="0.5" stroke-linejoin="round" />
<text x="453.5" y="352.1" font-size="3.0" text-anchor="start" fill="#333" >DeepsmirUD</text>
<line x1="455.1" y1="356.9" x2="455.1" y2="358.2" stroke="#555555" stroke-width="0.4" />
<text x="455.1" y="361" font-size="2.9" text-anchor="middle" fill="#333333" >-0.50</text>
<line x1="465.9" y1="356.9" x2="465.9" y2="358.2" stroke="#555555" stroke-width="0.4" />
<text x="465.9" y="361" font-size="2.9" text-anchor="middle" fill="#333333" >-0.25</text>
<line x1="476.7" y1="356.9" x2="476.7" y2="358.2" stroke="#555555" stroke-width="0.4" />
<text x="476.7" y="361" font-size="2.9" text-anchor="middle" fill="#333333" >0.00</text>
<line x1="487.5" y1="356.9" x2="487.5" y2="358.2" stroke="#555555" stroke-width="0.4" />
<text x="487.5" y="361" font-size="2.9" text-anchor="middle" fill="#333333" >0.25</text>
<line x1="498.3" y1="356.9" x2="498.3" y2="358.2" stroke="#555555" stroke-width="0.4" />
<text x="498.3" y="361" font-size="2.9" text-anchor="middle" fill="#333333" >0.50</text>
<line x1="509.1" y1="356.9" x2="509.1" y2="358.2" stroke="#555555" stroke-width="0.4" />
<text x="509.1" y="361" font-size="2.9" text-anchor="middle" fill="#333333" >0.75</text>
<line x1="519.9" y1="356.9" x2="519.9" y2="358.2" stroke="#555555" stroke-width="0.4" />
<text x="519.9" y="361" font-size="2.9" text-anchor="middle" fill="#333333" >1.00</text>
<line x1="530.7" y1="356.9" x2="530.7" y2="358.2" stroke="#555555" stroke-width="0.4" />
<text x="530.7" y="361" font-size="2.9" text-anchor="middle" fill="#333333" >1.25</text>
<line x1="541.5" y1="356.9" x2="541.5" y2="358.2" stroke="#555555" stroke-width="0.4" />
<text x="541.5" y="361" font-size="2.9" text-anchor="middle" fill="#333333" >1.50</text>
<text x="497.5" y="364.9" font-size="3.1" text-anchor="middle" fill="#333333" >Prediction</text>
</svg></body></html>
